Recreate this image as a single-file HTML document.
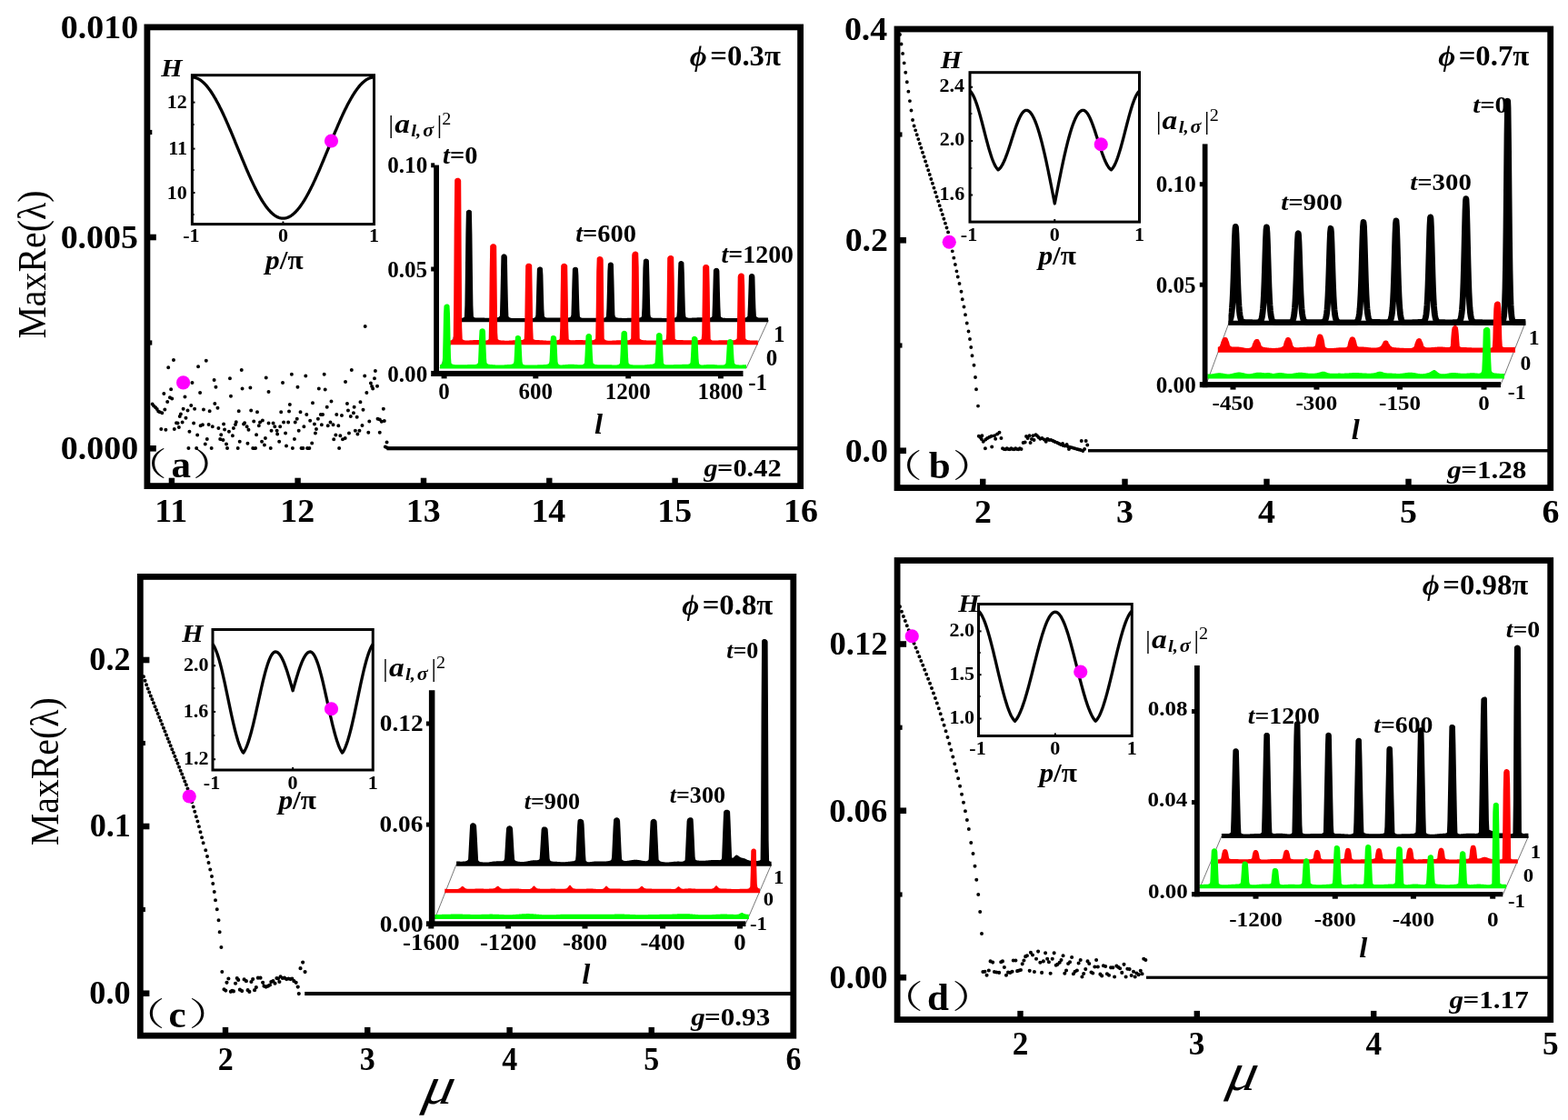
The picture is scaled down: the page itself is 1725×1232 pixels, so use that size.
<!DOCTYPE html>
<html lang="en">
<head>
<meta charset="utf-8">
<title>MaxRe(λ) versus μ</title>
<style>
html,body{margin:0;padding:0;background:#fff;}
body{width:1725px;height:1232px;overflow:hidden;}
svg{display:block;font-family:"Liberation Serif",serif;}
svg text{fill:#000;}
</style>
</head>
<body>
<svg width="1725" height="1232" viewBox="0 0 1725 1232">
<rect x="0" y="0" width="1725" height="1232" fill="#fff"/>
<rect x="161.9" y="29.9" width="718.7" height="504.7" fill="none" stroke="#000" stroke-width="6.8"/>
<rect x="164.3" y="257.7" width="7.5" height="6.6" fill="#000"/>
<rect x="164.3" y="490" width="7.5" height="6.6" fill="#000"/>
<rect x="164.3" y="142.9" width="3" height="5.2" fill="#000"/>
<rect x="164.3" y="374.4" width="3" height="5.2" fill="#000"/>
<rect x="185.7" y="525.7" width="6.4" height="7.3" fill="#000"/>
<rect x="324.4" y="525.7" width="6.4" height="7.3" fill="#000"/>
<rect x="462.8" y="525.7" width="6.4" height="7.3" fill="#000"/>
<rect x="601.1" y="525.7" width="6.4" height="7.3" fill="#000"/>
<rect x="739.4" y="525.7" width="6.4" height="7.3" fill="#000"/>
<text transform="translate(66.83 41.8) scale(1.03 1)" font-size="36.8" font-weight="bold" font-style="normal">0.010</text>
<text transform="translate(66.64 272.8) scale(1.03 1)" font-size="36.8" font-weight="bold" font-style="normal">0.005</text>
<text transform="translate(66.83 504.8) scale(1.03 1)" font-size="36.8" font-weight="bold" font-style="normal">0.000</text>
<text transform="translate(170.32 573.9) scale(1.03 1)" font-size="36.8" font-weight="bold" font-style="normal">11</text>
<text transform="translate(308.29 573.9) scale(1.03 1)" font-size="36.8" font-weight="bold" font-style="normal">12</text>
<text transform="translate(446.7 573.9) scale(1.03 1)" font-size="36.8" font-weight="bold" font-style="normal">13</text>
<text transform="translate(584.41 573.9) scale(1.03 1)" font-size="36.8" font-weight="bold" font-style="normal">14</text>
<text transform="translate(723.2 573.9) scale(1.03 1)" font-size="36.8" font-weight="bold" font-style="normal">15</text>
<text transform="translate(862.1 573.9) scale(1.03 1)" font-size="36.8" font-weight="bold" font-style="normal">16</text>
<text transform="translate(50.2 372.59) rotate(-90) scale(0.914 1)" font-size="43.6" font-weight="normal">MaxRe(λ)</text>
<text transform="translate(136.08 523) scale(1.352 1)" font-size="35.29" font-weight="normal" style="font-family:'Noto Serif CJK SC','Liberation Serif',serif">（</text>
<text transform="translate(212.1 523) scale(1.352 1)" font-size="35.29" font-weight="normal" style="font-family:'Noto Serif CJK SC','Liberation Serif',serif">）</text>
<text transform="translate(188.41 524.8)" font-size="43" font-weight="bold" font-style="normal">a</text>
<text transform="translate(758.83 71.6) scale(1.04 1)" font-size="31.5"><tspan font-weight="bold" font-style="italic">ϕ</tspan><tspan font-weight="bold" font-style="normal" dx="3.46">=0.3π</tspan></text>
<text transform="translate(774.55 523.5) scale(1.085 1)" font-size="28"><tspan font-weight="bold" font-style="italic">g</tspan><tspan font-weight="bold" font-style="normal" dx="-0.56">=0.42</tspan></text>
<path d="M190.97 395.93h0M185.19 404.35h0M218.06 403.33h0M226.78 396.74h0M265.74 407.09h0M252.96 416.22h0M292.73 415.51h0M235.61 418.04h0M211.46 420.88h0M237.44 425.65h0M266.55 427.38h0M275.38 426.46h0M188.13 428.19h0M180.32 432.96h0M220.09 432.04h0M203.45 436.61h0M253.97 435.8h0M186.91 437.32h0M189.25 438.54h0M184.17 442.09h0M236.32 444.12h0M167.64 444.42h0M169.16 446.45h0M171.19 448.28h0M172.71 450h0M174.23 452.54h0M175.75 453.25h0M178.29 454.36h0M181.33 450.51h0M210.25 445.94h0M214.1 449.7h0M201.62 449.7h0M206.49 451.52h0M223.94 450.51h0M230.64 452.33h0M239.46 448.78h0M262.7 452.33h0M276.19 451.52h0M282.99 453.35h0M198.88 455.58h0M197.77 458.12h0M204.46 459.84h0M194.02 465.22h0M195.54 465.42h0M200.61 464.41h0M213.09 465.42h0M259.76 464.2h0M258.94 467.04h0M246.06 466.44h0M220.6 468.26h0M222.93 467.25h0M229.62 467.04h0M233.78 469.28h0M269.09 465.22h0M268.07 466.44h0M271.62 469.28h0M279.23 463.49h0M288.87 462.48h0M286.03 464.41h0M284.81 468.26h0M177.28 472.02h0M182.35 472.83h0M191.78 472.02h0M196.86 469.99h0M240.38 471h0M247.07 472.62h0M256.91 471h0M251.94 474.65h0M273.45 472.83h0M208.42 474.65h0M217.15 478.41h0M243.22 478.2h0M255.9 479.22h0M282.07 478.2h0M227.8 482.97h0M242.2 482.97h0M245.45 483.99h0M291.91 481.96h0M263.71 485.81h0M288.06 485.81h0M225.77 488.55h0M249 488.55h0M272.44 487.74h0M290.9 489.57h0M207.41 493.12h0M216.13 492.91h0M232.67 493.12h0M250.02 493.12h0M261.68 493.12h0M278.22 493.12h0M281.06 493.12h0M320.87 411.75h0M336.29 413.48h0M356.68 411.75h0M386.81 407.09h0M412.89 407.9h0M401.22 413.48h0M411.97 416.22h0M311.03 421.09h0M380.02 420.07h0M407.91 421.59h0M409.13 424.94h0M410.15 427.48h0M415.02 424.64h0M327.46 425.65h0M350.8 427.38h0M357.7 428.39h0M295.51 431.03h0M403.35 432.04h0M318.84 444.93h0M344 443.2h0M364.49 441.38h0M359.73 447.77h0M381.94 444.12h0M396.45 442.19h0M389.65 447.77h0M399.49 450.71h0M421.81 449.7h0M309.2 453.35h0M318.03 452.54h0M330.51 453.35h0M337.3 456.09h0M352.83 456.09h0M355.06 456.09h0M370.28 456.09h0M375.96 457.1h0M382.96 451.52h0M388.94 454.36h0M385.8 458.12h0M392.7 458.83h0M326.75 460.86h0M324.73 464.51h0M341.16 462.68h0M349.88 460.86h0M415.52 460.86h0M417.76 461.46h0M419.78 463.7h0M422.83 462.89h0M406.29 463.49h0M295.51 465.42h0M300.58 465.42h0M312.04 464.41h0M317.12 464.41h0M345.93 466.44h0M353.84 467.25h0M363.48 464.41h0M360.74 468.26h0M366.52 467.25h0M372.31 468.26h0M398.48 468.06h0M302.3 469.28h0M308.19 469.28h0M334.36 469.28h0M298.55 473.84h0M304.64 473.64h0M328.68 473.84h0M347.96 472.02h0M390.87 473.64h0M395.44 473.64h0M305.15 477.6h0M314.07 476.58h0M346.94 476.58h0M383.97 476.58h0M393.41 477.6h0M405.28 475.67h0M417.76 475.67h0M369.36 478.41h0M374.33 479.22h0M379.71 481.96h0M376.97 483.28h0M367.23 483.18h0M323.91 482.97h0M307.17 485.81h0M343.19 487.54h0M314.99 490.58h0M425.57 486.52h0M297.74 493.12h0M321.88 493.12h0M331.52 493.12h0M333.35 493.12h0M338.12 493.12h0M340.35 493.12h0M373.12 493.12h0M423.84 491.6h0M425.87 492.41h0M401.7 358.9h0" fill="none" stroke="#000" stroke-width="4" stroke-linecap="round"/>
<rect x="425.5" y="491.1" width="452.5" height="4.2" fill="#000"/>
<circle cx="201.6" cy="420.9" r="7.6" fill="#ff00ff"/>
<rect x="211.4" y="82.7" width="200.1" height="163.9" fill="none" stroke="#000" stroke-width="3"/>
<clipPath id="c2099"><rect x="209.9" y="81.2" width="203.1" height="166.9"/></clipPath>
<g clip-path="url(#c2099)">
<path d="M211.4 85L212.23 85.03L213.07 85.11L213.9 85.24L214.74 85.43L215.57 85.66L216.4 85.96L217.24 86.3L218.07 86.7L218.9 87.14L219.74 87.64L220.57 88.2L221.41 88.8L222.24 89.45L223.07 90.15L223.91 90.91L224.74 91.71L225.57 92.56L226.41 93.46L227.24 94.4L228.08 95.4L228.91 96.44L229.74 97.52L230.58 98.65L231.41 99.82L232.24 101.04L233.08 102.29L233.91 103.59L234.75 104.93L235.58 106.31L236.41 107.73L237.25 109.18L238.08 110.68L238.91 112.2L239.75 113.76L240.58 115.36L241.41 116.99L242.25 118.65L243.08 120.34L243.92 122.05L244.75 123.8L245.58 125.57L246.42 127.37L247.25 129.19L248.09 131.04L248.92 132.9L249.75 134.79L250.59 136.7L251.42 138.62L252.25 140.56L253.09 142.52L253.92 144.48L254.75 146.47L255.59 148.46L256.42 150.46L257.26 152.47L258.09 154.49L258.92 156.51L259.76 158.54L260.59 160.57L261.43 162.6L262.26 164.63L263.09 166.66L263.93 168.69L264.76 170.71L265.59 172.73L266.43 174.74L267.26 176.74L268.1 178.73L268.93 180.72L269.76 182.68L270.6 184.64L271.43 186.58L272.26 188.5L273.1 190.41L273.93 192.3L274.76 194.16L275.6 196.01L276.43 197.83L277.27 199.63L278.1 201.4L278.93 203.15L279.77 204.86L280.6 206.55L281.44 208.21L282.27 209.84L283.1 211.44L283.94 213L284.77 214.52L285.6 216.02L286.44 217.47L287.27 218.89L288.11 220.27L288.94 221.61L289.77 222.91L290.61 224.16L291.44 225.38L292.27 226.55L293.11 227.68L293.94 228.76L294.77 229.8L295.61 230.8L296.44 231.74L297.28 232.64L298.11 233.49L298.94 234.29L299.78 235.05L300.61 235.75L301.44 236.4L302.28 237L303.11 237.56L303.95 238.06L304.78 238.5L305.61 238.9L306.45 239.24L307.28 239.54L308.12 239.77L308.95 239.96L309.78 240.09L310.62 240.17L311.45 240.2L312.28 240.17L313.12 240.09L313.95 239.96L314.78 239.77L315.62 239.54L316.45 239.24L317.29 238.9L318.12 238.5L318.95 238.06L319.79 237.56L320.62 237L321.46 236.4L322.29 235.75L323.12 235.05L323.96 234.29L324.79 233.49L325.62 232.64L326.46 231.74L327.29 230.8L328.12 229.8L328.96 228.76L329.79 227.68L330.63 226.55L331.46 225.38L332.29 224.16L333.13 222.91L333.96 221.61L334.8 220.27L335.63 218.89L336.46 217.47L337.3 216.02L338.13 214.52L338.96 213L339.8 211.44L340.63 209.84L341.47 208.21L342.3 206.55L343.13 204.86L343.97 203.15L344.8 201.4L345.63 199.63L346.47 197.83L347.3 196.01L348.13 194.16L348.97 192.3L349.8 190.41L350.64 188.5L351.47 186.58L352.3 184.64L353.14 182.68L353.97 180.72L354.81 178.73L355.64 176.74L356.47 174.74L357.31 172.73L358.14 170.71L358.97 168.69L359.81 166.66L360.64 164.63L361.48 162.6L362.31 160.57L363.14 158.54L363.98 156.51L364.81 154.49L365.64 152.47L366.48 150.46L367.31 148.46L368.14 146.47L368.98 144.48L369.81 142.52L370.65 140.56L371.48 138.62L372.31 136.7L373.15 134.79L373.98 132.9L374.81 131.04L375.65 129.19L376.48 127.37L377.32 125.57L378.15 123.8L378.98 122.05L379.82 120.34L380.65 118.65L381.49 116.99L382.32 115.36L383.15 113.76L383.99 112.2L384.82 110.68L385.65 109.18L386.49 107.73L387.32 106.31L388.15 104.93L388.99 103.59L389.82 102.29L390.66 101.04L391.49 99.82L392.32 98.65L393.16 97.52L393.99 96.44L394.83 95.4L395.66 94.4L396.49 93.46L397.33 92.56L398.16 91.71L398.99 90.91L399.83 90.15L400.66 89.45L401.5 88.8L402.33 88.2L403.16 87.64L404 87.14L404.83 86.7L405.66 86.3L406.5 85.96L407.33 85.66L408.16 85.43L409 85.24L409.83 85.11L410.67 85.03L411.5 85" fill="none" stroke="#000" stroke-width="3.3" stroke-linejoin="round" stroke-linecap="butt"/>
</g>
<text transform="translate(183.73 119.4) scale(1.05 1)" font-size="21" font-weight="bold" font-style="normal">12</text>
<rect x="212.4" y="111.6" width="2.1" height="2" fill="#000"/>
<text transform="translate(185.17 170.4) scale(1.05 1)" font-size="21" font-weight="bold" font-style="normal">11</text>
<rect x="212.4" y="162.6" width="2.1" height="2" fill="#000"/>
<text transform="translate(183.73 218.8) scale(1.05 1)" font-size="21" font-weight="bold" font-style="normal">10</text>
<rect x="212.4" y="211" width="2.1" height="2" fill="#000"/>
<rect x="212.4" y="136.3" width="1.5" height="1.4" fill="#000"/>
<rect x="212.4" y="186.3" width="1.5" height="1.4" fill="#000"/>
<rect x="212.4" y="235.3" width="1.5" height="1.4" fill="#000"/>
<rect x="310.45" y="243.5" width="2" height="2.1" fill="#000"/>
<text transform="translate(201.19 266.4) scale(1.05 1)" font-size="21" font-weight="bold" font-style="normal">-1</text>
<text transform="translate(305.94 266.4) scale(1.05 1)" font-size="21" font-weight="bold" font-style="normal">0</text>
<text transform="translate(406.06 266.4) scale(1.05 1)" font-size="21" font-weight="bold" font-style="normal">1</text>
<text transform="translate(292.09 296.3) scale(1.06 1)" font-size="29.6"><tspan font-weight="bold" font-style="italic">p</tspan><tspan font-weight="bold" font-style="normal">/π</tspan></text>
<text transform="translate(177.15 83.9) scale(1.07 1)" font-size="28" font-weight="bold" font-style="italic">H</text>
<circle cx="364.5" cy="155" r="7.6" fill="#ff00ff"/>
<line x1="484" y1="405" x2="507.4" y2="352" stroke="#555" stroke-width="0.8"/>
<line x1="821" y1="405" x2="845.3" y2="352" stroke="#555" stroke-width="0.8"/>
<path d="M507.4 354.3L507.4 349.79L507.9 349.76L508.4 349.72L508.9 349.64L509.4 349.52L509.9 349.3L510.4 348.96L510.9 348.42L511.4 335.98L511.9 299.11L512.4 256.97L512.9 232.7L513.4 231.92L513.9 231.45L514.4 231.14L514.9 230.93L515.4 230.81L515.9 230.76L516.4 230.79L516.9 230.9L517.4 231.09L517.9 231.39L518.4 231.85L518.9 232.61L519.4 256.86L519.9 298.99L520.4 335.85L520.9 348.28L521.4 348.81L521.9 349.14L522.4 349.35L522.9 349.47L523.4 349.54L523.9 349.58L524.4 349.59L524.9 349.6L525.4 349.6L525.9 349.6L526.4 349.59L526.9 349.59L527.4 349.58L527.9 349.58L528.4 349.58L528.9 349.57L529.4 349.57L529.9 349.58L530.4 349.58L530.9 349.59L531.4 349.59L531.9 349.6L532.4 349.61L532.9 349.62L533.4 349.63L533.9 349.64L534.4 349.65L534.9 349.66L535.4 349.66L535.9 349.67L536.4 349.68L536.9 349.68L537.4 349.69L537.9 349.69L538.4 349.69L538.9 349.68L539.4 349.68L539.9 349.67L540.4 349.66L540.9 349.65L541.4 349.64L541.9 349.63L542.4 349.61L542.9 349.6L543.4 349.58L543.9 349.56L544.4 349.53L544.9 349.5L545.4 349.47L545.9 349.43L546.4 349.38L546.9 349.32L547.4 349.23L547.9 349.09L548.4 348.89L548.9 348.59L549.4 348.12L549.9 347.38L550.4 328.8L550.9 306.1L551.4 281.78L551.9 280.69L552.4 280.14L552.9 279.78L553.4 279.55L553.9 279.42L554.4 279.37L554.9 279.4L555.4 279.52L555.9 279.71L556.4 280.01L556.9 280.44L557.4 281.09L557.9 282.87L558.4 311.23L558.9 333.41L559.4 347.95L559.9 348.65L560.4 349.1L560.9 349.4L561.4 349.6L561.9 349.74L562.4 349.83L562.9 349.9L563.4 349.95L563.9 349.99L564.4 350.01L564.9 350.03L565.4 350.05L565.9 350.06L566.4 350.07L566.9 350.07L567.4 350.07L567.9 350.06L568.4 350.06L568.9 350.05L569.4 350.04L569.9 350.03L570.4 350.02L570.9 350.01L571.4 350L571.9 349.98L572.4 349.97L572.9 349.96L573.4 349.94L573.9 349.93L574.4 349.92L574.9 349.91L575.4 349.91L575.9 349.9L576.4 349.9L576.9 349.89L577.4 349.89L577.9 349.89L578.4 349.9L578.9 349.9L579.4 349.91L579.9 349.91L580.4 349.92L580.9 349.93L581.4 349.94L581.9 349.95L582.4 349.97L582.9 349.98L583.4 349.98L583.9 349.99L584.4 349.99L584.9 349.99L585.4 349.97L585.9 349.95L586.4 349.9L586.9 349.82L587.4 349.7L587.9 349.49L588.4 349.17L588.9 348.66L589.4 346.86L589.9 330.24L590.4 311.63L590.9 295.78L591.4 294.86L591.9 294.33L592.4 293.97L592.9 293.73L593.4 293.58L593.9 293.5L594.4 293.5L594.9 293.58L595.4 293.74L595.9 294.01L596.4 294.41L596.9 295.08L597.4 302.52L597.9 322.82L598.4 340.02L598.9 348L599.4 348.59L599.9 348.96L600.4 349.19L600.9 349.34L601.4 349.43L601.9 349.48L602.4 349.51L602.9 349.53L603.4 349.54L603.9 349.55L604.4 349.56L604.9 349.57L605.4 349.57L605.9 349.57L606.4 349.58L606.9 349.58L607.4 349.59L607.9 349.59L608.4 349.6L608.9 349.6L609.4 349.61L609.9 349.61L610.4 349.62L610.9 349.62L611.4 349.62L611.9 349.62L612.4 349.62L612.9 349.62L613.4 349.62L613.9 349.62L614.4 349.61L614.9 349.61L615.4 349.6L615.9 349.6L616.4 349.59L616.9 349.58L617.4 349.57L617.9 349.56L618.4 349.56L618.9 349.55L619.4 349.54L619.9 349.53L620.4 349.53L620.9 349.52L621.4 349.52L621.9 349.52L622.4 349.51L622.9 349.51L623.4 349.5L623.9 349.49L624.4 349.48L624.9 349.45L625.4 349.41L625.9 349.34L626.4 349.23L626.9 349.04L627.4 348.73L627.9 348.24L628.4 346.49L628.9 329.99L629.4 311.52L629.9 295.78L630.4 294.9L630.9 294.41L631.4 294.08L631.9 293.88L632.4 293.76L632.9 293.72L633.4 293.76L633.9 293.88L634.4 294.07L634.9 294.37L635.4 294.81L635.9 295.51L636.4 302.94L636.9 323.15L637.4 340.27L637.9 348.21L638.4 348.81L638.9 349.19L639.4 349.43L639.9 349.57L640.4 349.66L640.9 349.7L641.4 349.73L641.9 349.74L642.4 349.74L642.9 349.73L643.4 349.72L643.9 349.71L644.4 349.7L644.9 349.68L645.4 349.67L645.9 349.66L646.4 349.65L646.9 349.64L647.4 349.64L647.9 349.63L648.4 349.63L648.9 349.63L649.4 349.64L649.9 349.64L650.4 349.65L650.9 349.66L651.4 349.67L651.9 349.68L652.4 349.7L652.9 349.72L653.4 349.73L653.9 349.75L654.4 349.77L654.9 349.79L655.4 349.81L655.9 349.83L656.4 349.85L656.9 349.86L657.4 349.88L657.9 349.89L658.4 349.91L658.9 349.92L659.4 349.93L659.9 349.93L660.4 349.93L660.9 349.94L661.4 349.92L661.9 349.91L662.4 349.89L662.9 349.87L663.4 349.83L663.9 349.78L664.4 349.7L664.9 349.58L665.4 349.41L665.9 349.14L666.4 348.73L666.9 348.1L667.4 339.22L667.9 320.45L668.4 298.31L668.9 290.3L669.4 289.59L669.9 289.14L670.4 288.83L670.9 288.63L671.4 288.52L671.9 288.48L672.4 288.52L672.9 288.65L673.4 288.87L673.9 289.21L674.4 289.73L674.9 290.63L675.4 307.78L675.9 328.03L676.4 346.13L676.9 348.21L677.4 348.73L677.9 349.07L678.4 349.3L678.9 349.45L679.4 349.55L679.9 349.62L680.4 349.68L680.9 349.72L681.4 349.75L681.9 349.78L682.4 349.81L682.9 349.83L683.4 349.85L683.9 349.86L684.4 349.88L684.9 349.89L685.4 349.9L685.9 349.9L686.4 349.91L686.9 349.91L687.4 349.91L687.9 349.9L688.4 349.9L688.9 349.89L689.4 349.88L689.9 349.87L690.4 349.86L690.9 349.85L691.4 349.83L691.9 349.82L692.4 349.8L692.9 349.78L693.4 349.77L693.9 349.75L694.4 349.74L694.9 349.72L695.4 349.71L695.9 349.7L696.4 349.69L696.9 349.68L697.4 349.67L697.9 349.67L698.4 349.66L698.9 349.66L699.4 349.66L699.9 349.67L700.4 349.66L700.9 349.66L701.4 349.66L701.9 349.65L702.4 349.63L702.9 349.61L703.4 349.55L703.9 349.47L704.4 349.33L704.9 349.09L705.4 348.72L705.9 348.13L706.4 338.52L706.9 318.42L707.4 294.7L707.9 286.26L708.4 285.58L708.9 285.16L709.4 284.87L709.9 284.69L710.4 284.59L710.9 284.57L711.4 284.63L711.9 284.76L712.4 284.98L712.9 285.32L713.4 285.82L713.9 286.72L714.4 305.02L714.9 326.73L715.4 346.11L715.9 348.43L716.4 348.93L716.9 349.24L717.4 349.44L717.9 349.56L718.4 349.64L718.9 349.68L719.4 349.71L719.9 349.73L720.4 349.74L720.9 349.75L721.4 349.75L721.9 349.76L722.4 349.77L722.9 349.77L723.4 349.78L723.9 349.78L724.4 349.79L724.9 349.8L725.4 349.81L725.9 349.82L726.4 349.84L726.9 349.85L727.4 349.86L727.9 349.87L728.4 349.88L728.9 349.9L729.4 349.91L729.9 349.92L730.4 349.92L730.9 349.93L731.4 349.93L731.9 349.94L732.4 349.94L732.9 349.94L733.4 349.94L733.9 349.93L734.4 349.93L734.9 349.92L735.4 349.91L735.9 349.9L736.4 349.88L736.9 349.87L737.4 349.85L737.9 349.83L738.4 349.82L738.9 349.79L739.4 349.76L739.9 349.73L740.4 349.7L740.9 349.66L741.4 349.6L741.9 349.53L742.4 349.42L742.9 349.27L743.4 349.03L743.9 348.67L744.4 348.1L744.9 342.47L745.4 323.59L745.9 302.02L746.4 288.93L746.9 288.15L747.4 287.68L747.9 287.37L748.4 287.17L748.9 287.06L749.4 287.03L749.9 287.08L750.4 287.21L750.9 287.42L751.4 287.75L751.9 288.23L752.4 289.02L752.9 302.12L753.4 323.7L753.9 342.58L754.4 348.21L754.9 348.77L755.4 349.13L755.9 349.35L756.4 349.49L756.9 349.58L757.4 349.63L757.9 349.66L758.4 349.68L758.9 349.68L759.4 349.67L759.9 349.66L760.4 349.66L760.9 349.64L761.4 349.62L761.9 349.59L762.4 349.57L762.9 349.55L763.4 349.52L763.9 349.5L764.4 349.48L764.9 349.45L765.4 349.43L765.9 349.41L766.4 349.39L766.9 349.37L767.4 349.36L767.9 349.35L768.4 349.34L768.9 349.33L769.4 349.33L769.9 349.33L770.4 349.33L770.9 349.33L771.4 349.34L771.9 349.35L772.4 349.37L772.9 349.39L773.4 349.41L773.9 349.43L774.4 349.45L774.9 349.48L775.4 349.51L775.9 349.54L776.4 349.57L776.9 349.6L777.4 349.63L777.9 349.64L778.4 349.67L778.9 349.68L779.4 349.69L779.9 349.69L780.4 349.67L780.9 349.62L781.4 349.52L781.9 349.35L782.4 349.08L782.9 348.63L783.4 347.91L783.9 333.96L784.4 316.36L784.9 297.32L785.4 296.24L785.9 295.67L786.4 295.3L786.9 295.06L787.4 294.9L787.9 294.82L788.4 294.82L788.9 294.9L789.4 295.06L789.9 295.32L790.4 295.71L790.9 296.32L791.4 298.06L791.9 320.02L792.4 337.18L792.9 348.02L793.4 348.68L793.9 349.1L794.4 349.37L794.9 349.55L795.4 349.66L795.9 349.73L796.4 349.78L796.9 349.82L797.4 349.85L797.9 349.87L798.4 349.89L798.9 349.92L799.4 349.94L799.9 349.95L800.4 349.97L800.9 349.99L801.4 350L801.9 350.02L802.4 350.04L802.9 350.05L803.4 350.07L803.9 350.08L804.4 350.09L804.9 350.1L805.4 350.1L805.9 350.1L806.4 350.1L806.9 350.1L807.4 350.1L807.9 350.1L808.4 350.1L808.9 350.1L809.4 350.08L809.9 350.07L810.4 350.06L810.9 350.04L811.4 350.02L811.9 350L812.4 349.98L812.9 349.96L813.4 349.93L813.9 349.91L814.4 349.89L814.9 349.86L815.4 349.84L815.9 349.82L816.4 349.8L816.9 349.76L817.4 349.73L817.9 349.7L818.4 349.67L818.9 349.62L819.4 349.56L819.9 349.47L820.4 349.34L820.9 349.15L821.4 348.84L821.9 348.37L822.4 347.64L822.9 335.68L823.4 320.28L823.9 303.53L824.4 302.44L824.9 301.87L825.4 301.51L825.9 301.26L826.4 301.11L826.9 301.04L827.4 301.05L827.9 301.14L828.4 301.31L828.9 301.57L829.4 301.97L829.9 302.59L830.4 304.33L830.9 323.53L831.4 338.54L831.9 347.79L832.4 348.45L832.9 348.86L833.4 349.12L833.9 349.28L834.4 349.38L834.9 349.44L835.4 349.47L835.9 349.49L836.4 349.5L836.9 349.5L837.4 349.5L837.9 349.5L838.4 349.5L838.9 349.49L839.4 349.49L839.9 349.49L840.4 349.49L840.9 349.49L841.4 349.49L841.9 349.5L842.4 349.51L842.9 349.52L843.4 349.53L843.9 349.54L844.4 349.56L844.9 349.58L845.3 354.3Z" fill="#000"/>
<path d="M495.2 379.3L495.2 374.46L495.7 374.39L496.2 374.3L496.7 374.16L497.2 373.98L497.7 373.7L498.2 373.28L498.7 372.64L499.2 329.33L499.7 245.17L500.2 197.97L500.7 197.11L501.2 196.58L501.7 196.21L502.2 195.95L502.7 195.79L503.2 195.7L503.7 195.68L504.2 195.74L504.7 195.87L505.2 196.08L505.7 196.39L506.2 196.82L506.7 197.46L507.2 198.65L507.7 280.98L508.2 359.66L508.7 372.98L509.2 373.51L509.7 373.86L510.2 374.08L510.7 374.22L511.2 374.32L511.7 374.38L512.2 374.42L512.7 374.44L513.2 374.46L513.7 374.46L514.2 374.45L514.7 374.45L515.2 374.43L515.7 374.41L516.2 374.39L516.7 374.36L517.2 374.33L517.7 374.3L518.2 374.27L518.7 374.24L519.2 374.21L519.7 374.17L520.2 374.14L520.7 374.12L521.2 374.09L521.7 374.07L522.2 374.05L522.7 374.03L523.2 374.02L523.7 374.01L524.2 374.01L524.7 374.01L525.2 374.02L525.7 374.03L526.2 374.04L526.7 374.06L527.2 374.08L527.7 374.11L528.2 374.14L528.7 374.17L529.2 374.21L529.7 374.24L530.2 374.28L530.7 374.31L531.2 374.35L531.7 374.38L532.2 374.41L532.7 374.43L533.2 374.45L533.7 374.46L534.2 374.46L534.7 374.43L535.2 374.39L535.7 374.3L536.2 374.15L536.7 373.9L537.2 373.52L537.7 372.9L538.2 348.2L538.7 298.85L539.2 270.57L539.7 269.72L540.2 269.18L540.7 268.8L541.2 268.53L541.7 268.34L542.2 268.23L542.7 268.19L543.2 268.21L543.7 268.31L544.2 268.49L544.7 268.77L545.2 269.17L545.7 269.78L546.2 270.94L546.7 319.56L547.2 365.68L547.7 372.91L548.2 373.43L548.7 373.77L549.2 373.99L549.7 374.14L550.2 374.25L550.7 374.32L551.2 374.38L551.7 374.43L552.2 374.47L552.7 374.51L553.2 374.54L553.7 374.58L554.2 374.6L554.7 374.62L555.2 374.64L555.7 374.66L556.2 374.67L556.7 374.68L557.2 374.68L557.7 374.68L558.2 374.67L558.7 374.67L559.2 374.65L559.7 374.63L560.2 374.61L560.7 374.59L561.2 374.56L561.7 374.53L562.2 374.49L562.7 374.46L563.2 374.42L563.7 374.38L564.2 374.35L564.7 374.31L565.2 374.27L565.7 374.24L566.2 374.2L566.7 374.17L567.2 374.15L567.7 374.12L568.2 374.1L568.7 374.09L569.2 374.08L569.7 374.07L570.2 374.06L570.7 374.06L571.2 374.06L571.7 374.06L572.2 374.06L572.7 374.06L573.2 374.06L573.7 374.04L574.2 374L574.7 373.94L575.2 373.82L575.7 373.62L576.2 373.29L576.7 372.75L577.2 360.55L577.7 323.01L578.2 292.13L578.7 291.18L579.2 290.62L579.7 290.24L580.2 289.98L580.7 289.8L581.2 289.69L581.7 289.65L582.2 289.68L582.7 289.77L583.2 289.93L583.7 290.18L584.2 290.55L584.7 291.09L585.2 292.03L585.7 322.91L586.2 360.44L586.7 372.64L587.2 373.17L587.7 373.51L588.2 373.71L588.7 373.84L589.2 373.92L589.7 373.97L590.2 374L590.7 374.02L591.2 374.04L591.7 374.06L592.2 374.07L592.7 374.1L593.2 374.12L593.7 374.14L594.2 374.17L594.7 374.2L595.2 374.23L595.7 374.26L596.2 374.3L596.7 374.33L597.2 374.37L597.7 374.41L598.2 374.45L598.7 374.48L599.2 374.52L599.7 374.55L600.2 374.58L600.7 374.61L601.2 374.63L601.7 374.65L602.2 374.66L602.7 374.68L603.2 374.68L603.7 374.69L604.2 374.68L604.7 374.68L605.2 374.67L605.7 374.66L606.2 374.64L606.7 374.62L607.2 374.6L607.7 374.58L608.2 374.56L608.7 374.53L609.2 374.51L609.7 374.48L610.2 374.45L610.7 374.42L611.2 374.39L611.7 374.36L612.2 374.32L612.7 374.27L613.2 374.2L613.7 374.1L614.2 373.95L614.7 373.73L615.2 373.38L615.7 372.83L616.2 360.61L616.7 323.07L617.2 292.18L617.7 291.23L618.2 290.69L618.7 290.32L619.2 290.07L619.7 289.91L620.2 289.82L620.7 289.81L621.2 289.86L621.7 289.98L622.2 290.17L622.7 290.45L623.2 290.84L623.7 291.41L624.2 292.37L624.7 323.27L625.2 360.81L625.7 373.03L626.2 373.57L626.7 373.9L627.2 374.1L627.7 374.22L628.2 374.28L628.7 374.31L629.2 374.31L629.7 374.3L630.2 374.28L630.7 374.25L631.2 374.23L631.7 374.2L632.2 374.17L632.7 374.14L633.2 374.11L633.7 374.08L634.2 374.05L634.7 374.03L635.2 374.02L635.7 374L636.2 374L636.7 373.99L637.2 373.99L637.7 373.99L638.2 374L638.7 374.01L639.2 374.03L639.7 374.04L640.2 374.06L640.7 374.09L641.2 374.11L641.7 374.14L642.2 374.17L642.7 374.19L643.2 374.22L643.7 374.25L644.2 374.27L644.7 374.3L645.2 374.32L645.7 374.34L646.2 374.36L646.7 374.37L647.2 374.38L647.7 374.39L648.2 374.39L648.7 374.39L649.2 374.39L649.7 374.37L650.2 374.36L650.7 374.34L651.2 374.31L651.7 374.27L652.2 374.21L652.7 374.12L653.2 374L653.7 373.81L654.2 373.53L654.7 373.09L655.2 372.41L655.7 343.54L656.2 298.71L656.7 284.04L657.2 283.29L657.7 282.81L658.2 282.48L658.7 282.25L659.2 282.11L659.7 282.05L660.2 282.06L660.7 282.14L661.2 282.3L661.7 282.54L662.2 282.87L662.7 283.35L663.2 284.05L663.7 285.94L664.2 335.64L664.7 372.5L665.2 373.26L665.7 373.76L666.2 374.08L666.7 374.29L667.2 374.43L667.7 374.53L668.2 374.59L668.7 374.63L669.2 374.66L669.7 374.68L670.2 374.69L670.7 374.7L671.2 374.69L671.7 374.68L672.2 374.67L672.7 374.65L673.2 374.63L673.7 374.61L674.2 374.58L674.7 374.56L675.2 374.53L675.7 374.5L676.2 374.47L676.7 374.44L677.2 374.41L677.7 374.38L678.2 374.36L678.7 374.33L679.2 374.31L679.7 374.29L680.2 374.27L680.7 374.26L681.2 374.25L681.7 374.24L682.2 374.24L682.7 374.24L683.2 374.24L683.7 374.25L684.2 374.26L684.7 374.27L685.2 374.28L685.7 374.29L686.2 374.31L686.7 374.32L687.2 374.34L687.7 374.35L688.2 374.36L688.7 374.37L689.2 374.37L689.7 374.37L690.2 374.36L690.7 374.34L691.2 374.29L691.7 374.22L692.2 374.09L692.7 373.9L693.2 373.6L693.7 373.12L694.2 372.37L694.7 333.16L695.2 280.44L695.7 278.56L696.2 277.86L696.7 277.39L697.2 277.05L697.7 276.81L698.2 276.66L698.7 276.57L699.2 276.55L699.7 276.61L700.2 276.73L700.7 276.95L701.2 277.27L701.7 277.73L702.2 278.47L702.7 293.92L703.2 341.48L703.7 372.21L704.2 372.89L704.7 373.32L705.2 373.6L705.7 373.79L706.2 373.92L706.7 374.01L707.2 374.08L707.7 374.13L708.2 374.18L708.7 374.22L709.2 374.26L709.7 374.3L710.2 374.33L710.7 374.36L711.2 374.39L711.7 374.42L712.2 374.44L712.7 374.47L713.2 374.49L713.7 374.5L714.2 374.52L714.7 374.53L715.2 374.53L715.7 374.54L716.2 374.54L716.7 374.54L717.2 374.53L717.7 374.52L718.2 374.51L718.7 374.5L719.2 374.48L719.7 374.47L720.2 374.45L720.7 374.43L721.2 374.42L721.7 374.4L722.2 374.38L722.7 374.37L723.2 374.36L723.7 374.35L724.2 374.34L724.7 374.33L725.2 374.33L725.7 374.32L726.2 374.33L726.7 374.33L727.2 374.33L727.7 374.33L728.2 374.34L728.7 374.34L729.2 374.33L729.7 374.32L730.2 374.28L730.7 374.22L731.2 374.11L731.7 373.92L732.2 373.62L732.7 373.13L733.2 366.98L733.7 326.55L734.2 283.81L734.7 282.66L735.2 282.05L735.7 281.64L736.2 281.35L736.7 281.16L737.2 281.03L737.7 280.98L738.2 280.98L738.7 281.06L739.2 281.2L739.7 281.43L740.2 281.77L740.7 282.26L741.2 283.07L741.7 308.01L742.2 351.26L742.7 372.67L743.2 373.25L743.7 373.61L744.2 373.83L744.7 373.95L745.2 374.03L745.7 374.07L746.2 374.08L746.7 374.09L747.2 374.09L747.7 374.09L748.2 374.09L748.7 374.09L749.2 374.09L749.7 374.09L750.2 374.09L750.7 374.1L751.2 374.11L751.7 374.13L752.2 374.14L752.7 374.16L753.2 374.18L753.7 374.19L754.2 374.21L754.7 374.23L755.2 374.25L755.7 374.27L756.2 374.29L756.7 374.31L757.2 374.33L757.7 374.34L758.2 374.35L758.7 374.36L759.2 374.37L759.7 374.37L760.2 374.37L760.7 374.37L761.2 374.37L761.7 374.36L762.2 374.35L762.7 374.34L763.2 374.33L763.7 374.32L764.2 374.3L764.7 374.29L765.2 374.27L765.7 374.26L766.2 374.24L766.7 374.22L767.2 374.2L767.7 374.18L768.2 374.15L768.7 374.11L769.2 374.06L769.7 373.98L770.2 373.85L770.7 373.65L771.2 373.34L771.7 372.85L772.2 367.54L772.7 331.61L773.2 293.54L773.7 292.4L774.2 291.81L774.7 291.42L775.2 291.16L775.7 290.99L776.2 290.9L776.7 290.88L777.2 290.93L777.7 291.04L778.2 291.23L778.7 291.5L779.2 291.88L779.7 292.42L780.2 293.27L780.7 315.64L781.2 354.11L781.7 372.99L782.2 373.6L782.7 373.99L783.2 374.23L783.7 374.38L784.2 374.47L784.7 374.52L785.2 374.54L785.7 374.55L786.2 374.54L786.7 374.53L787.2 374.52L787.7 374.5L788.2 374.48L788.7 374.46L789.2 374.43L789.7 374.41L790.2 374.39L790.7 374.37L791.2 374.35L791.7 374.34L792.2 374.32L792.7 374.31L793.2 374.3L793.7 374.3L794.2 374.29L794.7 374.29L795.2 374.29L795.7 374.3L796.2 374.3L796.7 374.31L797.2 374.32L797.7 374.32L798.2 374.33L798.7 374.34L799.2 374.35L799.7 374.36L800.2 374.37L800.7 374.38L801.2 374.39L801.7 374.39L802.2 374.39L802.7 374.39L803.2 374.39L803.7 374.39L804.2 374.38L804.7 374.36L805.2 374.35L805.7 374.32L806.2 374.3L806.7 374.26L807.2 374.21L807.7 374.14L808.2 374.04L808.7 373.9L809.2 373.69L809.7 373.37L810.2 372.88L810.7 372.13L811.2 343.48L811.7 304.28L812.2 302.41L812.7 301.72L813.2 301.26L813.7 300.94L814.2 300.72L814.7 300.58L815.2 300.52L815.7 300.52L816.2 300.61L816.7 300.76L817.2 301L817.7 301.35L818.2 301.85L818.7 302.61L819.2 314.56L819.7 349.94L820.2 372.33L820.7 373.03L821.2 373.48L821.7 373.77L822.2 373.97L822.7 374.1L823.2 374.2L823.7 374.27L824.2 374.32L824.7 374.36L825.2 374.39L825.7 374.41L826.2 374.44L826.7 374.45L827.2 374.46L827.7 374.47L828.2 374.47L828.7 374.48L829.2 374.48L829.7 374.48L830.2 374.47L830.7 374.47L831.2 374.46L831.7 374.45L832.2 374.45L832.7 374.44L833.2 374.43L833.7 374.42L834 379.3Z" fill="#ff0000"/>
<path d="M484 405.6L484 401.33L484.5 401.24L485 401.09L485.5 400.85L486 400.49L486.5 399.91L487 393.19L487.5 371.33L488 345.54L488.5 336.45L489 335.72L489.5 335.25L490 334.92L490.5 334.69L491 334.56L491.5 334.49L492 334.51L492.5 334.6L493 334.78L493.5 335.06L494 335.49L494.5 336.19L495 345.24L495.5 371.01L496 392.85L496.5 399.55L497 400.11L497.5 400.47L498 400.71L498.5 400.87L499 400.97L499.5 401.05L500 401.1L500.5 401.15L501 401.18L501.5 401.21L502 401.24L502.5 401.27L503 401.29L503.5 401.3L504 401.32L504.5 401.33L505 401.34L505.5 401.35L506 401.36L506.5 401.36L507 401.36L507.5 401.36L508 401.35L508.5 401.34L509 401.33L509.5 401.31L510 401.3L510.5 401.28L511 401.26L511.5 401.24L512 401.22L512.5 401.2L513 401.18L513.5 401.16L514 401.14L514.5 401.12L515 401.1L515.5 401.08L516 401.07L516.5 401.06L517 401.05L517.5 401.04L518 401.04L518.5 401.04L519 401.04L519.5 401.04L520 401.03L520.5 401.03L521 401.03L521.5 401.03L522 401.01L522.5 400.99L523 400.94L523.5 400.87L524 400.75L524.5 400.55L525 400.23L525.5 399.73L526 398.78L526.5 386.49L527 372.44L527.5 363.41L528 362.61L528.5 362.12L529 361.79L529.5 361.56L530 361.41L530.5 361.35L531 361.35L531.5 361.43L532 361.6L532.5 361.86L533 362.25L533.5 362.87L534 364.63L534.5 380.99L535 393.78L535.5 399.24L536 399.85L536.5 400.23L537 400.48L537.5 400.64L538 400.76L538.5 400.83L539 400.89L539.5 400.94L540 400.98L540.5 401.02L541 401.06L541.5 401.11L542 401.15L542.5 401.19L543 401.23L543.5 401.27L544 401.32L544.5 401.36L545 401.4L545.5 401.43L546 401.47L546.5 401.5L547 401.53L547.5 401.56L548 401.58L548.5 401.6L549 401.6L549.5 401.6L550 401.6L550.5 401.6L551 401.6L551.5 401.59L552 401.57L552.5 401.54L553 401.51L553.5 401.48L554 401.45L554.5 401.41L555 401.37L555.5 401.33L556 401.28L556.5 401.24L557 401.2L557.5 401.16L558 401.12L558.5 401.08L559 401.05L559.5 401.01L560 400.97L560.5 400.94L561 400.91L561.5 400.88L562 400.83L562.5 400.77L563 400.69L563.5 400.55L564 400.34L564.5 400.01L565 399.47L565.5 397.25L566 387.28L566.5 375.5L567 370.52L567.5 369.85L568 369.45L568.5 369.18L569 369.03L569.5 368.95L570 368.96L570.5 369.03L571 369.18L571.5 369.41L572 369.75L572.5 370.22L573 370.95L573.5 376L574 387.82L574.5 397.83L575 400.08L575.5 400.63L576 400.99L576.5 401.21L577 401.35L577.5 401.44L578 401.5L578.5 401.54L579 401.56L579.5 401.57L580 401.58L580.5 401.59L581 401.59L581.5 401.58L582 401.56L582.5 401.55L583 401.54L583.5 401.53L584 401.52L584.5 401.51L585 401.5L585.5 401.49L586 401.48L586.5 401.47L587 401.46L587.5 401.45L588 401.45L588.5 401.44L589 401.43L589.5 401.42L590 401.41L590.5 401.4L591 401.39L591.5 401.37L592 401.36L592.5 401.34L593 401.33L593.5 401.31L594 401.29L594.5 401.27L595 401.24L595.5 401.22L596 401.2L596.5 401.18L597 401.15L597.5 401.13L598 401.11L598.5 401.08L599 401.05L599.5 401.03L600 401L600.5 400.96L601 400.92L601.5 400.85L602 400.76L602.5 400.62L603 400.4L603.5 400.06L604 399.51L604.5 397.28L605 387.3L605.5 375.52L606 370.52L606.5 369.85L607 369.44L607.5 369.17L608 369L608.5 368.93L609 368.93L609.5 369L610 369.15L610.5 369.38L611 369.71L611.5 370.19L612 370.92L612.5 375.96L613 387.79L613.5 397.81L614 400.06L614.5 400.62L615 400.97L615.5 401.19L616 401.32L616.5 401.39L617 401.43L617.5 401.44L618 401.43L618.5 401.4L619 401.37L619.5 401.34L620 401.3L620.5 401.25L621 401.2L621.5 401.15L622 401.1L622.5 401.05L623 401.01L623.5 400.96L624 400.92L624.5 400.88L625 400.84L625.5 400.81L626 400.79L626.5 400.77L627 400.75L627.5 400.74L628 400.74L628.5 400.74L629 400.74L629.5 400.76L630 400.77L630.5 400.79L631 400.82L631.5 400.85L632 400.88L632.5 400.91L633 400.95L633.5 400.99L634 401.03L634.5 401.07L635 401.1L635.5 401.14L636 401.17L636.5 401.21L637 401.24L637.5 401.25L638 401.27L638.5 401.27L639 401.27L639.5 401.25L640 401.21L640.5 401.14L641 401.02L641.5 400.83L642 400.52L642.5 400.05L643 399.3L643.5 391.07L644 379.61L644.5 369.4L645 368.46L645.5 367.91L646 367.53L646.5 367.28L647 367.11L647.5 367.02L648 367.01L648.5 367.07L649 367.22L649.5 367.47L650 367.84L650.5 368.41L651 369.51L651.5 381.83L652 392.93L652.5 399.21L653 399.88L653.5 400.32L654 400.6L654.5 400.78L655 400.9L655.5 400.99L656 401.05L656.5 401.09L657 401.13L657.5 401.16L658 401.18L658.5 401.21L659 401.22L659.5 401.24L660 401.25L660.5 401.26L661 401.27L661.5 401.28L662 401.29L662.5 401.29L663 401.3L663.5 401.3L664 401.3L664.5 401.3L665 401.3L665.5 401.3L666 401.3L666.5 401.3L667 401.3L667.5 401.3L668 401.3L668.5 401.3L669 401.31L669.5 401.31L670 401.31L670.5 401.32L671 401.33L671.5 401.34L672 401.35L672.5 401.36L673 401.37L673.5 401.38L674 401.4L674.5 401.41L675 401.42L675.5 401.44L676 401.45L676.5 401.45L677 401.45L677.5 401.44L678 401.43L678.5 401.4L679 401.36L679.5 401.28L680 401.16L680.5 400.97L681 400.66L681.5 400.19L682 399.44L682.5 390.11L683 377.42L683.5 366.24L684 365.3L684.5 364.75L685 364.37L685.5 364.11L686 363.94L686.5 363.85L687 363.83L687.5 363.89L688 364.03L688.5 364.28L689 364.64L689.5 365.21L690 366.31L690.5 379.86L691 392.15L691.5 399.31L692 399.99L692.5 400.42L693 400.71L693.5 400.91L694 401.04L694.5 401.14L695 401.22L695.5 401.28L696 401.34L696.5 401.39L697 401.44L697.5 401.49L698 401.54L698.5 401.58L699 401.6L699.5 401.6L700 401.6L700.5 401.6L701 401.6L701.5 401.6L702 401.6L702.5 401.6L703 401.6L703.5 401.6L704 401.6L704.5 401.6L705 401.6L705.5 401.6L706 401.6L706.5 401.6L707 401.6L707.5 401.58L708 401.53L708.5 401.48L709 401.43L709.5 401.37L710 401.31L710.5 401.26L711 401.2L711.5 401.15L712 401.09L712.5 401.04L713 400.99L713.5 400.95L714 400.91L714.5 400.88L715 400.84L715.5 400.81L716 400.78L716.5 400.75L717 400.72L717.5 400.67L718 400.61L718.5 400.51L719 400.36L719.5 400.11L720 399.71L720.5 399.08L721 392.54L721.5 381.08L722 368.39L722.5 367.32L723 366.78L723.5 366.44L724 366.22L724.5 366.1L725 366.05L725.5 366.08L726 366.18L726.5 366.36L727 366.62L727.5 367L728 367.54L728.5 368.47L729 379.01L729.5 390.86L730 399.45L730.5 400.18L731 400.64L731.5 400.93L732 401.11L732.5 401.22L733 401.28L733.5 401.32L734 401.33L734.5 401.33L735 401.33L735.5 401.31L736 401.31L736.5 401.29L737 401.27L737.5 401.25L738 401.23L738.5 401.21L739 401.19L739.5 401.18L740 401.16L740.5 401.14L741 401.13L741.5 401.11L742 401.1L742.5 401.09L743 401.07L743.5 401.06L744 401.05L744.5 401.03L745 401.02L745.5 401.01L746 400.99L746.5 400.98L747 400.97L747.5 400.95L748 400.94L748.5 400.92L749 400.91L749.5 400.89L750 400.88L750.5 400.86L751 400.85L751.5 400.84L752 400.83L752.5 400.82L753 400.82L753.5 400.81L754 400.8L754.5 400.79L755 400.79L755.5 400.78L756 400.76L756.5 400.73L757 400.67L757.5 400.58L758 400.42L758.5 400.16L759 399.73L759.5 399.03L760 391.69L760.5 381.22L761 371.81L761.5 370.94L762 370.46L762.5 370.15L763 369.96L763.5 369.86L764 369.83L764.5 369.88L765 370L765.5 370.2L766 370.49L766.5 370.9L767 371.47L767.5 372.58L768 383.96L768.5 394.16L769 399.77L769.5 400.44L770 400.86L770.5 401.13L771 401.3L771.5 401.4L772 401.44L772.5 401.45L773 401.44L773.5 401.42L774 401.38L774.5 401.35L775 401.31L775.5 401.27L776 401.22L776.5 401.18L777 401.13L777.5 401.09L778 401.05L778.5 401.02L779 400.99L779.5 400.97L780 400.95L780.5 400.93L781 400.92L781.5 400.92L782 400.92L782.5 400.93L783 400.94L783.5 400.96L784 400.99L784.5 401.01L785 401.05L785.5 401.08L786 401.12L786.5 401.16L787 401.2L787.5 401.25L788 401.29L788.5 401.34L789 401.38L789.5 401.42L790 401.46L790.5 401.5L791 401.53L791.5 401.56L792 401.59L792.5 401.6L793 401.59L793.5 401.58L794 401.57L794.5 401.55L795 401.52L795.5 401.47L796 401.39L796.5 401.28L797 401.09L797.5 400.79L798 400.31L798.5 399.56L799 393.25L799.5 383.95L800 375.44L800.5 374.5L801 373.95L801.5 373.58L802 373.32L802.5 373.15L803 373.07L803.5 373.06L804 373.13L804.5 373.29L805 373.54L805.5 373.91L806 374.48L806.5 375.59L807 385.74L807.5 394.75L808 399.5L808.5 400.17L809 400.61L809.5 400.88L810 401.06L810.5 401.18L811 401.26L811.5 401.31L812 401.35L812.5 401.37L813 401.39L813.5 401.4L814 401.41L814.5 401.41L815 401.41L815.5 401.4L816 401.39L816.5 401.38L817 401.37L817.5 401.36L818 401.35L818.5 401.33L819 401.32L819.5 401.3L820 401.28L820.5 401.27L821 401.25L821 405.6Z" fill="#00ff00"/>
<rect x="477.2" y="181.6" width="5.8" height="232.4" fill="#000"/>
<rect x="474.2" y="407.9" width="343.3" height="6.1" fill="#000"/>
<text transform="translate(426.26 190.4) scale(1.04 1)" font-size="24.2" font-weight="bold" font-style="normal">0.10</text>
<rect x="474.2" y="179.3" width="4" height="5" fill="#000"/>
<text transform="translate(426.14 304.6) scale(1.04 1)" font-size="24.2" font-weight="bold" font-style="normal">0.05</text>
<rect x="474.2" y="293.5" width="4" height="5" fill="#000"/>
<text transform="translate(426.26 419.8) scale(1.04 1)" font-size="24.2" font-weight="bold" font-style="normal">0.00</text>
<text transform="translate(482.35 439.2)" font-size="25" font-weight="bold" font-style="normal">0</text>
<rect x="485.6" y="413" width="6" height="3.4" fill="#000"/>
<text transform="translate(570.61 439.2)" font-size="25" font-weight="bold" font-style="normal">600</text>
<rect x="586.3" y="413" width="6" height="3.4" fill="#000"/>
<text transform="translate(665.7 439.2)" font-size="25" font-weight="bold" font-style="normal">1200</text>
<rect x="688.2" y="413" width="6" height="3.4" fill="#000"/>
<text transform="translate(767.4 439.2)" font-size="25" font-weight="bold" font-style="normal">1800</text>
<rect x="789.9" y="413" width="6" height="3.4" fill="#000"/>
<text transform="translate(653.96 477)" font-size="32.5" font-weight="bold" font-style="italic">l</text>
<text transform="translate(851.08 375.7)" font-size="25" font-weight="bold" font-style="normal">1</text>
<text transform="translate(842.75 402)" font-size="25" font-weight="bold" font-style="normal">0</text>
<text transform="translate(823.25 429)" font-size="25" font-weight="bold" font-style="normal">-1</text>
<text transform="translate(427.29 145.7) scale(1.1 1)" font-size="30.4"><tspan font-weight="normal" font-style="normal" font-size="26.75">|</tspan><tspan font-weight="bold" font-style="italic" dx="0.91">a</tspan><tspan font-weight="bold" font-style="italic" font-size="18.85" dx="1.22" dy="4.26">l,</tspan><tspan font-weight="bold" font-style="italic" font-size="20.06" dx="1.82">σ</tspan><tspan font-weight="normal" font-style="normal" font-size="26.75" dx="3.04" dy="-4.26">|</tspan><tspan font-weight="normal" font-style="normal" font-size="18.24" dy="-9.12">2</tspan></text>
<text transform="translate(487.05 179.5) scale(1.07 1)" font-size="26.6"><tspan font-weight="bold" font-style="italic">t</tspan><tspan font-weight="bold" font-style="normal">=0</tspan></text>
<text transform="translate(633.15 265.5) scale(1.07 1)" font-size="26.6"><tspan font-weight="bold" font-style="italic">t</tspan><tspan font-weight="bold" font-style="normal">=600</tspan></text>
<text transform="translate(793.56 288.7) scale(1.05 1)" font-size="26.6"><tspan font-weight="bold" font-style="italic">t</tspan><tspan font-weight="bold" font-style="normal">=1200</tspan></text>
<rect x="987" y="32" width="718.7" height="504.6" fill="none" stroke="#000" stroke-width="6.8"/>
<rect x="989.5" y="260.95" width="7.5" height="6.6" fill="#000"/>
<rect x="989.5" y="492.45" width="7.5" height="6.6" fill="#000"/>
<rect x="989.5" y="145.4" width="3" height="5.2" fill="#000"/>
<rect x="989.5" y="377.4" width="3" height="5.2" fill="#000"/>
<rect x="1078.05" y="526.7" width="6.4" height="7.3" fill="#000"/>
<rect x="1234.3" y="526.7" width="6.4" height="7.3" fill="#000"/>
<rect x="1390.3" y="526.7" width="6.4" height="7.3" fill="#000"/>
<rect x="1546.3" y="526.7" width="6.4" height="7.3" fill="#000"/>
<text transform="translate(928.88 43.8) scale(1.03 1)" font-size="36.8" font-weight="bold" font-style="normal">0.4</text>
<text transform="translate(929.64 276.05) scale(1.03 1)" font-size="36.8" font-weight="bold" font-style="normal">0.2</text>
<text transform="translate(929.64 507.55) scale(1.03 1)" font-size="36.8" font-weight="bold" font-style="normal">0.0</text>
<text transform="translate(1072.02 574.9) scale(1.03 1)" font-size="36.8" font-weight="bold" font-style="normal">2</text>
<text transform="translate(1228.02 574.9) scale(1.03 1)" font-size="36.8" font-weight="bold" font-style="normal">3</text>
<text transform="translate(1384.12 574.9) scale(1.03 1)" font-size="36.8" font-weight="bold" font-style="normal">4</text>
<text transform="translate(1539.93 574.9) scale(1.03 1)" font-size="36.8" font-weight="bold" font-style="normal">5</text>
<text transform="translate(1696.43 574.9) scale(1.03 1)" font-size="36.8" font-weight="bold" font-style="normal">6</text>
<text transform="translate(966.98 524.9) scale(1.352 1)" font-size="35.29" font-weight="normal" style="font-family:'Noto Serif CJK SC','Liberation Serif',serif">（</text>
<text transform="translate(1047.7 524.9) scale(1.352 1)" font-size="35.29" font-weight="normal" style="font-family:'Noto Serif CJK SC','Liberation Serif',serif">）</text>
<text transform="translate(1021.77 526.4)" font-size="43" font-weight="bold" font-style="normal">b</text>
<text transform="translate(1582.13 72) scale(1.04 1)" font-size="31.5"><tspan font-weight="bold" font-style="italic">ϕ</tspan><tspan font-weight="bold" font-style="normal" dx="3.46">=0.7π</tspan></text>
<text transform="translate(1592.23 526) scale(1.1 1)" font-size="28.3"><tspan font-weight="bold" font-style="italic">g</tspan><tspan font-weight="bold" font-style="normal" dx="-0.57">=1.28</tspan></text>
<path d="M990 38h0M991.56 48.44h0M993.12 58.89h0M994.68 69.33h0M996.24 79.77h0M997.81 90.21h0M999.37 100.66h0M1000.93 111.1h0M1002.49 121.54h0M1004.05 131.98h0M1005.61 138.46h0M1007.17 143.34h0M1008.73 148.21h0M1010.29 153.08h0M1011.85 157.95h0M1013.42 162.82h0M1014.98 167.7h0M1016.54 172.57h0M1018.1 177.44h0M1019.66 182.31h0M1021.22 187.18h0M1022.78 192.06h0M1024.34 196.93h0M1025.9 201.8h0M1027.46 206.67h0M1029.03 211.54h0M1030.59 216.41h0M1032.15 221.29h0M1033.71 226.16h0M1035.27 231.03h0M1036.83 235.9h0M1038.39 240.77h0M1039.95 245.65h0M1041.51 250.52h0M1043.07 255.39h0M1044.63 261.66h0M1046.2 269h0M1047.76 276.33h0M1049.32 283.67h0M1050.88 291.01h0M1052.44 298.34h0M1053.75 304.5h0M1055.5 312h0M1057.5 320.75h0M1058.75 329.25h0M1060.5 337.5h0M1062 346.25h0M1063.75 355.5h0M1065.5 364.5h0M1067 373h0M1068.25 382h0M1069.5 391.25h0M1071.5 401.75h0M1073 415h0M1074 428.3h0M1076 446.6h0" fill="none" stroke="#000" stroke-width="3.9" stroke-linecap="round"/>
<path d="M1076.8 479.72h0M1078.38 481.1h0M1080.35 479.13h0M1079.76 483.07h0M1081.73 485.64h0M1084.29 483.47h0M1086.26 482.09h0M1088.63 480.71h0M1090.8 479.72h0M1094.15 479.13h0M1095.13 482.68h0M1097.1 477.55h0M1099.47 475.78h0M1101.44 482.09h0M1083.9 493.32h0M1091.19 491.55h0M1103.02 493.32h0M1104.59 493.91h0M1106.17 494.31h0M1107.75 493.32h0M1109.32 493.91h0M1110.9 494.31h0M1112.48 493.32h0M1114.05 493.91h0M1115.63 494.31h0M1117.21 493.32h0M1118.78 493.91h0M1120.36 494.31h0M1121.94 493.32h0M1123.51 493.91h0M1125.68 487.01h0M1127.65 486.62h0M1129.03 480.12h0M1130.61 482.09h0M1132.58 479.13h0M1133.57 487.01h0M1134.95 483.07h0M1136.52 479.13h0M1137.51 484.06h0M1139.48 478.15h0M1140.86 479.13h0M1142.44 481.1h0M1144.41 482.68h0M1146.38 482.09h0M1148.74 483.47h0M1150.71 485.64h0M1152.29 482.68h0M1154.26 484.06h0M1156.23 484.06h0M1158.6 485.04h0M1160.57 486.03h0M1163.13 487.01h0M1165.1 488h0M1167.07 488.99h0M1169.05 488h0M1169.64 489.97h0M1171.61 490.56h0M1173.58 488.99h0M1174.96 491.35h0M1175.94 493.91h0M1177.52 491.94h0M1179.89 492.53h0M1182.25 493.32h0M1184.81 493.91h0M1186.78 494.5h0M1188.76 494.9h0M1191.32 495.88h0M1193.09 493.91h0M1189.74 485.04h0M1194.67 485.04h0M1196.25 489.38h0" fill="none" stroke="#000" stroke-width="4" stroke-linecap="round"/>
<rect x="1197" y="494.05" width="506" height="3.4" fill="#000"/>
<circle cx="1044.25" cy="266.25" r="7.6" fill="#ff00ff"/>
<rect x="1067" y="79.7" width="186.5" height="164.4" fill="none" stroke="#000" stroke-width="3"/>
<clipPath id="c10655"><rect x="1065.5" y="78.2" width="189.5" height="167.4"/></clipPath>
<g clip-path="url(#c10655)">
<path d="M1067 100L1067.78 100.74L1068.56 101.67L1069.33 102.79L1070.11 104.08L1070.89 105.55L1071.66 107.2L1072.44 109.01L1073.22 110.98L1074 113.1L1074.78 115.36L1075.55 117.76L1076.33 120.27L1077.11 122.9L1077.88 125.62L1078.66 128.43L1079.44 131.31L1080.22 134.25L1080.99 137.24L1081.77 140.25L1082.55 143.28L1083.33 146.31L1084.11 149.32L1084.88 152.31L1085.66 155.25L1086.44 158.14L1087.21 160.95L1087.99 163.69L1088.77 166.32L1089.55 168.85L1090.33 171.25L1091.1 173.53L1091.88 175.66L1092.66 177.64L1093.43 179.46L1094.21 181.12L1094.99 182.61L1095.77 183.92L1096.55 185.05L1097.32 185.99L1098.1 186.75L1098.88 186.28L1099.65 185.56L1100.43 184.68L1101.21 183.64L1101.99 182.45L1102.76 181.12L1103.54 179.64L1104.32 178.03L1105.1 176.29L1105.88 174.42L1106.65 172.45L1107.43 170.38L1108.21 168.22L1108.98 165.98L1109.76 163.68L1110.54 161.31L1111.32 158.91L1112.1 156.48L1112.87 154.04L1113.65 151.59L1114.43 149.16L1115.2 146.75L1115.98 144.39L1116.76 142.07L1117.54 139.82L1118.32 137.65L1119.09 135.57L1119.87 133.6L1120.65 131.74L1121.42 130L1122.2 128.4L1122.98 126.94L1123.76 125.64L1124.54 124.5L1125.31 123.52L1126.09 122.71L1126.87 122.09L1127.64 121.64L1128.42 121.38L1129.2 121.3L1129.98 121.39L1130.75 121.64L1131.53 122.05L1132.31 122.61L1133.09 123.33L1133.87 124.2L1134.64 125.23L1135.42 126.41L1136.2 127.73L1136.97 129.21L1137.75 130.83L1138.53 132.6L1139.31 134.5L1140.09 136.54L1140.86 138.72L1141.64 141.03L1142.42 143.46L1143.19 146.02L1143.97 148.7L1144.75 151.49L1145.53 154.4L1146.31 157.41L1147.08 160.53L1147.86 163.74L1148.64 167.04L1149.41 170.44L1150.19 173.91L1150.97 177.46L1151.75 181.08L1152.52 184.77L1153.3 188.52L1154.08 192.33L1154.86 196.18L1155.63 200.07L1156.41 204L1157.19 207.97L1157.97 211.95L1158.74 215.96L1159.52 219.98L1160.3 224L1161.08 219.98L1161.86 215.96L1162.63 211.95L1163.41 207.97L1164.19 204L1164.96 200.07L1165.74 196.18L1166.52 192.33L1167.3 188.52L1168.08 184.77L1168.85 181.08L1169.63 177.46L1170.41 173.91L1171.18 170.44L1171.96 167.04L1172.74 163.74L1173.52 160.53L1174.29 157.41L1175.07 154.4L1175.85 151.49L1176.63 148.7L1177.4 146.02L1178.18 143.46L1178.96 141.03L1179.74 138.72L1180.51 136.54L1181.29 134.5L1182.07 132.6L1182.85 130.83L1183.62 129.21L1184.4 127.73L1185.18 126.41L1185.96 125.23L1186.73 124.2L1187.51 123.33L1188.29 122.61L1189.07 122.05L1189.85 121.64L1190.62 121.39L1191.4 121.3L1192.18 121.38L1192.95 121.64L1193.73 122.09L1194.51 122.71L1195.29 123.52L1196.07 124.5L1196.84 125.64L1197.62 126.94L1198.4 128.4L1199.17 130L1199.95 131.74L1200.73 133.6L1201.51 135.57L1202.28 137.65L1203.06 139.82L1203.84 142.07L1204.62 144.39L1205.39 146.75L1206.17 149.16L1206.95 151.59L1207.73 154.04L1208.5 156.48L1209.28 158.91L1210.06 161.31L1210.84 163.68L1211.62 165.98L1212.39 168.22L1213.17 170.38L1213.95 172.45L1214.72 174.42L1215.5 176.29L1216.28 178.03L1217.06 179.64L1217.84 181.12L1218.61 182.45L1219.39 183.64L1220.17 184.68L1220.94 185.56L1221.72 186.28L1222.5 186.75L1223.28 185.99L1224.05 185.05L1224.83 183.92L1225.61 182.61L1226.39 181.12L1227.16 179.46L1227.94 177.64L1228.72 175.66L1229.5 173.53L1230.27 171.25L1231.05 168.85L1231.83 166.32L1232.61 163.69L1233.38 160.95L1234.16 158.14L1234.94 155.25L1235.72 152.31L1236.49 149.32L1237.27 146.31L1238.05 143.28L1238.83 140.25L1239.61 137.24L1240.38 134.25L1241.16 131.31L1241.94 128.43L1242.71 125.62L1243.49 122.9L1244.27 120.27L1245.05 117.76L1245.82 115.36L1246.6 113.1L1247.38 110.98L1248.16 109.01L1248.93 107.2L1249.71 105.55L1250.49 104.08L1251.27 102.79L1252.04 101.67L1252.82 100.74L1253.6 100" fill="none" stroke="#000" stroke-width="3.3" stroke-linejoin="round" stroke-linecap="butt"/>
</g>
<text transform="translate(1033.38 101.15) scale(1.05 1)" font-size="21" font-weight="bold" font-style="normal">2.4</text>
<rect x="1068" y="94.75" width="2.1" height="2" fill="#000"/>
<text transform="translate(1033.82 160.4) scale(1.05 1)" font-size="21" font-weight="bold" font-style="normal">2.0</text>
<rect x="1068" y="154" width="2.1" height="2" fill="#000"/>
<text transform="translate(1033.6 219.9) scale(1.05 1)" font-size="21" font-weight="bold" font-style="normal">1.6</text>
<rect x="1068" y="213.5" width="2.1" height="2" fill="#000"/>
<rect x="1068" y="124.3" width="1.5" height="1.4" fill="#000"/>
<rect x="1068" y="184.3" width="1.5" height="1.4" fill="#000"/>
<rect x="1159.25" y="241" width="2" height="2.1" fill="#000"/>
<text transform="translate(1056.79 264.7) scale(1.05 1)" font-size="21" font-weight="bold" font-style="normal">-1</text>
<text transform="translate(1154.74 264.7) scale(1.05 1)" font-size="21" font-weight="bold" font-style="normal">0</text>
<text transform="translate(1248.06 264.7) scale(1.05 1)" font-size="21" font-weight="bold" font-style="normal">1</text>
<text transform="translate(1142.39 291) scale(1.06 1)" font-size="29.6"><tspan font-weight="bold" font-style="italic">p</tspan><tspan font-weight="bold" font-style="normal">/π</tspan></text>
<text transform="translate(1034.65 75) scale(1.07 1)" font-size="28" font-weight="bold" font-style="italic">H</text>
<circle cx="1211.25" cy="158.75" r="7.6" fill="#ff00ff"/>
<line x1="1328" y1="420" x2="1352" y2="355" stroke="#555" stroke-width="0.8"/>
<line x1="1651" y1="423" x2="1678" y2="355" stroke="#555" stroke-width="0.8"/>
<rect x="1351.5" y="352.7" width="326.8" height="5.2" fill="#000"/>
<clipPath id="cb"><rect x="1351.5" y="90" width="326.8" height="268"/></clipPath><g clip-path="url(#cb)">
<path d="M1340 354.72L1340.5 354.7L1341 354.68L1341.5 354.67L1342 354.66L1342.5 354.65L1343 354.64L1343.5 354.63L1344 354.62L1344.5 354.61L1345 354.61L1345.5 354.61L1346 354.6L1346.5 354.6L1347 354.6L1347.5 354.59L1348 354.59L1348.5 354.57L1349 354.55L1349.5 354.52L1350 354.46L1350.5 354.38L1351 354.24L1351.5 354.03L1352 353.71L1352.5 353.23L1353 352.49L1353.5 351.39L1354 349.72L1354.5 347.25L1355 343.62L1355.5 338.35L1356 330.91L1356.5 320.75L1357 307.6L1357.5 291.87L1358 275.11L1358.5 260.26L1359 251L1359.3 249.37L1359.5 250.09L1360 257.83L1360.5 271.84L1361 288.48L1361.5 304.58L1362 318.29L1362.5 329.03L1363 336.97L1363.5 342.62L1364 346.54L1364.5 349.21L1365 351L1365.5 352.21L1366 353.01L1366.5 353.54L1367 353.89L1367.5 354.13L1368 354.28L1368.5 354.39L1369 354.46L1369.5 354.51L1370 354.54L1370.5 354.57L1371 354.59L1371.5 354.61L1372 354.63L1372.5 354.64L1373 354.66L1373.5 354.67L1374 354.68L1374.5 354.7L1375 354.71L1375.5 354.72L1376 354.74L1376.5 354.75L1377 354.76L1377.5 354.77L1378 354.78L1378.5 354.79L1379 354.8L1379.5 354.81L1380 354.81L1380.5 354.81L1381 354.82L1381.5 354.81L1382 354.81L1382.5 354.79L1383 354.77L1383.5 354.73L1384 354.67L1384.5 354.59L1385 354.46L1385.5 354.26L1386 353.96L1386.5 353.5L1387 352.82L1387.5 351.8L1388 350.26L1388.5 347.98L1389 344.62L1389.5 339.74L1390 332.81L1390.5 323.27L1391 310.78L1391.5 295.55L1392 278.88L1392.5 263.44L1393 252.84L1393.4 249.98L1393.5 250.16L1394 256.26L1394.5 269.23L1395 285.56L1395.5 301.89L1396 316.1L1396.5 327.39L1397 335.82L1397.5 341.85L1398 346.06L1398.5 348.93L1399 350.87L1399.5 352.16L1400 353.02L1400.5 353.59L1401 353.97L1401.5 354.21L1402 354.37L1402.5 354.47L1403 354.54L1403.5 354.58L1404 354.6L1404.5 354.61L1405 354.62L1405.5 354.62L1406 354.62L1406.5 354.61L1407 354.61L1407.5 354.6L1408 354.6L1408.5 354.59L1409 354.59L1409.5 354.59L1410 354.58L1410.5 354.58L1411 354.58L1411.5 354.59L1412 354.59L1412.5 354.59L1413 354.6L1413.5 354.61L1414 354.61L1414.5 354.62L1415 354.63L1415.5 354.64L1416 354.65L1416.5 354.66L1417 354.66L1417.5 354.66L1418 354.65L1418.5 354.62L1419 354.58L1419.5 354.5L1420 354.37L1420.5 354.17L1421 353.86L1421.5 353.38L1422 352.64L1422.5 351.53L1423 349.86L1423.5 347.37L1424 343.72L1424.5 338.46L1425 331.05L1425.5 321.03L1426 308.24L1426.5 293.21L1427 277.69L1427.5 264.61L1428 257.38L1428.2 256.7L1428.5 258.22L1429 266.84L1429.5 280.67L1430 296.28L1430.5 310.94L1431 323.19L1431.5 332.64L1432 339.57L1432.5 344.47L1433 347.85L1433.5 350.14L1434 351.68L1434.5 352.7L1435 353.38L1435.5 353.82L1436 354.11L1436.5 354.3L1437 354.42L1437.5 354.5L1438 354.55L1438.5 354.58L1439 354.6L1439.5 354.61L1440 354.62L1440.5 354.63L1441 354.63L1441.5 354.64L1442 354.64L1442.5 354.64L1443 354.65L1443.5 354.65L1444 354.66L1444.5 354.66L1445 354.67L1445.5 354.67L1446 354.68L1446.5 354.68L1447 354.69L1447.5 354.69L1448 354.69L1448.5 354.69L1449 354.69L1449.5 354.69L1450 354.68L1450.5 354.68L1451 354.67L1451.5 354.66L1452 354.65L1452.5 354.63L1453 354.61L1453.5 354.57L1454 354.53L1454.5 354.47L1455 354.37L1455.5 354.24L1456 354.05L1456.5 353.77L1457 353.35L1457.5 352.72L1458 351.78L1458.5 350.38L1459 348.3L1459.5 345.23L1460 340.76L1460.5 334.38L1461 325.53L1461.5 313.82L1462 299.31L1462.5 283.01L1463 267.3L1463.5 255.63L1464 251.28L1464 251.28L1464.5 255.64L1465 267.33L1465.5 283.05L1466 299.36L1466.5 313.89L1467 325.62L1467.5 334.47L1468 340.86L1468.5 345.35L1469 348.43L1469.5 350.52L1470 351.94L1470.5 352.89L1471 353.53L1471.5 353.96L1472 354.25L1472.5 354.45L1473 354.59L1473.5 354.69L1474 354.77L1474.5 354.82L1475 354.86L1475.5 354.89L1476 354.92L1476.5 354.94L1477 354.96L1477.5 354.97L1478 354.99L1478.5 355L1479 355L1479.5 355L1480 355L1480.5 355L1481 355L1481.5 355L1482 355L1482.5 355L1483 355L1483.5 355L1484 355L1484.5 355L1485 355L1485.5 355L1486 355L1486.5 354.99L1487 354.99L1487.5 354.98L1488 354.96L1488.5 354.94L1489 354.92L1489.5 354.89L1490 354.85L1490.5 354.78L1491 354.69L1491.5 354.55L1492 354.35L1492.5 354.06L1493 353.61L1493.5 352.94L1494 351.94L1494.5 350.44L1495 348.21L1495.5 344.92L1496 340.14L1496.5 333.31L1497 323.85L1497.5 311.32L1498 295.79L1498.5 278.35L1499 261.54L1499.5 249.04L1500 244.37L1500 244.37L1500.5 249L1501 261.47L1501.5 278.24L1502 295.64L1502.5 311.13L1503 323.63L1503.5 333.05L1504 339.85L1504.5 344.6L1505 347.85L1505.5 350.05L1506 351.52L1506.5 352.5L1507 353.15L1507.5 353.57L1508 353.85L1508.5 354.04L1509 354.16L1509.5 354.24L1510 354.29L1510.5 354.32L1511 354.35L1511.5 354.37L1512 354.38L1512.5 354.39L1513 354.4L1513.5 354.42L1514 354.43L1514.5 354.44L1515 354.45L1515.5 354.46L1516 354.47L1516.5 354.48L1517 354.5L1517.5 354.51L1518 354.52L1518.5 354.53L1519 354.55L1519.5 354.56L1520 354.57L1520.5 354.58L1521 354.59L1521.5 354.6L1522 354.6L1522.5 354.61L1523 354.61L1523.5 354.61L1524 354.61L1524.5 354.61L1525 354.59L1525.5 354.57L1526 354.54L1526.5 354.48L1527 354.39L1527.5 354.26L1528 354.06L1528.5 353.74L1529 353.27L1529.5 352.55L1530 351.46L1530.5 349.84L1531 347.41L1531.5 343.84L1532 338.64L1532.5 331.24L1533 321.07L1533.5 307.74L1534 291.48L1534.5 273.68L1535 257.2L1535.5 245.89L1535.9 242.85L1536 243.05L1536.5 249.59L1537 263.48L1537.5 280.95L1538 298.43L1538.5 313.64L1539 325.72L1539.5 334.75L1540 341.22L1540.5 345.71L1541 348.79L1541.5 350.87L1542 352.26L1542.5 353.18L1543 353.8L1543.5 354.21L1544 354.48L1544.5 354.65L1545 354.77L1545.5 354.85L1546 354.9L1546.5 354.93L1547 354.96L1547.5 354.97L1548 354.98L1548.5 354.99L1549 354.99L1549.5 354.99L1550 354.97L1550.5 354.95L1551 354.92L1551.5 354.9L1552 354.87L1552.5 354.84L1553 354.82L1553.5 354.79L1554 354.76L1554.5 354.73L1555 354.71L1555.5 354.68L1556 354.66L1556.5 354.63L1557 354.61L1557.5 354.59L1558 354.57L1558.5 354.55L1559 354.54L1559.5 354.53L1560 354.51L1560.5 354.5L1561 354.49L1561.5 354.48L1562 354.47L1562.5 354.45L1563 354.43L1563.5 354.4L1564 354.36L1564.5 354.29L1565 354.19L1565.5 354.02L1566 353.78L1566.5 353.4L1567 352.82L1567.5 351.95L1568 350.63L1568.5 348.66L1569 345.73L1569.5 341.42L1570 335.21L1570.5 326.48L1571 314.67L1571.5 299.59L1572 281.88L1572.5 263.58L1573 248.17L1573.5 239.66L1573.7 238.86L1574 240.66L1574.5 250.84L1575 267.16L1575.5 285.59L1576 302.89L1576.5 317.35L1577 328.52L1577.5 336.7L1578 342.5L1578.5 346.5L1579 349.22L1579.5 351.05L1580 352.28L1580.5 353.09L1581 353.63L1581.5 353.99L1582 354.23L1582.5 354.39L1583 354.5L1583.5 354.57L1584 354.62L1584.5 354.65L1585 354.68L1585.5 354.7L1586 354.71L1586.5 354.72L1587 354.73L1587.5 354.74L1588 354.75L1588.5 354.76L1589 354.77L1589.5 354.77L1590 354.78L1590.5 354.79L1591 354.79L1591.5 354.8L1592 354.8L1592.5 354.81L1593 354.81L1593.5 354.81L1594 354.81L1594.5 354.81L1595 354.81L1595.5 354.81L1596 354.8L1596.5 354.8L1597 354.79L1597.5 354.79L1598 354.78L1598.5 354.77L1599 354.76L1599.5 354.75L1600 354.74L1600.5 354.72L1601 354.71L1601.5 354.68L1602 354.65L1602.5 354.61L1603 354.55L1603.5 354.46L1604 354.33L1604.5 354.14L1605 353.86L1605.5 353.43L1606 352.79L1606.5 351.83L1607 350.39L1607.5 348.24L1608 345.04L1608.5 340.34L1609 333.54L1609.5 323.92L1610 310.81L1610.5 293.83L1611 273.51L1611.5 251.87L1612 232.7L1612.5 220.75L1612.8 218.65L1613 219.59L1613.5 229.59L1614 247.69L1614.5 269.19L1615 290L1615.5 307.72L1616 321.6L1616.5 331.86L1617 339.17L1617.5 344.24L1618 347.69L1618.5 350.02L1619 351.57L1619.5 352.61L1620 353.3L1620.5 353.75L1621 354.05L1621.5 354.25L1622 354.38L1622.5 354.46L1623 354.52L1623.5 354.56L1624 354.59L1624.5 354.6L1625 354.62L1625.5 354.63L1626 354.64L1626.5 354.65L1627 354.66L1627.5 354.67L1628 354.68L1628.5 354.7L1629 354.71L1629.5 354.73L1630 354.74L1630.5 354.76L1631 354.78L1631.5 354.8L1632 354.82L1632.5 354.84L1633 354.86L1633.5 354.88L1634 354.9L1634.5 354.92L1635 354.94L1635.5 354.96L1636 354.98L1636.5 355L1637 355L1637.5 355L1638 355L1638.5 355L1639 355L1639.5 355L1640 355L1640.5 355L1641 355L1641.5 355L1642 355L1642.5 355L1643 355L1643.5 355L1644 355L1644.5 355L1645 355L1645.5 354.98L1646 354.95L1646.5 354.93L1647 354.91L1647.5 354.88L1648 354.85L1648.5 354.82L1649 354.79L1649.5 354.76L1650 354.71L1650.5 354.66L1651 354.58L1651.5 354.47L1652 354.28L1652.5 353.96L1653 353.41L1653.5 352.45L1654 350.73L1654.5 347.69L1655 342.33L1655.5 332.98L1656 317.1L1656.5 291.25L1657 252.35L1657.5 201.21L1658 148.26L1658.5 114.61L1658.7 111.27L1659 118.69L1659.5 158.07L1660 212.08L1660.5 261.22L1661 297.36L1661.5 320.92L1662 335.24L1662.5 343.6L1663 348.38L1663.5 351.08L1664 352.59L1664.5 353.44L1665 353.91L1665.5 354.17L1666 354.32L1666.5 354.4L1667 354.45L1667.5 354.47L1668 354.48L1668.5 354.49L1669 354.49L1669.5 354.49L1670 354.49L1670.5 354.49L1671 354.49L1671.5 354.49L1672 354.48L1672.5 354.48L1673 354.48L1673.5 354.48L1674 354.48L1674.5 354.48L1675 354.48L1675.5 354.48L1676 354.48L1676.5 354.49L1677 354.49L1677.5 354.5L1678 354.51L1678.5 354.52L1679 354.53L1679.5 354.54L1680 354.56L1680.5 354.57L1681 354.59L1681.5 354.61L1682 354.63L1682.5 354.65L1683 354.67L1683.5 354.69L1684 354.72L1684.5 354.74L1685 354.76" fill="none" stroke="#000" stroke-width="6.8" stroke-linejoin="round" stroke-linecap="butt"/>
</g>
<path d="M1339.8 387.8L1339.8 381.66L1340.3 381.55L1340.8 381.38L1341.3 381.12L1341.8 380.7L1342.3 380.35L1342.8 378.35L1343.3 376.41L1343.8 374.98L1344.3 374.21L1344.8 372.59L1345.3 371.91L1345.8 371.48L1346.3 371.19L1346.8 371.01L1347.3 370.91L1347.8 370.89L1348.3 370.94L1348.8 371.07L1349.3 371.28L1349.8 371.62L1350.3 372.12L1350.8 373L1351.3 374.38L1351.8 375.42L1352.3 377.05L1352.8 379.17L1353.3 380.23L1353.8 380.75L1354.3 381.07L1354.8 381.26L1355.3 381.38L1355.8 381.44L1356.3 381.47L1356.8 381.48L1357.3 381.48L1357.8 381.48L1358.3 381.47L1358.8 381.47L1359.3 381.46L1359.8 381.47L1360.3 381.48L1360.8 381.49L1361.3 381.51L1361.8 381.53L1362.3 381.57L1362.8 381.61L1363.3 381.65L1363.8 381.71L1364.3 381.77L1364.8 381.84L1365.3 381.91L1365.8 381.99L1366.3 382.07L1366.8 382.16L1367.3 382.25L1367.8 382.35L1368.3 382.44L1368.8 382.54L1369.3 382.64L1369.8 382.73L1370.3 382.82L1370.8 382.91L1371.3 382.98L1371.8 382.98L1372.3 382.97L1372.8 382.96L1373.3 382.94L1373.8 382.9L1374.3 382.85L1374.8 382.76L1375.3 382.62L1375.8 382.4L1376.3 382.05L1376.8 381.5L1377.3 380.82L1377.8 379.01L1378.3 377.62L1378.8 376.72L1379.3 375.37L1379.8 374.47L1380.3 373.95L1380.8 373.59L1381.3 373.29L1381.8 373.07L1382.3 372.94L1382.8 372.88L1383.3 372.9L1383.8 373.01L1384.3 373.22L1384.8 373.58L1385.3 374.21L1385.8 375.76L1386.3 376.36L1386.8 377.52L1387.3 379.13L1387.8 380.56L1388.3 380.89L1388.8 381.3L1389.3 381.56L1389.8 381.74L1390.3 381.86L1390.8 381.95L1391.3 382.02L1391.8 382.09L1392.3 382.15L1392.8 382.21L1393.3 382.27L1393.8 382.33L1394.3 382.39L1394.8 382.46L1395.3 382.52L1395.8 382.58L1396.3 382.63L1396.8 382.69L1397.3 382.74L1397.8 382.79L1398.3 382.83L1398.8 382.87L1399.3 382.9L1399.8 382.92L1400.3 382.93L1400.8 382.94L1401.3 382.94L1401.8 382.93L1402.3 382.92L1402.8 382.9L1403.3 382.87L1403.8 382.83L1404.3 382.79L1404.8 382.75L1405.3 382.69L1405.8 382.63L1406.3 382.57L1406.8 382.5L1407.3 382.43L1407.8 382.35L1408.3 382.26L1408.8 382.16L1409.3 382.03L1409.8 381.86L1410.3 381.62L1410.8 381.29L1411.3 380.79L1411.8 380.4L1412.3 378.05L1412.8 376.16L1413.3 374.83L1413.8 374.21L1414.3 372.45L1414.8 371.83L1415.3 371.43L1415.8 371.17L1416.3 371.01L1416.8 370.94L1417.3 370.95L1417.8 371.04L1418.3 371.21L1418.8 371.48L1419.3 371.88L1419.8 372.47L1420.3 373.59L1420.8 374.84L1421.3 376.06L1421.8 377.84L1422.3 380.09L1422.8 380.84L1423.3 381.36L1423.8 381.69L1424.3 381.9L1424.8 382.03L1425.3 382.12L1425.8 382.17L1426.3 382.19L1426.8 382.21L1427.3 382.21L1427.8 382.2L1428.3 382.18L1428.8 382.17L1429.3 382.14L1429.8 382.12L1430.3 382.09L1430.8 382.05L1431.3 382.02L1431.8 381.99L1432.3 381.95L1432.8 381.92L1433.3 381.88L1433.8 381.85L1434.3 381.81L1434.8 381.78L1435.3 381.75L1435.8 381.72L1436.3 381.69L1436.8 381.66L1437.3 381.63L1437.8 381.61L1438.3 381.59L1438.8 381.58L1439.3 381.56L1439.8 381.55L1440.3 381.54L1440.8 381.54L1441.3 381.53L1441.8 381.52L1442.3 381.52L1442.8 381.51L1443.3 381.5L1443.8 381.48L1444.3 381.45L1444.8 381.38L1445.3 381.27L1445.8 381.08L1446.3 380.77L1446.8 380.26L1447.3 377.88L1447.8 374.67L1448.3 372.21L1448.8 370.64L1449.3 369.17L1449.8 368.33L1450.3 367.88L1450.8 367.6L1451.3 367.45L1451.8 367.38L1452.3 367.4L1452.8 367.49L1453.3 367.66L1453.8 367.92L1454.3 368.28L1454.8 368.79L1455.3 369.55L1455.8 371.25L1456.3 372.5L1456.8 374.72L1457.3 377.69L1457.8 381.35L1458.3 381.86L1458.8 382.28L1459.3 382.54L1459.8 382.71L1460.3 382.81L1460.8 382.88L1461.3 382.93L1461.8 382.95L1462.3 382.97L1462.8 382.98L1463.3 382.99L1463.8 382.99L1464.3 383L1464.8 383L1465.3 383L1465.8 383L1466.3 383L1466.8 382.99L1467.3 382.94L1467.8 382.87L1468.3 382.81L1468.8 382.75L1469.3 382.69L1469.8 382.63L1470.3 382.57L1470.8 382.52L1471.3 382.47L1471.8 382.42L1472.3 382.38L1472.8 382.34L1473.3 382.31L1473.8 382.28L1474.3 382.26L1474.8 382.25L1475.3 382.24L1475.8 382.24L1476.3 382.24L1476.8 382.24L1477.3 382.25L1477.8 382.26L1478.3 382.27L1478.8 382.27L1479.3 382.25L1479.8 382.22L1480.3 382.14L1480.8 382.01L1481.3 381.78L1481.8 381.39L1482.3 381.06L1482.8 378.55L1483.3 376.32L1483.8 374.68L1484.3 373.79L1484.8 372.18L1485.3 371.49L1485.8 371.05L1486.3 370.75L1486.8 370.54L1487.3 370.42L1487.8 370.37L1488.3 370.38L1488.8 370.48L1489.3 370.65L1489.8 370.94L1490.3 371.4L1490.8 372.24L1491.3 373.61L1491.8 374.78L1492.3 376.63L1492.8 379.04L1493.3 380.46L1493.8 380.95L1494.3 381.24L1494.8 381.41L1495.3 381.5L1495.8 381.54L1496.3 381.56L1496.8 381.57L1497.3 381.57L1497.8 381.56L1498.3 381.56L1498.8 381.57L1499.3 381.58L1499.8 381.6L1500.3 381.62L1500.8 381.64L1501.3 381.68L1501.8 381.72L1502.3 381.76L1502.8 381.81L1503.3 381.86L1503.8 381.92L1504.3 381.98L1504.8 382.04L1505.3 382.09L1505.8 382.15L1506.3 382.21L1506.8 382.26L1507.3 382.31L1507.8 382.36L1508.3 382.4L1508.8 382.44L1509.3 382.47L1509.8 382.5L1510.3 382.51L1510.8 382.53L1511.3 382.53L1511.8 382.53L1512.3 382.52L1512.8 382.5L1513.3 382.47L1513.8 382.44L1514.3 382.4L1514.8 382.35L1515.3 382.29L1515.8 382.21L1516.3 382.11L1516.8 381.98L1517.3 381.81L1517.8 381.55L1518.3 381.19L1518.8 380.64L1519.3 380.46L1519.8 379.66L1520.3 378.71L1520.8 378.05L1521.3 376.99L1521.8 375.87L1522.3 375.28L1522.8 374.89L1523.3 374.63L1523.8 374.47L1524.3 374.39L1524.8 374.4L1525.3 374.49L1525.8 374.67L1526.3 374.95L1526.8 375.37L1527.3 376.01L1527.8 377.78L1528.3 378.13L1528.8 378.84L1529.3 379.84L1529.8 380.41L1530.3 380.7L1530.8 381.2L1531.3 381.53L1531.8 381.75L1532.3 381.91L1532.8 382.02L1533.3 382.11L1533.8 382.18L1534.3 382.24L1534.8 382.28L1535.3 382.33L1535.8 382.37L1536.3 382.41L1536.8 382.45L1537.3 382.48L1537.8 382.51L1538.3 382.54L1538.8 382.57L1539.3 382.6L1539.8 382.63L1540.3 382.66L1540.8 382.69L1541.3 382.71L1541.8 382.74L1542.3 382.77L1542.8 382.79L1543.3 382.82L1543.8 382.84L1544.3 382.86L1544.8 382.89L1545.3 382.91L1545.8 382.93L1546.3 382.95L1546.8 382.96L1547.3 382.98L1547.8 382.99L1548.3 383L1548.8 383L1549.3 383L1549.8 382.99L1550.3 382.99L1550.8 382.98L1551.3 382.96L1551.8 382.94L1552.3 382.9L1552.8 382.83L1553.3 382.73L1553.8 382.58L1554.3 382.36L1554.8 382.01L1555.3 381.49L1555.8 380.89L1556.3 378.8L1556.8 377.15L1557.3 376.01L1557.8 374.79L1558.3 373.66L1558.8 373.07L1559.3 372.67L1559.8 372.39L1560.3 372.21L1560.8 372.11L1561.3 372.09L1561.8 372.15L1562.3 372.3L1562.8 372.54L1563.3 372.92L1563.8 373.53L1564.3 375.26L1564.8 375.81L1565.3 377.01L1565.8 378.72L1566.3 380.83L1566.8 381.07L1567.3 381.52L1567.8 381.81L1568.3 381.99L1568.8 382.1L1569.3 382.17L1569.8 382.21L1570.3 382.24L1570.8 382.25L1571.3 382.25L1571.8 382.24L1572.3 382.23L1572.8 382.22L1573.3 382.2L1573.8 382.18L1574.3 382.15L1574.8 382.12L1575.3 382.08L1575.8 382.05L1576.3 382.01L1576.8 381.97L1577.3 381.93L1577.8 381.89L1578.3 381.85L1578.8 381.81L1579.3 381.77L1579.8 381.73L1580.3 381.69L1580.8 381.65L1581.3 381.62L1581.8 381.59L1582.3 381.57L1582.8 381.55L1583.3 381.53L1583.8 381.52L1584.3 381.52L1584.8 381.52L1585.3 381.53L1585.8 381.54L1586.3 381.56L1586.8 381.59L1587.3 381.62L1587.8 381.65L1588.3 381.7L1588.8 381.74L1589.3 381.79L1589.8 381.84L1590.3 381.89L1590.8 381.94L1591.3 381.99L1591.8 382.03L1592.3 382.06L1592.8 382.08L1593.3 382.07L1593.8 382.03L1594.3 381.93L1594.8 381.73L1595.3 381.39L1595.8 380.54L1596.3 372.04L1596.8 365.65L1597.3 361.8L1597.8 359.92L1598.3 359.17L1598.8 358.71L1599.3 358.41L1599.8 358.21L1600.3 358.09L1600.8 358.05L1601.3 358.09L1601.8 358.2L1602.3 358.41L1602.8 358.74L1603.3 359.25L1603.8 360.29L1604.3 362.79L1604.8 367.73L1605.3 374.99L1605.8 380.88L1606.3 381.35L1606.8 381.64L1607.3 381.81L1607.8 381.92L1608.3 381.98L1608.8 382.01L1609.3 382.03L1609.8 382.05L1610.3 382.06L1610.8 382.06L1611.3 382.07L1611.8 382.09L1612.3 382.1L1612.8 382.11L1613.3 382.12L1613.8 382.14L1614.3 382.16L1614.8 382.18L1615.3 382.21L1615.8 382.23L1616.3 382.25L1616.8 382.28L1617.3 382.3L1617.8 382.32L1618.3 382.34L1618.8 382.36L1619.3 382.38L1619.8 382.4L1620.3 382.41L1620.8 382.42L1621.3 382.43L1621.8 382.44L1622.3 382.45L1622.8 382.46L1623.3 382.46L1623.8 382.46L1624.3 382.47L1624.8 382.47L1625.3 382.47L1625.8 382.47L1626.3 382.48L1626.8 382.48L1627.3 382.49L1627.8 382.49L1628.3 382.5L1628.8 382.51L1629.3 382.52L1629.8 382.53L1630.3 382.55L1630.8 382.57L1631.3 382.58L1631.8 382.61L1632.3 382.63L1632.8 382.65L1633.3 382.67L1633.8 382.7L1634.3 382.72L1634.8 382.75L1635.3 382.77L1635.8 382.8L1636.3 382.81L1636.8 382.83L1637.3 382.84L1637.8 382.84L1638.3 382.84L1638.8 382.82L1639.3 382.78L1639.8 382.71L1640.3 382.6L1640.8 382.43L1641.3 382.15L1641.8 381.72L1642.3 373.39L1642.8 353.59L1643.3 340.1L1643.8 334.52L1644.3 333.34L1644.8 332.7L1645.3 332.26L1645.8 331.94L1646.3 331.71L1646.8 331.56L1647.3 331.49L1647.8 331.48L1648.3 331.54L1648.8 331.69L1649.3 331.93L1649.8 332.29L1650.3 332.86L1650.8 333.97L1651.3 339.49L1651.8 352.93L1652.3 372.68L1652.8 380.98L1653.3 381.38L1653.8 381.63L1654.3 381.79L1654.8 381.88L1655.3 381.95L1655.8 381.99L1656.3 382.01L1656.8 382.03L1657.3 382.04L1657.8 382.05L1658.3 382.06L1658.8 382.06L1659.3 382.06L1659.8 382.06L1660.3 382.06L1660.8 382.06L1661.3 382.05L1661.8 382.04L1662.3 382.03L1662.8 382.01L1663.3 382L1663.8 381.97L1664.3 381.95L1664.8 381.93L1665.3 381.9L1665.8 381.87L1666.3 381.84L1666.8 381.8L1667 387.8Z" fill="#ff0000"/>
<path d="M1328.3 416.5L1328.3 411.28L1328.8 411.36L1329.3 411.42L1329.8 411.46L1330.3 411.5L1330.8 411.5L1331.3 411.5L1331.8 411.5L1332.3 411.47L1332.8 411.43L1333.3 411.37L1333.8 411.31L1334.3 411.23L1334.8 411.15L1335.3 411.06L1335.8 410.96L1336.3 410.87L1336.8 410.78L1337.3 410.68L1337.8 410.6L1338.3 410.52L1338.8 410.45L1339.3 410.39L1339.8 410.34L1340.3 410.31L1340.8 410.29L1341.3 410.28L1341.8 410.28L1342.3 410.31L1342.8 410.34L1343.3 410.39L1343.8 410.45L1344.3 410.52L1344.8 410.59L1345.3 410.68L1345.8 410.77L1346.3 410.86L1346.8 410.95L1347.3 411.04L1347.8 411.13L1348.3 411.21L1348.8 411.29L1349.3 411.35L1349.8 411.4L1350.3 411.44L1350.8 411.46L1351.3 411.47L1351.8 411.46L1352.3 411.44L1352.8 411.4L1353.3 411.34L1353.8 411.27L1354.3 411.19L1354.8 411.09L1355.3 410.98L1355.8 410.86L1356.3 410.74L1356.8 410.61L1357.3 410.48L1357.8 410.35L1358.3 410.23L1358.8 410.1L1359.3 409.99L1359.8 409.88L1360.3 409.79L1360.8 409.71L1361.3 409.64L1361.8 409.59L1362.3 409.56L1362.8 409.54L1363.3 409.55L1363.8 409.57L1364.3 409.6L1364.8 409.66L1365.3 409.73L1365.8 409.81L1366.3 409.9L1366.8 410.01L1367.3 410.12L1367.8 410.24L1368.3 410.37L1368.8 410.49L1369.3 410.61L1369.8 410.73L1370.3 410.84L1370.8 410.94L1371.3 411.03L1371.8 411.11L1372.3 411.18L1372.8 411.23L1373.3 411.26L1373.8 411.27L1374.3 411.27L1374.8 411.25L1375.3 411.22L1375.8 411.17L1376.3 411.1L1376.8 411.02L1377.3 410.93L1377.8 410.83L1378.3 410.72L1378.8 410.61L1379.3 410.49L1379.8 410.37L1380.3 410.26L1380.8 410.15L1381.3 410.05L1381.8 409.95L1382.3 409.87L1382.8 409.8L1383.3 409.74L1383.8 409.69L1384.3 409.66L1384.8 409.65L1385.3 409.65L1385.8 409.67L1386.3 409.7L1386.8 409.73L1387.3 409.78L1387.8 409.84L1388.3 409.9L1388.8 409.96L1389.3 410.02L1389.8 410.08L1390.3 410.13L1390.8 410.17L1391.3 410.21L1391.8 410.23L1392.3 410.26L1392.8 410.26L1393.3 410.16L1393.8 410.08L1394.3 410.03L1394.8 410L1395.3 410.01L1395.8 410.04L1396.3 410.1L1396.8 410.18L1397.3 410.28L1397.8 410.39L1398.3 410.5L1398.8 410.62L1399.3 410.73L1399.8 410.83L1400.3 410.93L1400.8 410.94L1401.3 410.89L1401.8 410.83L1402.3 410.75L1402.8 410.67L1403.3 410.58L1403.8 410.5L1404.3 410.41L1404.8 410.33L1405.3 410.25L1405.8 410.18L1406.3 410.13L1406.8 410.08L1407.3 410.05L1407.8 410.03L1408.3 410.02L1408.8 410.03L1409.3 410.05L1409.8 410.08L1410.3 410.13L1410.8 410.18L1411.3 410.24L1411.8 410.32L1412.3 410.39L1412.8 410.47L1413.3 410.55L1413.8 410.63L1414.3 410.71L1414.8 410.79L1415.3 410.86L1415.8 410.92L1416.3 410.97L1416.8 411.02L1417.3 411.05L1417.8 411.07L1418.3 411.08L1418.8 411.08L1419.3 411.07L1419.8 411.04L1420.3 411L1420.8 410.95L1421.3 410.9L1421.8 410.83L1422.3 410.76L1422.8 410.67L1423.3 410.59L1423.8 410.5L1424.3 410.41L1424.8 410.32L1425.3 410.24L1425.8 410.15L1426.3 410.07L1426.8 410L1427.3 409.93L1427.8 409.88L1428.3 409.83L1428.8 409.79L1429.3 409.76L1429.8 409.75L1430.3 409.74L1430.8 409.75L1431.3 409.76L1431.8 409.78L1432.3 409.82L1432.8 409.86L1433.3 409.91L1433.8 409.96L1434.3 410.02L1434.8 410.08L1435.3 410.15L1435.8 410.22L1436.3 410.28L1436.8 410.35L1437.3 410.42L1437.8 410.48L1438.3 410.54L1438.8 410.59L1439.3 410.64L1439.8 410.68L1440.3 410.71L1440.8 410.74L1441.3 410.76L1441.8 410.78L1442.3 410.79L1442.8 410.79L1443.3 410.79L1443.8 410.78L1444.3 410.76L1444.8 410.73L1445.3 410.71L1445.8 410.67L1446.3 410.63L1446.8 410.58L1447.3 410.53L1447.8 410.46L1448.3 410.39L1448.8 410.31L1449.3 410.22L1449.8 410.11L1450.3 409.99L1450.8 409.86L1451.3 409.72L1451.8 409.56L1452.3 409.4L1452.8 409.24L1453.3 409.08L1453.8 408.93L1454.3 408.8L1454.8 408.7L1455.3 408.64L1455.8 408.63L1456.3 408.66L1456.8 408.74L1457.3 408.87L1457.8 409.02L1458.3 409.2L1458.8 409.4L1459.3 409.6L1459.8 409.79L1460.3 409.97L1460.8 410.14L1461.3 410.29L1461.8 410.41L1462.3 410.52L1462.8 410.6L1463.3 410.67L1463.8 410.71L1464.3 410.75L1464.8 410.77L1465.3 410.78L1465.8 410.78L1466.3 410.78L1466.8 410.77L1467.3 410.75L1467.8 410.74L1468.3 410.72L1468.8 410.7L1469.3 410.69L1469.8 410.67L1470.3 410.66L1470.8 410.64L1471.3 410.64L1471.8 410.63L1472.3 410.62L1472.8 410.62L1473.3 410.62L1473.8 410.62L1474.3 410.62L1474.8 410.63L1475.3 410.63L1475.8 410.64L1476.3 410.64L1476.8 410.64L1477.3 410.64L1477.8 410.64L1478.3 410.64L1478.8 410.63L1479.3 410.62L1479.8 410.61L1480.3 410.59L1480.8 410.57L1481.3 410.55L1481.8 410.53L1482.3 410.5L1482.8 410.47L1483.3 410.43L1483.8 410.4L1484.3 410.36L1484.8 410.33L1485.3 410.29L1485.8 410.25L1486.3 410.22L1486.8 410.18L1487.3 410.15L1487.8 410.12L1488.3 410.09L1488.8 410.07L1489.3 410.05L1489.8 410.03L1490.3 410.02L1490.8 410.02L1491.3 410.02L1491.8 410.02L1492.3 410.03L1492.8 410.04L1493.3 410.05L1493.8 410.07L1494.3 410.09L1494.8 410.12L1495.3 410.15L1495.8 410.18L1496.3 410.21L1496.8 410.25L1497.3 410.28L1497.8 410.31L1498.3 410.35L1498.8 410.38L1499.3 410.41L1499.8 410.45L1500.3 410.48L1500.8 410.5L1501.3 410.53L1501.8 410.55L1502.3 410.58L1502.8 410.59L1503.3 410.61L1503.8 410.63L1504.3 410.64L1504.8 410.65L1505.3 410.65L1505.8 410.66L1506.3 410.66L1506.8 410.66L1507.3 410.65L1507.8 410.64L1508.3 410.63L1508.8 410.61L1509.3 410.58L1509.8 410.54L1510.3 410.49L1510.8 410.43L1511.3 410.36L1511.8 410.27L1512.3 410.17L1512.8 410.05L1513.3 409.91L1513.8 409.76L1514.3 409.6L1514.8 409.43L1515.3 409.26L1515.8 409.1L1516.3 408.95L1516.8 408.83L1517.3 408.75L1517.8 408.71L1518.3 408.71L1518.8 408.76L1519.3 408.85L1519.8 408.98L1520.3 409.12L1520.8 409.28L1521.3 409.45L1521.8 409.61L1522.3 409.77L1522.8 409.91L1523.3 410.03L1523.8 410.14L1524.3 410.23L1524.8 410.3L1525.3 410.36L1525.8 410.4L1526.3 410.44L1526.8 410.47L1527.3 410.49L1527.8 410.51L1528.3 410.52L1528.8 410.54L1529.3 410.55L1529.8 410.57L1530.3 410.58L1530.8 410.6L1531.3 410.62L1531.8 410.64L1532.3 410.67L1532.8 410.7L1533.3 410.73L1533.8 410.76L1534.3 410.79L1534.8 410.82L1535.3 410.84L1535.8 410.87L1536.3 410.89L1536.8 410.91L1537.3 410.93L1537.8 410.94L1538.3 410.94L1538.8 410.94L1539.3 410.93L1539.8 410.92L1540.3 410.9L1540.8 410.86L1541.3 410.83L1541.8 410.78L1542.3 410.73L1542.8 410.67L1543.3 410.61L1543.8 410.54L1544.3 410.46L1544.8 410.39L1545.3 410.31L1545.8 410.23L1546.3 410.16L1546.8 410.08L1547.3 410.01L1547.8 409.94L1548.3 409.88L1548.8 409.82L1549.3 409.78L1549.8 409.74L1550.3 409.71L1550.8 409.69L1551.3 409.69L1551.8 409.69L1552.3 409.71L1552.8 409.73L1553.3 409.77L1553.8 409.82L1554.3 409.88L1554.8 409.94L1555.3 410.02L1555.8 410.1L1556.3 410.19L1556.8 410.28L1557.3 410.37L1557.8 410.47L1558.3 410.57L1558.8 410.66L1559.3 410.75L1559.8 410.84L1560.3 410.92L1560.8 410.99L1561.3 411.06L1561.8 411.11L1562.3 411.16L1562.8 411.19L1563.3 411.22L1563.8 411.23L1564.3 411.23L1564.8 411.21L1565.3 411.19L1565.8 411.15L1566.3 411.1L1566.8 411.05L1567.3 410.98L1567.8 410.9L1568.3 410.81L1568.8 410.71L1569.3 410.6L1569.8 410.49L1570.3 410.36L1570.8 410.21L1571.3 410.06L1571.8 409.88L1572.3 409.68L1572.8 409.47L1573.3 409.22L1573.8 408.95L1574.3 408.65L1574.8 408.34L1575.3 408.02L1575.8 407.7L1576.3 407.42L1576.8 407.19L1577.3 407.05L1577.8 407.01L1578.3 407.08L1578.8 407.27L1579.3 407.56L1579.8 407.91L1580.3 408.32L1580.8 408.74L1581.3 409.15L1581.8 409.53L1582.3 409.89L1582.8 410.2L1583.3 410.47L1583.8 410.7L1584.3 410.88L1584.8 411.04L1585.3 411.15L1585.8 411.23L1586.3 411.29L1586.8 411.33L1587.3 411.37L1587.8 411.37L1588.3 411.35L1588.8 411.32L1589.3 411.27L1589.8 411.21L1590.3 411.14L1590.8 411.07L1591.3 410.99L1591.8 410.9L1592.3 410.81L1592.8 410.72L1593.3 410.63L1593.8 410.54L1594.3 410.46L1594.8 410.37L1595.3 410.3L1595.8 410.23L1596.3 410.17L1596.8 410.12L1597.3 410.08L1597.8 410.05L1598.3 410.02L1598.8 410.01L1599.3 410.01L1599.8 410.02L1600.3 410.03L1600.8 410.06L1601.3 410.09L1601.8 410.13L1602.3 410.18L1602.8 410.23L1603.3 410.28L1603.8 410.33L1604.3 410.39L1604.8 410.45L1605.3 410.5L1605.8 410.56L1606.3 410.6L1606.8 410.65L1607.3 410.69L1607.8 410.72L1608.3 410.75L1608.8 410.77L1609.3 410.79L1609.8 410.79L1610.3 410.79L1610.8 410.78L1611.3 410.77L1611.8 410.75L1612.3 410.72L1612.8 410.69L1613.3 410.66L1613.8 410.62L1614.3 410.58L1614.8 410.54L1615.3 410.5L1615.8 410.46L1616.3 410.42L1616.8 410.38L1617.3 410.35L1617.8 410.32L1618.3 410.3L1618.8 410.28L1619.3 410.27L1619.8 410.27L1620.3 410.27L1620.8 410.28L1621.3 410.3L1621.8 410.32L1622.3 410.35L1622.8 410.39L1623.3 410.43L1623.8 410.48L1624.3 410.52L1624.8 410.56L1625.3 410.61L1625.8 410.65L1626.3 410.67L1626.8 410.69L1627.3 410.67L1627.8 410.61L1628.3 410.48L1628.8 410.24L1629.3 409.84L1629.8 409.18L1630.3 407.08L1630.8 395.83L1631.3 381.27L1631.8 362.82L1632.3 361.82L1632.8 361.23L1633.3 360.81L1633.8 360.5L1634.3 360.28L1634.8 360.12L1635.3 360.03L1635.8 360L1636.3 360.03L1636.8 360.12L1637.3 360.29L1637.8 360.56L1638.3 360.95L1638.8 361.54L1639.3 362.7L1639.8 384.16L1640.3 397.74L1640.8 408.08L1641.3 408.82L1641.8 409.44L1642.3 409.83L1642.8 410.08L1643.3 410.24L1643.8 410.35L1644.3 410.43L1644.8 410.49L1645.3 410.54L1645.8 410.58L1646.3 410.62L1646.8 410.66L1647.3 410.71L1647.8 410.74L1648.3 410.78L1648.8 410.82L1649.3 410.85L1649.8 410.88L1650.3 410.91L1650.8 410.94L1651.3 410.96L1651.8 410.97L1652.3 410.98L1652.8 410.98L1653.3 410.97L1653.8 410.96L1654.3 410.94L1654.8 410.91L1655 416.5Z" fill="#00ff00"/>
<rect x="1322.8" y="158.4" width="5.7" height="267.8" fill="#000"/>
<rect x="1319.8" y="420.1" width="331.2" height="6.1" fill="#000"/>
<text transform="translate(1271.76 211.3) scale(1.04 1)" font-size="24.2" font-weight="bold" font-style="normal">0.10</text>
<rect x="1319.8" y="200.2" width="4" height="5" fill="#000"/>
<text transform="translate(1271.64 321.8) scale(1.04 1)" font-size="24.2" font-weight="bold" font-style="normal">0.05</text>
<rect x="1319.8" y="310.7" width="4" height="5" fill="#000"/>
<text transform="translate(1271.76 431.7) scale(1.04 1)" font-size="24.2" font-weight="bold" font-style="normal">0.00</text>
<text transform="translate(1333.61 451.1) scale(1.06 1)" font-size="23.6" font-weight="bold" font-style="normal">-450</text>
<rect x="1353.5" y="425.2" width="6" height="3.4" fill="#000"/>
<text transform="translate(1425.51 451.1) scale(1.06 1)" font-size="23.6" font-weight="bold" font-style="normal">-300</text>
<rect x="1445.4" y="425.2" width="6" height="3.4" fill="#000"/>
<text transform="translate(1517.11 451.1) scale(1.06 1)" font-size="23.6" font-weight="bold" font-style="normal">-150</text>
<rect x="1537" y="425.2" width="6" height="3.4" fill="#000"/>
<text transform="translate(1626.25 451.1) scale(1.06 1)" font-size="23.6" font-weight="bold" font-style="normal">0</text>
<rect x="1629.5" y="425.2" width="6" height="3.4" fill="#000"/>
<text transform="translate(1486.71 483)" font-size="32.5" font-weight="bold" font-style="italic">l</text>
<text transform="translate(1681.75 379)" font-size="23.6" font-weight="bold" font-style="normal">1</text>
<text transform="translate(1672.6 407)" font-size="23.6" font-weight="bold" font-style="normal">0</text>
<text transform="translate(1658.82 438.6)" font-size="23.6" font-weight="bold" font-style="normal">-1</text>
<text transform="translate(1271.69 141.8) scale(1.1 1)" font-size="30.4"><tspan font-weight="normal" font-style="normal" font-size="26.75">|</tspan><tspan font-weight="bold" font-style="italic" dx="0.91">a</tspan><tspan font-weight="bold" font-style="italic" font-size="18.85" dx="1.22" dy="4.26">l,</tspan><tspan font-weight="bold" font-style="italic" font-size="20.06" dx="1.82">σ</tspan><tspan font-weight="normal" font-style="normal" font-size="26.75" dx="3.04" dy="-4.26">|</tspan><tspan font-weight="normal" font-style="normal" font-size="18.24" dy="-9.12">2</tspan></text>
<text transform="translate(1620.14 123.5) scale(1.1 1)" font-size="26.2"><tspan font-weight="bold" font-style="italic">t</tspan><tspan font-weight="bold" font-style="normal">=0</tspan></text>
<text transform="translate(1409.14 231) scale(1.1 1)" font-size="26.2"><tspan font-weight="bold" font-style="italic">t</tspan><tspan font-weight="bold" font-style="normal">=900</tspan></text>
<text transform="translate(1551.14 209) scale(1.1 1)" font-size="26.2"><tspan font-weight="bold" font-style="italic">t</tspan><tspan font-weight="bold" font-style="normal">=300</tspan></text>
<rect x="154.3" y="634.4" width="718.5" height="504.8" fill="none" stroke="#000" stroke-width="6.8"/>
<rect x="156.9" y="722.7" width="7.5" height="6.6" fill="#000"/>
<rect x="156.9" y="905.7" width="7.5" height="6.6" fill="#000"/>
<rect x="156.9" y="1089.45" width="7.5" height="6.6" fill="#000"/>
<rect x="156.9" y="814.9" width="3" height="5.2" fill="#000"/>
<rect x="156.9" y="997.9" width="3" height="5.2" fill="#000"/>
<rect x="244.8" y="1129.9" width="6.4" height="7.3" fill="#000"/>
<rect x="401.05" y="1129.9" width="6.4" height="7.3" fill="#000"/>
<rect x="557.4" y="1129.9" width="6.4" height="7.3" fill="#000"/>
<rect x="713.55" y="1129.9" width="6.4" height="7.3" fill="#000"/>
<text transform="translate(98.3 737.3)" font-size="36.2" font-weight="bold" font-style="normal">0.2</text>
<text transform="translate(98.66 920.3)" font-size="36.2" font-weight="bold" font-style="normal">0.1</text>
<text transform="translate(98.3 1104.05)" font-size="36.2" font-weight="bold" font-style="normal">0.0</text>
<text transform="translate(239.8 1177.4) scale(0.95 1)" font-size="35.8" font-weight="bold" font-style="normal">2</text>
<text transform="translate(395.75 1177.4) scale(0.95 1)" font-size="35.8" font-weight="bold" font-style="normal">3</text>
<text transform="translate(552.28 1177.4) scale(0.95 1)" font-size="35.8" font-weight="bold" font-style="normal">4</text>
<text transform="translate(708.16 1177.4) scale(0.95 1)" font-size="35.8" font-weight="bold" font-style="normal">5</text>
<text transform="translate(864.41 1177.4) scale(0.95 1)" font-size="35.8" font-weight="bold" font-style="normal">6</text>
<text transform="translate(64.2 930.29) rotate(-90) scale(0.914 1)" font-size="43.6" font-weight="normal">MaxRe(λ)</text>
<text transform="translate(133.78 1128.3) scale(1.352 1)" font-size="35.29" font-weight="normal" style="font-family:'Noto Serif CJK SC','Liberation Serif',serif">（</text>
<text transform="translate(207.8 1128.3) scale(1.352 1)" font-size="35.29" font-weight="normal" style="font-family:'Noto Serif CJK SC','Liberation Serif',serif">）</text>
<text transform="translate(185.4 1129.6)" font-size="43" font-weight="bold" font-style="normal">c</text>
<text transform="translate(750.13 676) scale(1.04 1)" font-size="31.5"><tspan font-weight="bold" font-style="italic">ϕ</tspan><tspan font-weight="bold" font-style="normal" dx="3.46">=0.8π</tspan></text>
<text transform="translate(760.13 1127.5) scale(1.1 1)" font-size="28.3"><tspan font-weight="bold" font-style="italic">g</tspan><tspan font-weight="bold" font-style="normal" dx="-0.57">=0.93</tspan></text>
<text transform="translate(463.7 1213.5) skewX(-12) scale(1.108 1)" font-size="59" font-weight="normal" font-style="italic">μ</text>
<path d="M158 744.29h0M159.56 748.76h0M161.12 753.24h0M162.69 757.57h0M164.25 761.49h0M165.81 765.41h0M167.38 769.32h0M168.94 773.24h0M170.5 777.16h0M172.06 781.07h0M173.62 784.99h0M175.19 788.91h0M176.75 792.82h0M178.31 796.74h0M179.88 800.66h0M181.44 804.57h0M183 808.49h0M184.56 812.41h0M186.12 816.33h0M187.69 820.24h0M189.25 824.16h0M190.81 828.08h0M192.38 831.99h0M193.94 835.91h0M195.5 839.83h0M197.06 843.74h0M198.62 847.66h0M200.19 851.58h0M201.75 855.5h0M203.31 859.41h0M204.88 863.33h0M206.44 867.47h0M208 872.44h0M209.56 877.4h0M211.12 882.37h0M212.69 887.44h0M214.25 892.83h0M215.81 898.22h0M217.38 903.62h0M218.94 909.18h0M220.5 915.17h0M222.06 921.16h0M223.62 927.15h0M226.25 935.25h0M228 942h0M229.5 949h0M231.25 956.5h0M233 964h0M234.25 972h0M235.75 981h0M237 990.25h0M238.75 1000.25h0M240.5 1012.25h0M241.65 1025.2h0M243.4 1042.1h0M244.3 1069h0" fill="none" stroke="#000" stroke-width="4" stroke-linecap="round"/>
<path d="M246.52 1088.35h0M248.26 1089.57h0M249.48 1080.87h0M251.39 1076.52h0M253.83 1090.78h0M255.22 1089.91h0M256.96 1090.43h0M259.04 1081.74h0M260.78 1076h0M262.17 1077.91h0M263.91 1088.7h0M266.17 1090.09h0M268.61 1077.39h0M270.87 1079.13h0M272.61 1089.22h0M274.35 1090.96h0M276.43 1080h0M278.17 1077.04h0M280.09 1089.22h0M281.83 1086.09h0M283.91 1075.65h0M286.52 1075.65h0M289.13 1080.87h0M290.52 1084.7h0M292.61 1085.57h0M294.87 1084.7h0M296.96 1083.48h0M298.35 1080h0M300.43 1079.13h0M302.52 1081.74h0M304.43 1076h0M306 1076.52h0M307.39 1080h0M308.61 1074.26h0M310.87 1076h0M312.96 1075.65h0M315.22 1077.04h0M317.3 1076.52h0M319.57 1077.04h0M321.3 1076.52h0M323.39 1079.13h0M325.65 1080.87h0M327.74 1085.57h0M328.78 1093.04h0M330.52 1065.22h0M333.13 1058.61h0M335.57 1069.04h0" fill="none" stroke="#000" stroke-width="4.2" stroke-linecap="round"/>
<rect x="335.2" y="1090.95" width="535.3" height="4.1" fill="#000"/>
<circle cx="208.25" cy="876" r="7.6" fill="#ff00ff"/>
<rect x="234" y="692.5" width="176.25" height="154.5" fill="none" stroke="#000" stroke-width="3"/>
<clipPath id="c2325"><rect x="232.5" y="691" width="179.25" height="157.5"/></clipPath>
<g clip-path="url(#c2325)">
<path d="M234 708.5L234.73 709.58L235.47 710.83L236.2 712.26L236.94 713.85L237.67 715.62L238.41 717.55L239.14 719.63L239.88 721.88L240.61 724.27L241.35 726.8L242.08 729.47L242.81 732.26L243.55 735.18L244.28 738.2L245.02 741.32L245.75 744.54L246.49 747.83L247.22 751.19L247.96 754.61L248.69 758.08L249.43 761.58L250.16 765.1L250.9 768.63L251.63 772.17L252.36 775.69L253.1 779.18L253.83 782.64L254.57 786.05L255.3 789.4L256.04 792.68L256.77 795.88L257.51 798.99L258.24 802L258.98 804.89L259.71 807.67L260.44 810.31L261.18 812.82L261.91 815.19L262.65 817.41L263.38 819.47L264.12 821.37L264.85 823.11L265.59 824.68L266.32 826.08L267.06 827.31L267.79 828.04L268.53 826.91L269.26 825.63L269.99 824.18L270.73 822.58L271.46 820.82L272.2 818.91L272.93 816.85L273.67 814.64L274.4 812.3L275.14 809.83L275.87 807.23L276.61 804.52L277.34 801.7L278.07 798.78L278.81 795.77L279.54 792.67L280.28 789.51L281.01 786.29L281.75 783.02L282.48 779.72L283.22 776.39L283.95 773.04L284.69 769.69L285.42 766.35L286.16 763.03L286.89 759.75L287.62 756.51L288.36 753.33L289.09 750.21L289.83 747.18L290.56 744.24L291.3 741.4L292.03 738.68L292.77 736.07L293.5 733.6L294.24 731.28L294.97 729.1L295.7 727.08L296.44 725.23L297.17 723.55L297.91 722.06L298.64 720.74L299.38 719.62L300.11 718.7L300.85 717.97L301.58 717.44L302.32 717.12L303.05 717L303.79 717.07L304.52 717.29L305.25 717.67L305.99 718.2L306.72 718.89L307.46 719.72L308.19 720.7L308.93 721.83L309.66 723.1L310.4 724.5L311.13 726.02L311.87 727.68L312.6 729.45L313.34 731.33L314.07 733.32L314.8 735.4L315.54 737.57L316.27 739.83L317.01 742.15L317.74 744.55L318.48 746.99L319.21 749.49L319.95 752.02L320.68 754.58L321.42 757.16L322.15 759.75L322.88 757.16L323.62 754.58L324.35 752.02L325.09 749.49L325.82 746.99L326.56 744.55L327.29 742.15L328.03 739.83L328.76 737.57L329.5 735.4L330.23 733.32L330.97 731.33L331.7 729.45L332.43 727.68L333.17 726.02L333.9 724.5L334.64 723.1L335.37 721.83L336.11 720.7L336.84 719.72L337.58 718.89L338.31 718.2L339.05 717.67L339.78 717.29L340.51 717.07L341.25 717L341.98 717.12L342.72 717.44L343.45 717.97L344.19 718.7L344.92 719.62L345.66 720.74L346.39 722.06L347.13 723.55L347.86 725.23L348.6 727.08L349.33 729.1L350.06 731.28L350.8 733.6L351.53 736.07L352.27 738.68L353 741.4L353.74 744.24L354.47 747.18L355.21 750.21L355.94 753.33L356.68 756.51L357.41 759.75L358.14 763.03L358.88 766.35L359.61 769.69L360.35 773.04L361.08 776.39L361.82 779.72L362.55 783.02L363.29 786.29L364.02 789.51L364.76 792.67L365.49 795.77L366.23 798.78L366.96 801.7L367.69 804.52L368.43 807.23L369.16 809.83L369.9 812.3L370.63 814.64L371.37 816.85L372.1 818.91L372.84 820.82L373.57 822.58L374.31 824.18L375.04 825.63L375.77 826.91L376.51 828.04L377.24 827.31L377.98 826.08L378.71 824.68L379.45 823.11L380.18 821.37L380.92 819.47L381.65 817.41L382.39 815.19L383.12 812.82L383.86 810.31L384.59 807.67L385.32 804.89L386.06 802L386.79 798.99L387.53 795.88L388.26 792.68L389 789.4L389.73 786.05L390.47 782.64L391.2 779.18L391.94 775.69L392.67 772.17L393.4 768.63L394.14 765.1L394.87 761.58L395.61 758.08L396.34 754.61L397.08 751.19L397.81 747.83L398.55 744.54L399.28 741.32L400.02 738.2L400.75 735.18L401.49 732.26L402.22 729.47L402.95 726.8L403.69 724.27L404.42 721.88L405.16 719.63L405.89 717.55L406.63 715.62L407.36 713.85L408.1 712.26L408.83 710.83L409.57 709.58L410.3 708.5" fill="none" stroke="#000" stroke-width="3.3" stroke-linejoin="round" stroke-linecap="butt"/>
</g>
<text transform="translate(202.02 738.05) scale(1.05 1)" font-size="21" font-weight="bold" font-style="normal">2.0</text>
<rect x="235" y="731.25" width="2.1" height="2" fill="#000"/>
<text transform="translate(201.8 788.8) scale(1.05 1)" font-size="21" font-weight="bold" font-style="normal">1.6</text>
<rect x="235" y="782" width="2.1" height="2" fill="#000"/>
<text transform="translate(202.02 841.05) scale(1.05 1)" font-size="21" font-weight="bold" font-style="normal">1.2</text>
<rect x="235" y="834.25" width="2.1" height="2" fill="#000"/>
<rect x="235" y="756.3" width="1.5" height="1.4" fill="#000"/>
<rect x="235" y="808.3" width="1.5" height="1.4" fill="#000"/>
<rect x="321.12" y="843.9" width="2" height="2.1" fill="#000"/>
<text transform="translate(223.79 867.8) scale(1.05 1)" font-size="21" font-weight="bold" font-style="normal">-1</text>
<text transform="translate(316.61 867.8) scale(1.05 1)" font-size="21" font-weight="bold" font-style="normal">0</text>
<text transform="translate(404.81 867.8) scale(1.05 1)" font-size="21" font-weight="bold" font-style="normal">1</text>
<text transform="translate(306.39 890) scale(1.06 1)" font-size="29.6"><tspan font-weight="bold" font-style="italic">p</tspan><tspan font-weight="bold" font-style="normal">/π</tspan></text>
<text transform="translate(200.15 706) scale(1.07 1)" font-size="28" font-weight="bold" font-style="italic">H</text>
<circle cx="364.5" cy="779.75" r="7.6" fill="#ff00ff"/>
<line x1="478.2" y1="1011" x2="502.1" y2="950.6" stroke="#555" stroke-width="0.8"/>
<line x1="820.4" y1="1016" x2="848.7" y2="950.6" stroke="#555" stroke-width="0.8"/>
<path d="M502.1 952.8L502.1 947.47L502.6 947.49L503.1 947.51L503.6 947.53L504.1 947.55L504.6 947.57L505.1 947.59L505.6 947.61L506.1 947.63L506.6 947.64L507.1 947.64L507.6 947.65L508.1 947.64L508.6 947.64L509.1 947.61L509.6 947.59L510.1 947.56L510.6 947.52L511.1 947.47L511.6 947.4L512.1 947.31L512.6 947.2L513.1 947.04L513.6 946.81L514.1 946.48L514.6 945.98L515.1 945.27L515.6 935.64L516.1 926L516.6 916.38L517.1 907.84L517.6 906.68L518.1 906.07L518.6 905.67L519.1 905.4L519.6 905.24L520.1 905.17L520.6 905.17L521.1 905.26L521.6 905.42L522.1 905.67L522.6 906.03L523.1 906.51L523.6 907.2L524.1 908.44L524.6 917.06L525.1 926.76L525.6 936.46L526.1 946.16L526.6 946.93L527.1 947.49L527.6 947.87L528.1 948.08L528.6 948.2L529.1 948.27L529.6 948.32L530.1 948.35L530.6 948.37L531.1 948.38L531.6 948.39L532.1 948.39L532.6 948.4L533.1 948.4L533.6 948.4L534.1 948.4L534.6 948.4L535.1 948.4L535.6 948.4L536.1 948.4L536.6 948.4L537.1 948.4L537.6 948.4L538.1 948.32L538.6 948.24L539.1 948.15L539.6 948.06L540.1 947.98L540.6 947.9L541.1 947.82L541.6 947.75L542.1 947.68L542.6 947.61L543.1 947.56L543.6 947.51L544.1 947.47L544.6 947.43L545.1 947.4L545.6 947.38L546.1 947.36L546.6 947.35L547.1 947.35L547.6 947.35L548.1 947.35L548.6 947.36L549.1 947.36L549.6 947.37L550.1 947.37L550.6 947.37L551.1 947.37L551.6 947.35L552.1 947.3L552.6 947.23L553.1 947.11L553.6 946.91L554.1 946.59L554.6 946.08L555.1 943.91L555.6 935.08L556.1 926.24L556.6 917.39L557.1 910.9L557.6 909.92L558.1 909.35L558.6 908.95L559.1 908.67L559.6 908.48L560.1 908.36L560.6 908.32L561.1 908.36L561.6 908.46L562.1 908.66L562.6 908.96L563.1 909.39L563.6 910.06L564.1 911.9L564.6 920.75L565.1 929.6L565.6 938.45L566.1 945.51L566.6 946.21L567.1 946.67L567.6 946.99L568.1 947.21L568.6 947.37L569.1 947.49L569.6 947.59L570.1 947.67L570.6 947.74L571.1 947.8L571.6 947.85L572.1 947.9L572.6 947.94L573.1 947.97L573.6 947.98L574.1 947.99L574.6 948L575.1 947.99L575.6 947.97L576.1 947.94L576.6 947.9L577.1 947.86L577.6 947.8L578.1 947.73L578.6 947.66L579.1 947.58L579.6 947.49L580.1 947.4L580.6 947.3L581.1 947.2L581.6 947.1L582.1 946.99L582.6 946.89L583.1 946.8L583.6 946.7L584.1 946.61L584.6 946.53L585.1 946.45L585.6 946.38L586.1 946.32L586.6 946.27L587.1 946.24L587.6 946.21L588.1 946.18L588.6 946.17L589.1 946.16L589.6 946.16L590.1 946.16L590.6 946.16L591.1 946.14L591.6 946.08L592.1 945.98L592.6 945.78L593.1 945.44L593.6 944.86L594.1 938.12L594.6 929.58L595.1 921.04L595.6 912.5L596.1 910.75L596.6 910.17L597.1 909.81L597.6 909.59L598.1 909.45L598.6 909.39L599.1 909.4L599.6 909.47L600.1 909.6L600.6 909.81L601.1 910.1L601.6 910.5L602.1 911.07L602.6 912.03L603.1 918.4L603.6 927.02L604.1 935.65L604.6 944.27L605.1 946.35L605.6 946.85L606.1 947.16L606.6 947.35L607.1 947.48L607.6 947.56L608.1 947.61L608.6 947.65L609.1 947.68L609.6 947.7L610.1 947.72L610.6 947.75L611.1 947.78L611.6 947.8L612.1 947.83L612.6 947.86L613.1 947.9L613.6 947.93L614.1 947.97L614.6 948.01L615.1 948.05L615.6 948.08L616.1 948.12L616.6 948.15L617.1 948.18L617.6 948.2L618.1 948.22L618.6 948.23L619.1 948.24L619.6 948.24L620.1 948.24L620.6 948.22L621.1 948.21L621.6 948.18L622.1 948.15L622.6 948.11L623.1 948.07L623.6 948.02L624.1 947.97L624.6 947.91L625.1 947.86L625.6 947.8L626.1 947.74L626.6 947.68L627.1 947.63L627.6 947.57L628.1 947.51L628.6 947.46L629.1 947.41L629.6 947.35L630.1 947.3L630.6 947.22L631.1 947.13L631.6 946.99L632.1 946.78L632.6 946.45L633.1 945.94L633.6 940.92L634.1 930.04L634.6 919.17L635.1 908.3L635.6 902.56L636.1 901.81L636.6 901.37L637.1 901.1L637.6 900.94L638.1 900.87L638.6 900.87L639.1 900.93L639.6 901.07L640.1 901.27L640.6 901.53L641.1 901.85L641.6 902.32L642.1 903.05L642.6 906.88L643.1 917.81L643.6 928.73L644.1 939.66L644.6 946.76L645.1 947.36L645.6 947.74L646.1 947.98L646.6 948.13L647.1 948.23L647.6 948.29L648.1 948.26L648.6 948.22L649.1 948.17L649.6 948.1L650.1 948.04L650.6 947.97L651.1 947.9L651.6 947.83L652.1 947.76L652.6 947.7L653.1 947.64L653.6 947.58L654.1 947.53L654.6 947.49L655.1 947.46L655.6 947.43L656.1 947.41L656.6 947.39L657.1 947.38L657.6 947.38L658.1 947.38L658.6 947.38L659.1 947.39L659.6 947.41L660.1 947.42L660.6 947.44L661.1 947.46L661.6 947.47L662.1 947.49L662.6 947.5L663.1 947.51L663.6 947.51L664.1 947.52L664.6 947.51L665.1 947.5L665.6 947.49L666.1 947.47L666.6 947.44L667.1 947.4L667.6 947.36L668.1 947.31L668.6 947.25L669.1 947.18L669.6 947.1L670.1 946.99L670.6 946.85L671.1 946.66L671.6 946.41L672.1 946.03L672.6 945.48L673.1 942.43L673.6 931.45L674.1 920.48L674.6 909.52L675.1 901.75L675.6 900.78L676.1 900.21L676.6 899.82L677.1 899.56L677.6 899.39L678.1 899.31L678.6 899.3L679.1 899.37L679.6 899.52L680.1 899.75L680.6 900.09L681.1 900.56L681.6 901.26L682.1 903.13L682.6 914.09L683.1 925.06L683.6 936.02L684.1 945.18L684.6 945.86L685.1 946.3L685.6 946.59L686.1 946.77L686.6 946.87L687.1 946.94L687.6 946.97L688.1 946.97L688.6 946.96L689.1 946.93L689.6 946.89L690.1 946.85L690.6 946.79L691.1 946.72L691.6 946.65L692.1 946.57L692.6 946.49L693.1 946.41L693.6 946.32L694.1 946.24L694.6 946.16L695.1 946.08L695.6 946.01L696.1 945.95L696.6 945.89L697.1 945.84L697.6 945.8L698.1 945.77L698.6 945.75L699.1 945.74L699.6 945.75L700.1 945.76L700.6 945.79L701.1 945.83L701.6 945.88L702.1 945.93L702.6 946L703.1 946.08L703.6 946.16L704.1 946.25L704.6 946.34L705.1 946.43L705.6 946.53L706.1 946.63L706.6 946.72L707.1 946.81L707.6 946.89L708.1 946.97L708.6 947.04L709.1 947.1L709.6 947.15L710.1 947.17L710.6 947.17L711.1 947.14L711.6 947.05L712.1 946.89L712.6 946.62L713.1 946.17L713.6 945.28L714.1 934.57L714.6 923.86L715.1 913.15L715.6 903.73L716.1 902.56L716.6 901.94L717.1 901.51L717.6 901.21L718.1 901.01L718.6 900.89L719.1 900.84L719.6 900.87L720.1 900.97L720.6 901.16L721.1 901.45L721.6 901.88L722.1 902.5L722.6 903.68L723.1 913.12L723.6 923.87L724.1 934.62L724.6 945.38L725.1 946.33L725.6 946.85L726.1 947.21L726.6 947.47L727.1 947.66L727.6 947.81L728.1 947.93L728.6 948.03L729.1 948.11L729.6 948.19L730.1 948.25L730.6 948.31L731.1 948.36L731.6 948.38L732.1 948.38L732.6 948.38L733.1 948.38L733.6 948.38L734.1 948.38L734.6 948.38L735.1 948.39L735.6 948.39L736.1 948.38L736.6 948.34L737.1 948.3L737.6 948.25L738.1 948.2L738.6 948.14L739.1 948.09L739.6 948.03L740.1 947.98L740.6 947.92L741.1 947.87L741.6 947.82L742.1 947.77L742.6 947.73L743.1 947.7L743.6 947.67L744.1 947.64L744.6 947.63L745.1 947.61L745.6 947.61L746.1 947.6L746.6 947.61L747.1 947.62L747.6 947.63L748.1 947.63L748.6 947.65L749.1 947.66L749.6 947.66L750.1 947.65L750.6 947.63L751.1 947.58L751.6 947.49L752.1 947.34L752.6 947.08L753.1 946.67L753.6 946.01L754.1 936.65L754.6 925.49L755.1 914.32L755.6 903.15L756.1 901.29L756.6 900.59L757.1 900.11L757.6 899.76L758.1 899.51L758.6 899.33L759.1 899.22L759.6 899.18L760.1 899.21L760.6 899.32L761.1 899.51L761.6 899.82L762.1 900.31L762.6 901.2L763.1 909.02L763.6 920.12L764.1 931.23L764.6 942.34L765.1 945.39L765.6 945.86L766.1 946.16L766.6 946.34L767.1 946.46L767.6 946.53L768.1 946.58L768.6 946.62L769.1 946.64L769.6 946.66L770.1 946.68L770.6 946.7L771.1 946.71L771.6 946.72L772.1 946.73L772.6 946.73L773.1 946.73L773.6 946.73L774.1 946.72L774.6 946.71L775.1 946.69L775.6 946.67L776.1 946.64L776.6 946.61L777.1 946.58L777.6 946.54L778.1 946.49L778.6 946.45L779.1 946.4L779.6 946.35L780.1 946.31L780.6 946.26L781.1 946.21L781.6 946.17L782.1 946.12L782.6 946.09L783.1 946.05L783.6 946.02L784.1 945.99L784.6 945.97L785.1 945.96L785.6 945.95L786.1 945.94L786.6 945.95L787.1 945.95L787.6 945.97L788.1 945.98L788.6 946.01L789.1 946.04L789.6 946.07L790.1 946.09L790.6 946.12L791.1 946.13L791.6 946.12L792.1 946.07L792.6 945.96L793.1 945.75L793.6 945.37L794.1 944.05L794.6 930.87L795.1 917.7L795.6 904.52L796.1 893.15L796.6 892.07L797.1 891.53L797.6 891.18L798.1 890.94L798.6 890.79L799.1 890.71L799.6 890.68L800.1 890.71L800.6 890.79L801.1 890.93L801.6 891.14L802.1 891.44L802.6 891.91L803.1 892.89L803.6 904.12L804.1 917.11L804.6 930.04L805.1 942.91L805.6 943.85L806.1 943.79L806.6 943.5L807.1 943.06L807.6 942.52L808.1 941.96L808.6 941.42L809.1 940.96L809.6 940.64L810.1 940.48L810.6 940.49L811.1 940.66L811.6 940.96L812.1 941.32L812.6 941.72L813.1 942.12L813.6 942.48L814.1 942.8L814.6 943.05L815.1 943.26L815.6 943.42L816.1 943.55L816.6 943.66L817.1 943.77L817.6 943.89L818.1 944.02L818.6 944.18L819.1 944.35L819.6 944.55L820.1 944.77L820.6 945L821.1 945.24L821.6 945.47L822.1 945.7L822.6 945.91L823.1 946.11L823.6 946.29L824.1 946.44L824.6 946.58L825.1 946.69L825.6 946.78L826.1 946.85L826.6 946.9L827.1 946.94L827.6 946.96L828.1 946.97L828.6 946.98L829.1 946.97L829.6 946.97L830.1 946.96L830.6 946.95L831.1 946.94L831.6 946.93L832.1 946.92L832.6 946.92L833.1 946.91L833.6 946.89L834.1 946.87L834.6 946.82L835.1 946.73L835.6 946.57L836.1 946.31L836.6 945.86L837.1 898.99L837.6 778.31L838.1 704.78L838.6 703.93L839.1 703.48L839.6 703.2L840.1 703.03L840.6 702.95L841.1 702.95L841.6 703.01L842.1 703.15L842.6 703.36L843.1 703.66L843.6 704.07L844.1 704.67L844.6 705.8L845.1 803.23L845.6 923.98L846.1 946.87L846.6 947.31L847.1 947.57L847.6 947.73L848.1 947.81L848.6 947.84L848.7 952.8Z" fill="#000"/>
<path d="M489.3 982.3L489.3 977.69L489.8 977.74L490.3 977.79L490.8 977.84L491.3 977.89L491.8 977.94L492.3 977.98L492.8 978.03L493.3 978.07L493.8 978.1L494.3 978.1L494.8 978.1L495.3 978.1L495.8 978.1L496.3 978.1L496.8 978.1L497.3 978.1L497.8 978.1L498.3 978.1L498.8 978.1L499.3 978.09L499.8 978.09L500.3 978.09L500.8 978.08L501.3 978.07L501.8 978.05L502.3 978L502.8 977.95L503.3 977.88L503.8 977.79L504.3 977.67L504.8 977.5L505.3 977.29L505.8 977.01L506.3 976.65L506.8 976.22L507.3 975.75L507.8 975.31L508.3 974.99L508.8 974.86L509.3 974.98L509.8 975.29L510.3 975.72L510.8 976.18L511.3 976.59L511.8 976.94L512.3 977.21L512.8 977.4L513.3 977.54L513.8 977.64L514.3 977.7L514.8 977.74L515.3 977.77L515.8 977.78L516.3 977.79L516.8 977.79L517.3 977.78L517.8 977.77L518.3 977.76L518.8 977.74L519.3 977.73L519.8 977.71L520.3 977.7L520.8 977.68L521.3 977.66L521.8 977.65L522.3 977.63L522.8 977.62L523.3 977.6L523.8 977.59L524.3 977.58L524.8 977.57L525.3 977.57L525.8 977.56L526.3 977.56L526.8 977.56L527.3 977.56L527.8 977.56L528.3 977.57L528.8 977.57L529.3 977.58L529.8 977.59L530.3 977.6L530.8 977.61L531.3 977.61L531.8 977.62L532.3 977.63L532.8 977.64L533.3 977.64L533.8 977.65L534.3 977.65L534.8 977.65L535.3 977.65L535.8 977.65L536.3 977.65L536.8 977.64L537.3 977.64L537.8 977.63L538.3 977.62L538.8 977.61L539.3 977.6L539.8 977.59L540.3 977.57L540.8 977.54L541.3 977.52L541.8 977.48L542.3 977.42L542.8 977.35L543.3 977.24L543.8 977.09L544.3 976.89L544.8 976.61L545.3 976.26L545.8 975.85L546.3 975.4L546.8 975L547.3 974.74L547.8 974.68L548.3 974.87L548.8 975.24L549.3 975.7L549.8 976.18L550.3 976.6L550.8 976.95L551.3 977.22L551.8 977.43L552.3 977.57L552.8 977.68L553.3 977.75L553.8 977.8L554.3 977.83L554.8 977.85L555.3 977.86L555.8 977.86L556.3 977.86L556.8 977.84L557.3 977.83L557.8 977.81L558.3 977.78L558.8 977.75L559.3 977.72L559.8 977.69L560.3 977.65L560.8 977.62L561.3 977.58L561.8 977.55L562.3 977.52L562.8 977.49L563.3 977.46L563.8 977.44L564.3 977.42L564.8 977.4L565.3 977.39L565.8 977.38L566.3 977.38L566.8 977.38L567.3 977.39L567.8 977.41L568.3 977.43L568.8 977.46L569.3 977.49L569.8 977.53L570.3 977.57L570.8 977.61L571.3 977.66L571.8 977.71L572.3 977.76L572.8 977.82L573.3 977.87L573.8 977.92L574.3 977.97L574.8 978.02L575.3 978.07L575.8 978.1L576.3 978.1L576.8 978.1L577.3 978.1L577.8 978.1L578.3 978.1L578.8 978.09L579.3 978.09L579.8 978.09L580.3 978.08L580.8 978.07L581.3 978.05L581.8 978.01L582.3 977.97L582.8 977.89L583.3 977.78L583.8 977.61L584.3 977.36L584.8 976.99L585.3 976.48L585.8 975.87L586.3 975.23L586.8 974.69L587.3 974.42L587.8 974.49L588.3 974.87L588.8 975.42L589.3 975.99L589.8 976.49L590.3 976.87L590.8 977.14L591.3 977.32L591.8 977.44L592.3 977.52L592.8 977.57L593.3 977.6L593.8 977.62L594.3 977.64L594.8 977.65L595.3 977.65L595.8 977.66L596.3 977.67L596.8 977.67L597.3 977.68L597.8 977.68L598.3 977.68L598.8 977.68L599.3 977.68L599.8 977.68L600.3 977.68L600.8 977.68L601.3 977.68L601.8 977.67L602.3 977.67L602.8 977.66L603.3 977.66L603.8 977.65L604.3 977.64L604.8 977.63L605.3 977.63L605.8 977.62L606.3 977.62L606.8 977.61L607.3 977.61L607.8 977.61L608.3 977.6L608.8 977.61L609.3 977.61L609.8 977.61L610.3 977.62L610.8 977.62L611.3 977.63L611.8 977.64L612.3 977.65L612.8 977.66L613.3 977.68L613.8 977.69L614.3 977.7L614.8 977.71L615.3 977.72L615.8 977.73L616.3 977.74L616.8 977.75L617.3 977.76L617.8 977.76L618.3 977.76L618.8 977.76L619.3 977.75L619.8 977.74L620.3 977.73L620.8 977.7L621.3 977.66L621.8 977.6L622.3 977.51L622.8 977.38L623.3 977.18L623.8 976.9L624.3 976.51L624.8 975.98L625.3 975.33L625.8 974.62L626.3 974L626.8 973.65L627.3 973.68L627.8 974.09L628.3 974.72L628.8 975.42L629.3 976.03L629.8 976.52L630.3 976.89L630.8 977.14L631.3 977.32L631.8 977.44L632.3 977.53L632.8 977.59L633.3 977.63L633.8 977.67L634.3 977.7L634.8 977.72L635.3 977.74L635.8 977.76L636.3 977.78L636.8 977.79L637.3 977.8L637.8 977.81L638.3 977.81L638.8 977.81L639.3 977.81L639.8 977.81L640.3 977.8L640.8 977.79L641.3 977.78L641.8 977.76L642.3 977.74L642.8 977.72L643.3 977.7L643.8 977.68L644.3 977.66L644.8 977.63L645.3 977.61L645.8 977.59L646.3 977.57L646.8 977.55L647.3 977.53L647.8 977.52L648.3 977.51L648.8 977.51L649.3 977.51L649.8 977.51L650.3 977.52L650.8 977.54L651.3 977.55L651.8 977.58L652.3 977.6L652.8 977.64L653.3 977.67L653.8 977.71L654.3 977.75L654.8 977.8L655.3 977.84L655.8 977.89L656.3 977.94L656.8 977.98L657.3 978.03L657.8 978.07L658.3 978.09L658.8 978.09L659.3 978.09L659.8 978.08L660.3 978.07L660.8 978.05L661.3 978.02L661.8 977.98L662.3 977.91L662.8 977.81L663.3 977.65L663.8 977.41L664.3 977.08L664.8 976.63L665.3 976.07L665.8 975.46L666.3 974.93L666.8 974.62L667.3 974.61L667.8 974.93L668.3 975.44L668.8 976L669.3 976.5L669.8 976.88L670.3 977.14L670.8 977.32L671.3 977.42L671.8 977.48L672.3 977.51L672.8 977.51L673.3 977.51L673.8 977.51L674.3 977.5L674.8 977.49L675.3 977.48L675.8 977.48L676.3 977.48L676.8 977.48L677.3 977.48L677.8 977.49L678.3 977.5L678.8 977.51L679.3 977.52L679.8 977.54L680.3 977.55L680.8 977.57L681.3 977.59L681.8 977.6L682.3 977.62L682.8 977.63L683.3 977.65L683.8 977.66L684.3 977.67L684.8 977.68L685.3 977.69L685.8 977.7L686.3 977.7L686.8 977.7L687.3 977.71L687.8 977.71L688.3 977.71L688.8 977.71L689.3 977.71L689.8 977.71L690.3 977.71L690.8 977.71L691.3 977.71L691.8 977.71L692.3 977.71L692.8 977.72L693.3 977.72L693.8 977.72L694.3 977.73L694.8 977.74L695.3 977.74L695.8 977.75L696.3 977.76L696.8 977.76L697.3 977.77L697.8 977.78L698.3 977.78L698.8 977.78L699.3 977.78L699.8 977.77L700.3 977.75L700.8 977.71L701.3 977.65L701.8 977.56L702.3 977.42L702.8 977.22L703.3 976.93L703.8 976.53L704.3 976.04L704.8 975.51L705.3 975.04L705.8 974.76L706.3 974.77L706.8 975.06L707.3 975.53L707.8 976.03L708.3 976.47L708.8 976.82L709.3 977.07L709.8 977.24L710.3 977.35L710.8 977.42L711.3 977.46L711.8 977.49L712.3 977.51L712.8 977.52L713.3 977.53L713.8 977.54L714.3 977.55L714.8 977.56L715.3 977.57L715.8 977.59L716.3 977.61L716.8 977.62L717.3 977.64L717.8 977.67L718.3 977.69L718.8 977.71L719.3 977.73L719.8 977.75L720.3 977.77L720.8 977.79L721.3 977.8L721.8 977.82L722.3 977.83L722.8 977.84L723.3 977.84L723.8 977.85L724.3 977.85L724.8 977.85L725.3 977.84L725.8 977.83L726.3 977.82L726.8 977.81L727.3 977.8L727.8 977.79L728.3 977.77L728.8 977.75L729.3 977.74L729.8 977.72L730.3 977.71L730.8 977.7L731.3 977.69L731.8 977.68L732.3 977.67L732.8 977.67L733.3 977.67L733.8 977.68L734.3 977.69L734.8 977.7L735.3 977.71L735.8 977.73L736.3 977.75L736.8 977.78L737.3 977.81L737.8 977.84L738.3 977.87L738.8 977.9L739.3 977.92L739.8 977.95L740.3 977.97L740.8 977.98L741.3 977.97L741.8 977.94L742.3 977.85L742.8 977.71L743.3 977.51L743.8 977.23L744.3 976.84L744.8 976.36L745.3 975.84L745.8 975.38L746.3 975.12L746.8 975.16L747.3 975.46L747.8 975.94L748.3 976.44L748.8 976.87L749.3 977.19L749.8 977.42L750.3 977.56L750.8 977.64L751.3 977.67L751.8 977.67L752.3 977.66L752.8 977.63L753.3 977.6L753.8 977.56L754.3 977.53L754.8 977.49L755.3 977.46L755.8 977.43L756.3 977.41L756.8 977.39L757.3 977.37L757.8 977.36L758.3 977.35L758.8 977.35L759.3 977.35L759.8 977.36L760.3 977.37L760.8 977.39L761.3 977.41L761.8 977.43L762.3 977.46L762.8 977.48L763.3 977.51L763.8 977.54L764.3 977.57L764.8 977.6L765.3 977.63L765.8 977.66L766.3 977.69L766.8 977.71L767.3 977.73L767.8 977.76L768.3 977.77L768.8 977.79L769.3 977.81L769.8 977.82L770.3 977.83L770.8 977.83L771.3 977.84L771.8 977.84L772.3 977.84L772.8 977.84L773.3 977.84L773.8 977.83L774.3 977.83L774.8 977.82L775.3 977.82L775.8 977.81L776.3 977.81L776.8 977.8L777.3 977.8L777.8 977.8L778.3 977.79L778.8 977.79L779.3 977.79L779.8 977.78L780.3 977.78L780.8 977.77L781.3 977.76L781.8 977.74L782.3 977.71L782.8 977.67L783.3 977.6L783.8 977.49L784.3 977.33L784.8 977.09L785.3 976.75L785.8 976.3L786.3 975.73L786.8 975.11L787.3 974.57L787.8 974.25L788.3 974.28L788.8 974.62L789.3 975.17L789.8 975.76L790.3 976.28L790.8 976.69L791.3 976.98L791.8 977.18L792.3 977.32L792.8 977.4L793.3 977.45L793.8 977.48L794.3 977.49L794.8 977.5L795.3 977.51L795.8 977.52L796.3 977.52L796.8 977.53L797.3 977.54L797.8 977.55L798.3 977.57L798.8 977.59L799.3 977.61L799.8 977.63L800.3 977.65L800.8 977.68L801.3 977.7L801.8 977.73L802.3 977.76L802.8 977.79L803.3 977.82L803.8 977.85L804.3 977.87L804.8 977.9L805.3 977.92L805.8 977.94L806.3 977.95L806.8 977.97L807.3 977.98L807.8 977.98L808.3 977.99L808.8 977.99L809.3 977.99L809.8 977.98L810.3 977.97L810.8 977.96L811.3 977.95L811.8 977.93L812.3 977.91L812.8 977.9L813.3 977.88L813.8 977.86L814.3 977.84L814.8 977.82L815.3 977.81L815.8 977.79L816.3 977.78L816.8 977.77L817.3 977.77L817.8 977.76L818.3 977.76L818.8 977.76L819.3 977.76L819.8 977.76L820.3 977.76L820.8 977.75L821.3 977.74L821.8 977.72L822.3 977.67L822.8 977.59L823.3 977.45L823.8 977.22L824.3 976.83L824.8 976.22L825.3 975.32L825.8 959.85L826.3 935.65L826.8 934.65L827.3 934.14L827.8 933.83L828.3 933.63L828.8 933.53L829.3 933.51L829.8 933.57L830.3 933.73L830.8 934L831.3 934.43L831.8 935.23L832.3 955.86L832.8 972.4L833.3 975.87L833.8 976.53L834.3 976.93L834.8 977.17L835.3 977.3L835.8 977.37L836.2 982.3Z" fill="#ff0000"/>
<path d="M478.2 1011.1L478.2 1006.11L478.7 1006.1L479.2 1006.08L479.7 1006.07L480.2 1006.05L480.7 1006.04L481.2 1006.02L481.7 1006L482.2 1005.99L482.7 1005.97L483.2 1005.96L483.7 1005.94L484.2 1005.93L484.7 1005.91L485.2 1005.9L485.7 1005.89L486.2 1005.87L486.7 1005.86L487.2 1005.84L487.7 1005.83L488.2 1005.82L488.7 1005.8L489.2 1005.79L489.7 1005.77L490.2 1005.76L490.7 1005.75L491.2 1005.74L491.7 1005.72L492.2 1005.71L492.7 1005.7L493.2 1005.68L493.7 1005.67L494.2 1005.66L494.7 1005.65L495.2 1005.64L495.7 1005.63L496.2 1005.62L496.7 1005.61L497.2 1005.6L497.7 1005.59L498.2 1005.58L498.7 1005.58L499.2 1005.57L499.7 1005.56L500.2 1005.56L500.7 1005.55L501.2 1005.55L501.7 1005.55L502.2 1005.55L502.7 1005.55L503.2 1005.55L503.7 1005.55L504.2 1005.55L504.7 1005.55L505.2 1005.56L505.7 1005.56L506.2 1005.57L506.7 1005.58L507.2 1005.59L507.7 1005.6L508.2 1005.61L508.7 1005.62L509.2 1005.63L509.7 1005.64L510.2 1005.66L510.7 1005.67L511.2 1005.69L511.7 1005.7L512.2 1005.72L512.7 1005.73L513.2 1005.75L513.7 1005.77L514.2 1005.78L514.7 1005.8L515.2 1005.81L515.7 1005.83L516.2 1005.85L516.7 1005.86L517.2 1005.87L517.7 1005.89L518.2 1005.9L518.7 1005.91L519.2 1005.92L519.7 1005.93L520.2 1005.94L520.7 1005.95L521.2 1005.96L521.7 1005.96L522.2 1005.97L522.7 1005.97L523.2 1005.97L523.7 1005.97L524.2 1005.97L524.7 1005.96L525.2 1005.96L525.7 1005.95L526.2 1005.95L526.7 1005.94L527.2 1005.93L527.7 1005.92L528.2 1005.91L528.7 1005.89L529.2 1005.88L529.7 1005.87L530.2 1005.85L530.7 1005.84L531.2 1005.82L531.7 1005.8L532.2 1005.79L532.7 1005.77L533.2 1005.75L533.7 1005.74L534.2 1005.72L534.7 1005.71L535.2 1005.69L535.7 1005.68L536.2 1005.67L536.7 1005.66L537.2 1005.64L537.7 1005.64L538.2 1005.63L538.7 1005.62L539.2 1005.62L539.7 1005.61L540.2 1005.61L540.7 1005.61L541.2 1005.62L541.7 1005.62L542.2 1005.63L542.7 1005.63L543.2 1005.64L543.7 1005.65L544.2 1005.67L544.7 1005.68L545.2 1005.7L545.7 1005.72L546.2 1005.74L546.7 1005.76L547.2 1005.78L547.7 1005.8L548.2 1005.83L548.7 1005.85L549.2 1005.88L549.7 1005.9L550.2 1005.93L550.7 1005.95L551.2 1005.98L551.7 1006.01L552.2 1006.03L552.7 1006.06L553.2 1006.08L553.7 1006.1L554.2 1006.12L554.7 1006.14L555.2 1006.16L555.7 1006.18L556.2 1006.2L556.7 1006.21L557.2 1006.22L557.7 1006.23L558.2 1006.23L558.7 1006.24L559.2 1006.24L559.7 1006.24L560.2 1006.23L560.7 1006.23L561.2 1006.22L561.7 1006.21L562.2 1006.19L562.7 1006.17L563.2 1006.15L563.7 1006.13L564.2 1006.11L564.7 1006.08L565.2 1006.05L565.7 1006.02L566.2 1005.98L566.7 1005.95L567.2 1005.91L567.7 1005.87L568.2 1005.83L568.7 1005.79L569.2 1005.75L569.7 1005.71L570.2 1005.67L570.7 1005.63L571.2 1005.58L571.7 1005.54L572.2 1005.5L572.7 1005.46L573.2 1005.42L573.7 1005.39L574.2 1005.35L574.7 1005.32L575.2 1005.28L575.7 1005.25L576.2 1005.23L576.7 1005.2L577.2 1005.18L577.7 1005.16L578.2 1005.14L578.7 1005.13L579.2 1005.12L579.7 1005.11L580.2 1005.11L580.7 1005.11L581.2 1005.11L581.7 1005.11L582.2 1005.12L582.7 1005.14L583.2 1005.15L583.7 1005.17L584.2 1005.19L584.7 1005.22L585.2 1005.24L585.7 1005.28L586.2 1005.31L586.7 1005.34L587.2 1005.38L587.7 1005.42L588.2 1005.46L588.7 1005.5L589.2 1005.55L589.7 1005.59L590.2 1005.64L590.7 1005.68L591.2 1005.73L591.7 1005.77L592.2 1005.82L592.7 1005.87L593.2 1005.91L593.7 1005.96L594.2 1006L594.7 1006.04L595.2 1006.08L595.7 1006.12L596.2 1006.16L596.7 1006.2L597.2 1006.23L597.7 1006.26L598.2 1006.29L598.7 1006.3L599.2 1006.3L599.7 1006.3L600.2 1006.3L600.7 1006.3L601.2 1006.3L601.7 1006.3L602.2 1006.3L602.7 1006.3L603.2 1006.3L603.7 1006.3L604.2 1006.3L604.7 1006.3L605.2 1006.3L605.7 1006.3L606.2 1006.3L606.7 1006.3L607.2 1006.3L607.7 1006.3L608.2 1006.3L608.7 1006.29L609.2 1006.27L609.7 1006.24L610.2 1006.22L610.7 1006.19L611.2 1006.16L611.7 1006.14L612.2 1006.11L612.7 1006.08L613.2 1006.05L613.7 1006.02L614.2 1006L614.7 1005.97L615.2 1005.95L615.7 1005.92L616.2 1005.9L616.7 1005.87L617.2 1005.85L617.7 1005.83L618.2 1005.81L618.7 1005.79L619.2 1005.77L619.7 1005.76L620.2 1005.74L620.7 1005.73L621.2 1005.72L621.7 1005.71L622.2 1005.7L622.7 1005.69L623.2 1005.69L623.7 1005.68L624.2 1005.68L624.7 1005.68L625.2 1005.68L625.7 1005.68L626.2 1005.68L626.7 1005.68L627.2 1005.68L627.7 1005.69L628.2 1005.69L628.7 1005.69L629.2 1005.7L629.7 1005.7L630.2 1005.71L630.7 1005.71L631.2 1005.72L631.7 1005.73L632.2 1005.73L632.7 1005.74L633.2 1005.74L633.7 1005.75L634.2 1005.75L634.7 1005.76L635.2 1005.76L635.7 1005.76L636.2 1005.76L636.7 1005.77L637.2 1005.77L637.7 1005.77L638.2 1005.77L638.7 1005.77L639.2 1005.77L639.7 1005.77L640.2 1005.76L640.7 1005.76L641.2 1005.76L641.7 1005.76L642.2 1005.75L642.7 1005.75L643.2 1005.75L643.7 1005.74L644.2 1005.74L644.7 1005.73L645.2 1005.73L645.7 1005.72L646.2 1005.72L646.7 1005.72L647.2 1005.71L647.7 1005.71L648.2 1005.71L648.7 1005.7L649.2 1005.7L649.7 1005.7L650.2 1005.7L650.7 1005.7L651.2 1005.7L651.7 1005.7L652.2 1005.7L652.7 1005.7L653.2 1005.7L653.7 1005.7L654.2 1005.7L654.7 1005.71L655.2 1005.71L655.7 1005.71L656.2 1005.72L656.7 1005.72L657.2 1005.72L657.7 1005.73L658.2 1005.73L658.7 1005.74L659.2 1005.74L659.7 1005.75L660.2 1005.75L660.7 1005.75L661.2 1005.76L661.7 1005.76L662.2 1005.76L662.7 1005.77L663.2 1005.77L663.7 1005.77L664.2 1005.77L664.7 1005.77L665.2 1005.77L665.7 1005.77L666.2 1005.77L666.7 1005.77L667.2 1005.76L667.7 1005.76L668.2 1005.75L668.7 1005.75L669.2 1005.74L669.7 1005.74L670.2 1005.73L670.7 1005.72L671.2 1005.71L671.7 1005.7L672.2 1005.69L672.7 1005.69L673.2 1005.68L673.7 1005.67L674.2 1005.66L674.7 1005.65L675.2 1005.64L675.7 1005.63L676.2 1005.62L676.7 1005.61L677.2 1005.6L677.7 1005.59L678.2 1005.58L678.7 1005.58L679.2 1005.57L679.7 1005.57L680.2 1005.56L680.7 1005.56L681.2 1005.56L681.7 1005.56L682.2 1005.56L682.7 1005.56L683.2 1005.56L683.7 1005.57L684.2 1005.57L684.7 1005.58L685.2 1005.59L685.7 1005.6L686.2 1005.61L686.7 1005.62L687.2 1005.63L687.7 1005.65L688.2 1005.67L688.7 1005.68L689.2 1005.7L689.7 1005.72L690.2 1005.74L690.7 1005.76L691.2 1005.78L691.7 1005.81L692.2 1005.83L692.7 1005.85L693.2 1005.88L693.7 1005.9L694.2 1005.93L694.7 1005.95L695.2 1005.97L695.7 1006L696.2 1006.02L696.7 1006.04L697.2 1006.06L697.7 1006.08L698.2 1006.1L698.7 1006.12L699.2 1006.14L699.7 1006.16L700.2 1006.17L700.7 1006.19L701.2 1006.2L701.7 1006.21L702.2 1006.22L702.7 1006.23L703.2 1006.24L703.7 1006.25L704.2 1006.25L704.7 1006.25L705.2 1006.25L705.7 1006.25L706.2 1006.25L706.7 1006.25L707.2 1006.24L707.7 1006.24L708.2 1006.23L708.7 1006.22L709.2 1006.21L709.7 1006.2L710.2 1006.19L710.7 1006.18L711.2 1006.17L711.7 1006.16L712.2 1006.14L712.7 1006.13L713.2 1006.11L713.7 1006.1L714.2 1006.08L714.7 1006.07L715.2 1006.06L715.7 1006.04L716.2 1006.03L716.7 1006.01L717.2 1006L717.7 1005.99L718.2 1005.98L718.7 1005.97L719.2 1005.95L719.7 1005.94L720.2 1005.93L720.7 1005.93L721.2 1005.92L721.7 1005.91L722.2 1005.9L722.7 1005.9L723.2 1005.89L723.7 1005.89L724.2 1005.88L724.7 1005.88L725.2 1005.88L725.7 1005.87L726.2 1005.87L726.7 1005.87L727.2 1005.87L727.7 1005.86L728.2 1005.86L728.7 1005.86L729.2 1005.86L729.7 1005.85L730.2 1005.85L730.7 1005.84L731.2 1005.84L731.7 1005.83L732.2 1005.83L732.7 1005.82L733.2 1005.81L733.7 1005.81L734.2 1005.8L734.7 1005.78L735.2 1005.77L735.7 1005.76L736.2 1005.75L736.7 1005.73L737.2 1005.71L737.7 1005.7L738.2 1005.68L738.7 1005.66L739.2 1005.64L739.7 1005.62L740.2 1005.6L740.7 1005.57L741.2 1005.55L741.7 1005.53L742.2 1005.5L742.7 1005.48L743.2 1005.46L743.7 1005.43L744.2 1005.41L744.7 1005.38L745.2 1005.36L745.7 1005.34L746.2 1005.31L746.7 1005.29L747.2 1005.27L747.7 1005.25L748.2 1005.24L748.7 1005.22L749.2 1005.21L749.7 1005.19L750.2 1005.18L750.7 1005.17L751.2 1005.17L751.7 1005.16L752.2 1005.16L752.7 1005.16L753.2 1005.16L753.7 1005.17L754.2 1005.18L754.7 1005.19L755.2 1005.2L755.7 1005.22L756.2 1005.24L756.7 1005.26L757.2 1005.28L757.7 1005.31L758.2 1005.33L758.7 1005.36L759.2 1005.4L759.7 1005.43L760.2 1005.47L760.7 1005.5L761.2 1005.54L761.7 1005.58L762.2 1005.63L762.7 1005.67L763.2 1005.71L763.7 1005.75L764.2 1005.8L764.7 1005.84L765.2 1005.89L765.7 1005.93L766.2 1005.97L766.7 1006.01L767.2 1006.05L767.7 1006.09L768.2 1006.13L768.7 1006.17L769.2 1006.2L769.7 1006.24L770.2 1006.27L770.7 1006.3L771.2 1006.3L771.7 1006.3L772.2 1006.3L772.7 1006.3L773.2 1006.3L773.7 1006.3L774.2 1006.3L774.7 1006.3L775.2 1006.3L775.7 1006.3L776.2 1006.3L776.7 1006.3L777.2 1006.3L777.7 1006.3L778.2 1006.3L778.7 1006.3L779.2 1006.3L779.7 1006.3L780.2 1006.3L780.7 1006.3L781.2 1006.27L781.7 1006.25L782.2 1006.22L782.7 1006.19L783.2 1006.15L783.7 1006.12L784.2 1006.09L784.7 1006.06L785.2 1006.02L785.7 1005.99L786.2 1005.95L786.7 1005.92L787.2 1005.89L787.7 1005.86L788.2 1005.83L788.7 1005.8L789.2 1005.77L789.7 1005.74L790.2 1005.72L790.7 1005.69L791.2 1005.67L791.7 1005.65L792.2 1005.63L792.7 1005.62L793.2 1005.6L793.7 1005.59L794.2 1005.58L794.7 1005.58L795.2 1005.57L795.7 1005.57L796.2 1005.57L796.7 1005.57L797.2 1005.58L797.7 1005.58L798.2 1005.59L798.7 1005.6L799.2 1005.61L799.7 1005.62L800.2 1005.64L800.7 1005.65L801.2 1005.67L801.7 1005.68L802.2 1005.7L802.7 1005.72L803.2 1005.74L803.7 1005.76L804.2 1005.78L804.7 1005.8L805.2 1005.81L805.7 1005.83L806.2 1005.85L806.7 1005.86L807.2 1005.88L807.7 1005.89L808.2 1005.9L808.7 1005.91L809.2 1005.91L809.7 1005.9L810.2 1005.88L810.7 1005.85L811.2 1005.81L811.7 1005.74L812.2 1005.63L812.7 1005.48L813.2 1005.28L813.7 1005.03L814.2 1004.73L814.7 1004.42L815.2 1004.15L815.7 1003.97L816.2 1003.95L816.7 1004.07L817.2 1004.31L817.7 1004.59L818.2 1004.88L818.7 1005.12L819.2 1005.31L819.7 1005.45L820.2 1005.55L820.7 1005.61L821.2 1005.65L821.7 1005.67L822.2 1005.67L822.7 1005.67L823.2 1005.66L823.7 1005.65L823.9 1011.1Z" fill="#00ff00"/>
<rect x="471.9" y="759.25" width="6.5" height="259.85" fill="#000"/>
<rect x="468.9" y="1013.3" width="351.5" height="5.8" fill="#000"/>
<text transform="translate(417.81 804.3) scale(1.11 1)" font-size="24.6" font-weight="bold" font-style="normal">0.12</text>
<rect x="468.9" y="793.5" width="4" height="5" fill="#000"/>
<text transform="translate(417.53 915.4) scale(1.11 1)" font-size="24.6" font-weight="bold" font-style="normal">0.06</text>
<rect x="468.9" y="904.6" width="4" height="5" fill="#000"/>
<text transform="translate(417.81 1024.5) scale(1.11 1)" font-size="24.6" font-weight="bold" font-style="normal">0.00</text>
<text transform="translate(443.11 1045) scale(1.05 1)" font-size="25.5" font-weight="bold" font-style="normal">-1600</text>
<rect x="471.3" y="1018.1" width="6" height="3.4" fill="#000"/>
<text transform="translate(527.91 1045) scale(1.05 1)" font-size="25.5" font-weight="bold" font-style="normal">-1200</text>
<rect x="556.1" y="1018.1" width="6" height="3.4" fill="#000"/>
<text transform="translate(619 1045) scale(1.05 1)" font-size="25.5" font-weight="bold" font-style="normal">-800</text>
<rect x="640.5" y="1018.1" width="6" height="3.4" fill="#000"/>
<text transform="translate(704.6 1045) scale(1.05 1)" font-size="25.5" font-weight="bold" font-style="normal">-400</text>
<rect x="726.1" y="1018.1" width="6" height="3.4" fill="#000"/>
<text transform="translate(807.31 1045) scale(1.05 1)" font-size="25.5" font-weight="bold" font-style="normal">0</text>
<rect x="811" y="1018.1" width="6" height="3.4" fill="#000"/>
<text transform="translate(640.21 1082)" font-size="32.5" font-weight="bold" font-style="italic">l</text>
<text transform="translate(850.99 971.6) scale(1.05 1)" font-size="21.6" font-weight="bold" font-style="normal">1</text>
<text transform="translate(839.73 995.8) scale(1.05 1)" font-size="21.6" font-weight="bold" font-style="normal">0</text>
<text transform="translate(825 1022.5) scale(1.05 1)" font-size="21.6" font-weight="bold" font-style="normal">-1</text>
<text transform="translate(420.99 743.7) scale(1.1 1)" font-size="30.4"><tspan font-weight="normal" font-style="normal" font-size="26.75">|</tspan><tspan font-weight="bold" font-style="italic" dx="0.91">a</tspan><tspan font-weight="bold" font-style="italic" font-size="18.85" dx="1.22" dy="4.26">l,</tspan><tspan font-weight="bold" font-style="italic" font-size="20.06" dx="1.82">σ</tspan><tspan font-weight="normal" font-style="normal" font-size="26.75" dx="3.04" dy="-4.26">|</tspan><tspan font-weight="normal" font-style="normal" font-size="18.24" dy="-9.12">2</tspan></text>
<text transform="translate(799.22 723.5) scale(1.07 1)" font-size="24.4"><tspan font-weight="bold" font-style="italic">t</tspan><tspan font-weight="bold" font-style="normal">=0</tspan></text>
<text transform="translate(576.72 890) scale(1.07 1)" font-size="24.4"><tspan font-weight="bold" font-style="italic">t</tspan><tspan font-weight="bold" font-style="normal">=900</tspan></text>
<text transform="translate(736.72 883) scale(1.07 1)" font-size="24.4"><tspan font-weight="bold" font-style="italic">t</tspan><tspan font-weight="bold" font-style="normal">=300</tspan></text>
<rect x="987.1" y="616.5" width="718.6" height="505.1" fill="none" stroke="#000" stroke-width="6.8"/>
<rect x="989.6" y="705.2" width="7.5" height="6.6" fill="#000"/>
<rect x="989.6" y="888.45" width="7.5" height="6.6" fill="#000"/>
<rect x="989.6" y="1071.95" width="7.5" height="6.6" fill="#000"/>
<rect x="989.6" y="797.65" width="3" height="5.2" fill="#000"/>
<rect x="989.6" y="981.4" width="3" height="5.2" fill="#000"/>
<rect x="1119.3" y="1111.9" width="6.4" height="7.3" fill="#000"/>
<rect x="1313.6" y="1111.9" width="6.4" height="7.3" fill="#000"/>
<rect x="1508" y="1111.9" width="6.4" height="7.3" fill="#000"/>
<text transform="translate(912.54 720.3) scale(1.005 1)" font-size="36.4" font-weight="bold" font-style="normal">0.12</text>
<text transform="translate(912.18 903.55) scale(1.005 1)" font-size="36.4" font-weight="bold" font-style="normal">0.06</text>
<text transform="translate(912.54 1087.05) scale(1.005 1)" font-size="36.4" font-weight="bold" font-style="normal">0.00</text>
<text transform="translate(1113.68 1160.2) scale(0.98 1)" font-size="36" font-weight="bold" font-style="normal">2</text>
<text transform="translate(1307.78 1160.2) scale(0.98 1)" font-size="36" font-weight="bold" font-style="normal">3</text>
<text transform="translate(1502.47 1160.2) scale(0.98 1)" font-size="36" font-weight="bold" font-style="normal">4</text>
<text transform="translate(1697.09 1160.2) scale(0.98 1)" font-size="36" font-weight="bold" font-style="normal">5</text>
<text transform="translate(968.08 1109.4) scale(1.352 1)" font-size="35.29" font-weight="normal" style="font-family:'Noto Serif CJK SC','Liberation Serif',serif">（</text>
<text transform="translate(1047.3 1109.4) scale(1.352 1)" font-size="35.29" font-weight="normal" style="font-family:'Noto Serif CJK SC','Liberation Serif',serif">）</text>
<text transform="translate(1019.98 1111.3)" font-size="43" font-weight="bold" font-style="normal">d</text>
<text transform="translate(1564.75 653.5) scale(1.04 1)" font-size="31.5"><tspan font-weight="bold" font-style="italic">ϕ</tspan><tspan font-weight="bold" font-style="normal" dx="3.46">=0.98π</tspan></text>
<text transform="translate(1594.61 1109.3) scale(1.1 1)" font-size="28.3"><tspan font-weight="bold" font-style="italic">g</tspan><tspan font-weight="bold" font-style="normal" dx="-0.57">=1.17</tspan></text>
<text transform="translate(1348.4 1198.5) skewX(-12) scale(1.069 1)" font-size="59" font-weight="normal" font-style="italic">μ</text>
<path d="M990 667.3h0M991.94 672.7h0M993.89 677.97h0M995.83 683.12h0M997.78 688.18h0M999.72 693.15h0M1001.66 698.06h0M1003.61 702.92h0M1005.55 707.74h0M1007.5 712.54h0M1009.44 717.33h0M1011.38 722.13h0M1013.33 726.95h0M1015.27 731.81h0M1017.22 736.72h0M1019.16 741.69h0M1021.1 746.73h0M1023.05 751.87h0M1024.99 757.11h0M1026.94 762.47h0M1028.88 767.95h0M1030.82 773.57h0M1032.77 779.35h0M1034.71 785.29h0M1036.66 791.41h0M1038.6 797.72h0M1040.54 804.23h0M1042.49 810.95h0M1044.43 817.9h0M1046.38 825.07h0M1048.32 832.5h0M1050.26 840.17h0M1052.21 848.12h0M1054.15 856.33h0M1056.1 864.84h0M1058.04 873.64h0M1059.98 882.74h0M1061.93 892.16h0M1063.87 901.9h0M1065.82 911.98h0M1068.25 927h0M1070.5 939h0M1072.5 952.75h0M1074.25 967.75h0M1076.25 984h0M1078.2 1003h0M1080 1027h0" fill="none" stroke="#000" stroke-width="4" stroke-linecap="round"/>
<path d="M1081.39 1069.04h0M1083.48 1068.7h0M1085.57 1072.7h0M1087.83 1067.48h0M1089.57 1057.39h0M1092.17 1058.61h0M1093.91 1069.04h0M1096.17 1069.57h0M1099.13 1069.91h0M1101.22 1058.26h0M1102.96 1057.39h0M1104.87 1064h0M1106.96 1072.7h0M1109.04 1069.57h0M1111.3 1069.91h0M1113.57 1068.7h0M1114.78 1056.52h0M1117.39 1056.52h0M1119.13 1068.17h0M1121.22 1067.48h0M1122.96 1066.96h0M1124.7 1060.35h0M1126.43 1056.52h0M1128.17 1052.17h0M1129.91 1051.3h0M1132.7 1067.83h0M1133.91 1047.83h0M1136 1050.43h0M1137.91 1069.04h0M1140 1054.78h0M1142.09 1046.61h0M1144.35 1058.78h0M1146.09 1069.91h0M1147.83 1057.39h0M1150.09 1048.35h0M1152.17 1054.78h0M1153.91 1058.26h0M1155.65 1070.78h0M1157.74 1054.78h0M1159.65 1048.35h0M1161.74 1061.74h0M1163.48 1060.87h0M1165.74 1058.78h0M1167.48 1056h0M1169.57 1051.3h0M1171.3 1070.78h0M1173.04 1067.48h0M1175.13 1060h0M1177.04 1058.26h0M1179.13 1053.04h0M1180.87 1071.3h0M1182.61 1068.7h0M1184.87 1067.48h0M1186.61 1059.48h0M1188.7 1056h0M1190.43 1074.43h0M1192.17 1070.96h0M1194.26 1066.09h0M1196.52 1057.39h0M1198.26 1060h0M1200.52 1069.57h0M1202.26 1070.43h0M1204.35 1063.48h0M1206.09 1056h0M1207.83 1063.48h0M1210.43 1071.65h0M1212.17 1073.39h0M1213.91 1062.26h0M1216.17 1062.96h0M1217.91 1071.3h0M1220 1072.7h0M1222.09 1064.35h0M1224.35 1064.35h0M1226.09 1074.43h0M1228.35 1062.61h0M1230.43 1064h0M1232.17 1065.22h0M1234.26 1069.91h0M1236.52 1060.87h0M1238.61 1074.43h0M1240.35 1065.74h0M1242.61 1066.09h0M1244.7 1073.04h0M1246.96 1068.7h0M1248.7 1074.43h0M1250.43 1070.43h0M1252.7 1072.17h0M1254.78 1067.83h0M1256.52 1071.3h0M1258.26 1054.78h0M1260.35 1056h0" fill="none" stroke="#000" stroke-width="4.1" stroke-linecap="round"/>
<rect x="1261" y="1073.65" width="442" height="3.2" fill="#000"/>
<circle cx="1003.25" cy="699.75" r="7.6" fill="#ff00ff"/>
<rect x="1076.5" y="664.5" width="168.75" height="145" fill="none" stroke="#000" stroke-width="3"/>
<clipPath id="c10750"><rect x="1075" y="663" width="171.75" height="148"/></clipPath>
<g clip-path="url(#c10750)">
<path d="M1076.5 672L1077.2 672.7L1077.91 673.53L1078.61 674.49L1079.31 675.58L1080.02 676.79L1080.72 678.13L1081.42 679.59L1082.13 681.17L1082.83 682.86L1083.53 684.67L1084.24 686.59L1084.94 688.61L1085.64 690.74L1086.35 692.96L1087.05 695.28L1087.75 697.68L1088.46 700.16L1089.16 702.73L1089.86 705.36L1090.57 708.05L1091.27 710.81L1091.97 713.61L1092.68 716.47L1093.38 719.36L1094.08 722.28L1094.79 725.22L1095.49 728.19L1096.19 731.16L1096.9 734.14L1097.6 737.11L1098.3 740.08L1099.01 743.02L1099.71 745.94L1100.41 748.83L1101.12 751.69L1101.82 754.49L1102.52 757.25L1103.23 759.94L1103.93 762.57L1104.63 765.14L1105.34 767.62L1106.04 770.02L1106.74 772.34L1107.45 774.56L1108.15 776.69L1108.85 778.71L1109.56 780.63L1110.26 782.44L1110.96 784.13L1111.67 785.71L1112.37 787.17L1113.07 788.51L1113.78 789.72L1114.48 790.81L1115.18 791.77L1115.89 792.6L1116.59 793.3L1117.29 792.48L1118 791.56L1118.7 790.53L1119.4 789.39L1120.11 788.15L1120.81 786.81L1121.51 785.36L1122.22 783.81L1122.92 782.17L1123.62 780.43L1124.33 778.6L1125.03 776.67L1125.73 774.66L1126.44 772.57L1127.14 770.4L1127.84 768.15L1128.55 765.83L1129.25 763.45L1129.95 761L1130.66 758.49L1131.36 755.94L1132.06 753.33L1132.77 750.68L1133.47 748L1134.17 745.28L1134.88 742.54L1135.58 739.77L1136.28 737L1136.99 734.21L1137.69 731.42L1138.39 728.63L1139.1 725.86L1139.8 723.1L1140.5 720.36L1141.21 717.64L1141.91 714.96L1142.61 712.32L1143.32 709.72L1144.02 707.17L1144.72 704.68L1145.43 702.25L1146.13 699.89L1146.83 697.6L1147.54 695.38L1148.24 693.25L1148.94 691.2L1149.65 689.25L1150.35 687.39L1151.05 685.63L1151.76 683.97L1152.46 682.42L1153.16 680.98L1153.87 679.66L1154.57 678.45L1155.27 677.36L1155.98 676.39L1156.68 675.55L1157.38 674.84L1158.09 674.25L1158.79 673.79L1159.49 673.46L1160.2 673.27L1160.9 673.2L1161.6 673.27L1162.31 673.46L1163.01 673.79L1163.71 674.25L1164.42 674.84L1165.12 675.55L1165.82 676.39L1166.53 677.36L1167.23 678.45L1167.93 679.66L1168.64 680.98L1169.34 682.42L1170.04 683.97L1170.75 685.63L1171.45 687.39L1172.15 689.25L1172.86 691.2L1173.56 693.25L1174.26 695.38L1174.97 697.6L1175.67 699.89L1176.37 702.25L1177.08 704.68L1177.78 707.17L1178.48 709.72L1179.19 712.32L1179.89 714.96L1180.59 717.64L1181.3 720.36L1182 723.1L1182.7 725.86L1183.41 728.63L1184.11 731.42L1184.81 734.21L1185.52 737L1186.22 739.77L1186.92 742.54L1187.63 745.28L1188.33 748L1189.03 750.68L1189.74 753.33L1190.44 755.94L1191.14 758.49L1191.85 761L1192.55 763.45L1193.25 765.83L1193.96 768.15L1194.66 770.4L1195.36 772.57L1196.07 774.66L1196.77 776.67L1197.47 778.6L1198.18 780.43L1198.88 782.17L1199.58 783.81L1200.29 785.36L1200.99 786.81L1201.69 788.15L1202.4 789.39L1203.1 790.53L1203.8 791.56L1204.51 792.48L1205.21 793.3L1205.91 792.6L1206.62 791.77L1207.32 790.81L1208.02 789.72L1208.73 788.51L1209.43 787.17L1210.13 785.71L1210.84 784.13L1211.54 782.44L1212.24 780.63L1212.95 778.71L1213.65 776.69L1214.35 774.56L1215.06 772.34L1215.76 770.02L1216.46 767.62L1217.17 765.14L1217.87 762.57L1218.57 759.94L1219.28 757.25L1219.98 754.49L1220.68 751.69L1221.39 748.83L1222.09 745.94L1222.79 743.02L1223.5 740.08L1224.2 737.11L1224.9 734.14L1225.61 731.16L1226.31 728.19L1227.01 725.22L1227.72 722.28L1228.42 719.36L1229.12 716.47L1229.83 713.61L1230.53 710.81L1231.23 708.05L1231.94 705.36L1232.64 702.73L1233.34 700.16L1234.05 697.68L1234.75 695.28L1235.45 692.96L1236.16 690.74L1236.86 688.61L1237.56 686.59L1238.27 684.67L1238.97 682.86L1239.67 681.17L1240.38 679.59L1241.08 678.13L1241.78 676.79L1242.49 675.58L1243.19 674.49L1243.89 673.53L1244.6 672.7L1245.3 672" fill="none" stroke="#000" stroke-width="3.3" stroke-linejoin="round" stroke-linecap="butt"/>
</g>
<text transform="translate(1044.52 700) scale(1.05 1)" font-size="21" font-weight="bold" font-style="normal">2.0</text>
<rect x="1077.5" y="693.4" width="2.1" height="2" fill="#000"/>
<text transform="translate(1044.41 747.8) scale(1.05 1)" font-size="21" font-weight="bold" font-style="normal">1.5</text>
<rect x="1077.5" y="741.2" width="2.1" height="2" fill="#000"/>
<text transform="translate(1044.52 796.1) scale(1.05 1)" font-size="21" font-weight="bold" font-style="normal">1.0</text>
<rect x="1077.5" y="789.5" width="2.1" height="2" fill="#000"/>
<rect x="1077.5" y="717.3" width="1.5" height="1.4" fill="#000"/>
<rect x="1077.5" y="765.3" width="1.5" height="1.4" fill="#000"/>
<rect x="1159.88" y="806.4" width="2" height="2.1" fill="#000"/>
<text transform="translate(1066.29 830.3) scale(1.05 1)" font-size="21" font-weight="bold" font-style="normal">-1</text>
<text transform="translate(1155.36 830.3) scale(1.05 1)" font-size="21" font-weight="bold" font-style="normal">0</text>
<text transform="translate(1239.81 830.3) scale(1.05 1)" font-size="21" font-weight="bold" font-style="normal">1</text>
<text transform="translate(1143.39 859.5) scale(1.06 1)" font-size="29.6"><tspan font-weight="bold" font-style="italic">p</tspan><tspan font-weight="bold" font-style="normal">/π</tspan></text>
<text transform="translate(1054.15 672.5) scale(1.07 1)" font-size="28" font-weight="bold" font-style="italic">H</text>
<circle cx="1188.75" cy="739" r="7.6" fill="#ff00ff"/>
<line x1="1319.8" y1="977" x2="1343.9" y2="919.8" stroke="#555" stroke-width="0.8"/>
<line x1="1653.3" y1="984" x2="1681.5" y2="919.8" stroke="#555" stroke-width="0.8"/>
<path d="M1343.9 921.9L1343.9 916.95L1344.4 916.96L1344.9 916.97L1345.4 916.97L1345.9 916.99L1346.4 917L1346.9 917.01L1347.4 917.03L1347.9 917.04L1348.4 917.04L1348.9 917.05L1349.4 917.06L1349.9 917.06L1350.4 917.05L1350.9 917.03L1351.4 916.99L1351.9 916.91L1352.4 916.79L1352.9 916.58L1353.4 916.25L1353.9 915.73L1354.4 902.07L1354.9 882.73L1355.4 862.68L1355.9 841.35L1356.4 825.39L1356.9 824.48L1357.4 823.96L1357.9 823.62L1358.4 823.39L1358.9 823.26L1359.4 823.2L1359.9 823.22L1360.4 823.32L1360.9 823.5L1361.4 823.77L1361.9 824.17L1362.4 824.76L1362.9 825.89L1363.4 845.98L1363.9 866.98L1364.4 886.9L1364.9 906.16L1365.4 916.15L1365.9 916.66L1366.4 916.98L1366.9 917.19L1367.4 917.32L1367.9 917.41L1368.4 917.46L1368.9 917.5L1369.4 917.52L1369.9 917.53L1370.4 917.53L1370.9 917.53L1371.4 917.53L1371.9 917.51L1372.4 917.5L1372.9 917.48L1373.4 917.45L1373.9 917.43L1374.4 917.4L1374.9 917.38L1375.4 917.35L1375.9 917.32L1376.4 917.29L1376.9 917.26L1377.4 917.24L1377.9 917.21L1378.4 917.18L1378.9 917.16L1379.4 917.14L1379.9 917.12L1380.4 917.11L1380.9 917.09L1381.4 917.09L1381.9 917.08L1382.4 917.07L1382.9 917.07L1383.4 917.07L1383.9 917.07L1384.4 917.06L1384.9 917.05L1385.4 917.01L1385.9 916.95L1386.4 916.84L1386.9 916.66L1387.4 916.35L1387.9 915.85L1388.4 899.28L1388.9 876.21L1389.4 852.28L1389.9 826.84L1390.4 808.02L1390.9 807.13L1391.4 806.63L1391.9 806.29L1392.4 806.07L1392.9 805.94L1393.4 805.88L1393.9 805.89L1394.4 805.97L1394.9 806.12L1395.4 806.37L1395.9 806.73L1396.4 807.28L1396.9 808.36L1397.4 832.14L1397.9 857.17L1398.4 880.88L1398.9 903.82L1399.4 915.95L1399.9 916.39L1400.4 916.65L1400.9 916.8L1401.4 916.88L1401.9 916.91L1402.4 916.91L1402.9 916.9L1403.4 916.88L1403.9 916.85L1404.4 916.82L1404.9 916.8L1405.4 916.78L1405.9 916.76L1406.4 916.75L1406.9 916.74L1407.4 916.73L1407.9 916.74L1408.4 916.75L1408.9 916.76L1409.4 916.78L1409.9 916.81L1410.4 916.84L1410.9 916.87L1411.4 916.91L1411.9 916.95L1412.4 917L1412.9 917.05L1413.4 917.1L1413.9 917.15L1414.4 917.2L1414.9 917.26L1415.4 917.3L1415.9 917.35L1416.4 917.39L1416.9 917.43L1417.4 917.46L1417.9 917.48L1418.4 917.48L1418.9 917.45L1419.4 917.39L1419.9 917.26L1420.4 917.05L1420.9 916.68L1421.4 916.1L1421.9 892.42L1422.4 866.44L1422.9 839.42L1423.4 810.38L1423.9 795.3L1424.4 794.51L1424.9 794.03L1425.4 793.69L1425.9 793.45L1426.4 793.3L1426.9 793.23L1427.4 793.23L1427.9 793.3L1428.4 793.46L1428.9 793.71L1429.4 794.1L1429.9 794.71L1430.4 796.46L1430.9 827.91L1431.4 855.51L1431.9 881.82L1432.4 907.34L1432.9 916.14L1433.4 916.57L1433.9 916.84L1434.4 917L1434.9 917.1L1435.4 917.16L1435.9 917.19L1436.4 917.21L1436.9 917.21L1437.4 917.21L1437.9 917.21L1438.4 917.2L1438.9 917.19L1439.4 917.18L1439.9 917.17L1440.4 917.15L1440.9 917.14L1441.4 917.13L1441.9 917.11L1442.4 917.1L1442.9 917.09L1443.4 917.07L1443.9 917.06L1444.4 917.05L1444.9 917.04L1445.4 917.03L1445.9 917.02L1446.4 917.01L1446.9 917.01L1447.4 917L1447.9 917L1448.4 917L1448.9 917L1449.4 917.01L1449.9 917.01L1450.4 917.02L1450.9 917.02L1451.4 917.03L1451.9 917.03L1452.4 917.02L1452.9 917.01L1453.4 916.97L1453.9 916.9L1454.4 916.78L1454.9 916.57L1455.4 916.22L1455.9 915.66L1456.4 894.66L1456.9 871.44L1457.4 847.28L1457.9 821.31L1458.4 807.69L1458.9 806.91L1459.4 806.45L1459.9 806.13L1460.4 805.93L1460.9 805.81L1461.4 805.76L1461.9 805.78L1462.4 805.88L1462.9 806.05L1463.4 806.32L1463.9 806.72L1464.4 807.34L1464.9 809.09L1465.4 837.23L1465.9 861.94L1466.4 885.48L1466.9 908.31L1467.4 916.06L1467.9 916.48L1468.4 916.73L1468.9 916.89L1469.4 916.98L1469.9 917.03L1470.4 917.06L1470.9 917.07L1471.4 917.07L1471.9 917.08L1472.4 917.08L1472.9 917.08L1473.4 917.09L1473.9 917.09L1474.4 917.1L1474.9 917.12L1475.4 917.13L1475.9 917.16L1476.4 917.18L1476.9 917.21L1477.4 917.24L1477.9 917.27L1478.4 917.31L1478.9 917.34L1479.4 917.38L1479.9 917.42L1480.4 917.46L1480.9 917.49L1481.4 917.53L1481.9 917.56L1482.4 917.59L1482.9 917.62L1483.4 917.63L1483.9 917.64L1484.4 917.65L1484.9 917.65L1485.4 917.64L1485.9 917.6L1486.4 917.55L1486.9 917.46L1487.4 917.32L1487.9 917.11L1488.4 916.78L1488.9 916.26L1489.4 904.84L1489.9 883.17L1490.4 860.76L1490.9 837.11L1491.4 814.6L1491.9 813.45L1492.4 812.83L1492.9 812.41L1493.4 812.11L1493.9 811.9L1494.4 811.78L1494.9 811.74L1495.4 811.77L1495.9 811.89L1496.4 812.09L1496.9 812.42L1497.4 812.93L1497.9 813.83L1498.4 831.64L1498.9 855.62L1499.4 878.18L1499.9 899.94L1500.4 915.49L1500.9 916.04L1501.4 916.39L1501.9 916.61L1502.4 916.77L1502.9 916.87L1503.4 916.95L1503.9 917L1504.4 917.05L1504.9 917.09L1505.4 917.12L1505.9 917.15L1506.4 917.18L1506.9 917.2L1507.4 917.22L1507.9 917.24L1508.4 917.25L1508.9 917.26L1509.4 917.27L1509.9 917.28L1510.4 917.28L1510.9 917.29L1511.4 917.29L1511.9 917.28L1512.4 917.28L1512.9 917.27L1513.4 917.26L1513.9 917.25L1514.4 917.24L1514.9 917.23L1515.4 917.21L1515.9 917.2L1516.4 917.19L1516.9 917.18L1517.4 917.16L1517.9 917.15L1518.4 917.13L1518.9 917.12L1519.4 917.09L1519.9 917.07L1520.4 917.02L1520.9 916.96L1521.4 916.85L1521.9 916.68L1522.4 916.41L1522.9 915.98L1523.4 909.47L1523.9 889.81L1524.4 869.52L1524.9 848.24L1525.4 824.01L1525.9 822.26L1526.4 821.65L1526.9 821.27L1527.4 821.01L1527.9 820.86L1528.4 820.78L1528.9 820.79L1529.4 820.86L1529.9 821.01L1530.4 821.24L1530.9 821.59L1531.4 822.08L1531.9 822.89L1532.4 834.84L1532.9 857.24L1533.4 878.07L1533.9 898.1L1534.4 916L1534.9 916.57L1535.4 916.94L1535.9 917.16L1536.4 917.3L1536.9 917.38L1537.4 917.43L1537.9 917.45L1538.4 917.46L1538.9 917.45L1539.4 917.44L1539.9 917.43L1540.4 917.42L1540.9 917.4L1541.4 917.39L1541.9 917.37L1542.4 917.35L1542.9 917.34L1543.4 917.32L1543.9 917.31L1544.4 917.29L1544.9 917.28L1545.4 917.27L1545.9 917.26L1546.4 917.25L1546.9 917.24L1547.4 917.23L1547.9 917.22L1548.4 917.21L1548.9 917.2L1549.4 917.19L1549.9 917.17L1550.4 917.16L1550.9 917.15L1551.4 917.14L1551.9 917.11L1552.4 917.09L1552.9 917.07L1553.4 917.04L1553.9 917L1554.4 916.96L1554.9 916.89L1555.4 916.79L1555.9 916.65L1556.4 916.44L1556.9 916.11L1557.4 915.61L1557.9 902.79L1558.4 878.75L1558.9 853.89L1559.4 827.66L1559.9 802.78L1560.4 801.67L1560.9 801.1L1561.4 800.73L1561.9 800.48L1562.4 800.33L1562.9 800.26L1563.4 800.28L1563.9 800.37L1564.4 800.55L1564.9 800.81L1565.4 801.2L1565.9 801.77L1566.4 802.72L1566.9 822.43L1567.4 849.13L1567.9 874.24L1568.4 898.46L1568.9 915.94L1569.4 916.52L1569.9 916.9L1570.4 917.16L1570.9 917.34L1571.4 917.47L1571.9 917.56L1572.4 917.62L1572.9 917.66L1573.4 917.68L1573.9 917.68L1574.4 917.69L1574.9 917.7L1575.4 917.7L1575.9 917.7L1576.4 917.7L1576.9 917.7L1577.4 917.7L1577.9 917.67L1578.4 917.64L1578.9 917.6L1579.4 917.56L1579.9 917.51L1580.4 917.46L1580.9 917.41L1581.4 917.36L1581.9 917.31L1582.4 917.26L1582.9 917.21L1583.4 917.16L1583.9 917.11L1584.4 917.06L1584.9 917.02L1585.4 916.99L1585.9 916.96L1586.4 916.92L1586.9 916.89L1587.4 916.87L1587.9 916.85L1588.4 916.83L1588.9 916.8L1589.4 916.76L1589.9 916.7L1590.4 916.6L1590.9 916.43L1591.4 916.15L1591.9 915.7L1592.4 902.44L1592.9 877.6L1593.4 851.92L1593.9 824.83L1594.4 799.16L1594.9 798.1L1595.4 797.58L1595.9 797.25L1596.4 797.05L1596.9 796.93L1597.4 796.89L1597.9 796.93L1598.4 797.03L1598.9 797.21L1599.4 797.46L1599.9 797.81L1600.4 798.33L1600.9 799.25L1601.4 819.57L1601.9 847.16L1602.4 873.11L1602.9 898.14L1603.4 916.24L1603.9 916.77L1604.4 917.08L1604.9 917.26L1605.4 917.36L1605.9 917.4L1606.4 917.4L1606.9 917.39L1607.4 917.36L1607.9 917.32L1608.4 917.27L1608.9 917.22L1609.4 917.18L1609.9 917.12L1610.4 917.07L1610.9 917.02L1611.4 916.97L1611.9 916.92L1612.4 916.88L1612.9 916.84L1613.4 916.81L1613.9 916.78L1614.4 916.75L1614.9 916.73L1615.4 916.71L1615.9 916.7L1616.4 916.69L1616.9 916.69L1617.4 916.69L1617.9 916.69L1618.4 916.7L1618.9 916.71L1619.4 916.73L1619.9 916.75L1620.4 916.77L1620.9 916.79L1621.4 916.82L1621.9 916.84L1622.4 916.86L1622.9 916.88L1623.4 916.89L1623.9 916.89L1624.4 916.86L1624.9 916.81L1625.4 916.69L1625.9 916.49L1626.4 916.15L1626.9 915.6L1627.4 886.53L1627.9 855.02L1628.4 822.24L1628.9 786.99L1629.4 768.99L1629.9 768.2L1630.4 767.7L1630.9 767.35L1631.4 767.09L1631.9 766.87L1632.4 766.7L1632.9 766.59L1633.4 766.53L1633.9 766.52L1634.4 766.59L1634.9 766.76L1635.4 767.13L1635.9 768.62L1636.4 806.52L1636.9 839.75L1637.4 871.42L1637.9 902.14L1638.4 912.87L1638.9 913.11L1639.4 913.27L1639.9 913.39L1640.4 913.53L1640.9 913.7L1641.4 913.92L1641.9 914.18L1642.4 914.46L1642.9 914.73L1643.4 914.99L1643.9 915.23L1644.4 915.47L1644.9 915.67L1645.4 915.85L1645.9 916L1646.4 916.12L1646.9 916.22L1647.4 916.29L1647.9 916.35L1648.4 916.38L1648.9 916.41L1649.4 916.42L1649.9 916.43L1650.4 916.43L1650.9 916.42L1651.4 916.42L1651.9 916.42L1652.4 916.41L1652.9 916.42L1653.4 916.42L1653.9 916.44L1654.4 916.46L1654.9 916.48L1655.4 916.51L1655.9 916.55L1656.4 916.59L1656.9 916.65L1657.4 916.7L1657.9 916.76L1658.4 916.83L1658.9 916.89L1659.4 916.96L1659.9 917.03L1660.4 917.1L1660.9 917.16L1661.4 917.21L1661.9 917.25L1662.4 917.25L1662.9 917.21L1663.4 917.1L1663.9 916.88L1664.4 916.48L1664.9 880.15L1665.4 781.65L1665.9 712.02L1666.4 711.07L1666.9 710.52L1667.4 710.14L1667.9 709.88L1668.4 709.71L1668.9 709.62L1669.4 709.6L1669.9 709.65L1670.4 709.77L1670.9 709.98L1671.4 710.28L1671.9 710.69L1672.4 711.29L1672.9 713.06L1673.4 821.89L1673.9 915.82L1674.4 916.33L1674.9 916.63L1675.4 916.8L1675.9 916.88L1676.4 916.91L1676.9 916.9L1677.4 916.88L1677.9 916.85L1678.4 916.81L1678.9 916.78L1679.4 916.75L1679.9 916.72L1680.4 916.7L1680.9 916.68L1681.4 916.67L1681.5 921.9Z" fill="#000"/>
<path d="M1339.7 949.8L1339.7 945.27L1340.2 945.26L1340.7 945.25L1341.2 945.21L1341.7 945.13L1342.2 945.01L1342.7 944.81L1343.2 944.48L1343.7 942.04L1344.2 938.89L1344.7 937.18L1345.2 935.61L1345.7 934.97L1346.2 934.58L1346.7 934.32L1347.2 934.17L1347.7 934.11L1348.2 934.13L1348.7 934.24L1349.2 934.46L1349.7 934.82L1350.2 935.43L1350.7 936.96L1351.2 938.65L1351.7 941.78L1352.2 944.2L1352.7 944.51L1353.2 944.71L1353.7 944.83L1354.2 944.9L1354.7 944.94L1355.2 944.97L1355.7 944.99L1356.2 945L1356.7 945.01L1357.2 945.02L1357.7 945.02L1358.2 945.04L1358.7 945.04L1359.2 945.05L1359.7 945.06L1360.2 945.08L1360.7 945.09L1361.2 945.1L1361.7 945.11L1362.2 945.12L1362.7 945.13L1363.2 945.15L1363.7 945.15L1364.2 945.16L1364.7 945.17L1365.2 945.18L1365.7 945.18L1366.2 945.18L1366.7 945.18L1367.2 945.19L1367.7 945.18L1368.2 945.18L1368.7 945.18L1369.2 945.18L1369.7 945.17L1370.2 945.17L1370.7 945.16L1371.2 945.16L1371.7 945.15L1372.2 945.15L1372.7 945.14L1373.2 945.13L1373.7 945.12L1374.2 945.1L1374.7 945.06L1375.2 945.01L1375.7 944.92L1376.2 944.77L1376.7 944.54L1377.2 944.25L1377.7 940.92L1378.2 938.54L1378.7 936.97L1379.2 935.99L1379.7 935.51L1380.2 935.22L1380.7 935.06L1381.2 934.99L1381.7 935.01L1382.2 935.12L1382.7 935.33L1383.2 935.65L1383.7 936.11L1384.2 936.94L1384.7 938.52L1385.2 940.67L1385.7 943.99L1386.2 944.84L1386.7 945.12L1387.2 945.29L1387.7 945.41L1388.2 945.48L1388.7 945.52L1389.2 945.55L1389.7 945.57L1390.2 945.58L1390.7 945.59L1391.2 945.59L1391.7 945.57L1392.2 945.54L1392.7 945.51L1393.2 945.47L1393.7 945.43L1394.2 945.39L1394.7 945.35L1395.2 945.31L1395.7 945.26L1396.2 945.22L1396.7 945.19L1397.2 945.15L1397.7 945.11L1398.2 945.08L1398.7 945.05L1399.2 945.02L1399.7 945L1400.2 944.98L1400.7 944.96L1401.2 944.95L1401.7 944.94L1402.2 944.94L1402.7 944.94L1403.2 944.94L1403.7 944.94L1404.2 944.95L1404.7 944.96L1405.2 944.97L1405.7 944.98L1406.2 944.99L1406.7 945L1407.2 945.01L1407.7 945.01L1408.2 945L1408.7 944.97L1409.2 944.92L1409.7 944.81L1410.2 944.64L1410.7 944.35L1411.2 942.85L1411.7 939.76L1412.2 937.9L1412.7 936.36L1413.2 935.66L1413.7 935.25L1414.2 934.99L1414.7 934.84L1415.2 934.79L1415.7 934.81L1416.2 934.93L1416.7 935.14L1417.2 935.49L1417.7 936.05L1418.2 937.67L1418.7 938.88L1419.2 941.52L1419.7 944.25L1420.2 944.61L1420.7 944.83L1421.2 944.97L1421.7 945.05L1422.2 945.1L1422.7 945.13L1423.2 945.15L1423.7 945.16L1424.2 945.16L1424.7 945.17L1425.2 945.17L1425.7 945.17L1426.2 945.17L1426.7 945.17L1427.2 945.17L1427.7 945.17L1428.2 945.17L1428.7 945.17L1429.2 945.17L1429.7 945.17L1430.2 945.18L1430.7 945.18L1431.2 945.18L1431.7 945.19L1432.2 945.19L1432.7 945.2L1433.2 945.2L1433.7 945.21L1434.2 945.21L1434.7 945.22L1435.2 945.22L1435.7 945.23L1436.2 945.23L1436.7 945.24L1437.2 945.24L1437.7 945.25L1438.2 945.25L1438.7 945.25L1439.2 945.25L1439.7 945.25L1440.2 945.25L1440.7 945.25L1441.2 945.24L1441.7 945.22L1442.2 945.18L1442.7 945.12L1443.2 945.02L1443.7 944.87L1444.2 944.62L1444.7 944.32L1445.2 940.97L1445.7 938.57L1446.2 936.98L1446.7 935.98L1447.2 935.47L1447.7 935.16L1448.2 934.97L1448.7 934.88L1449.2 934.87L1449.7 934.95L1450.2 935.13L1450.7 935.42L1451.2 935.88L1451.7 936.71L1452.2 938.28L1452.7 940.43L1453.2 943.74L1453.7 944.59L1454.2 944.86L1454.7 945.03L1455.2 945.14L1455.7 945.2L1456.2 945.24L1456.7 945.26L1457.2 945.26L1457.7 945.26L1458.2 945.26L1458.7 945.25L1459.2 945.25L1459.7 945.24L1460.2 945.23L1460.7 945.22L1461.2 945.2L1461.7 945.19L1462.2 945.18L1462.7 945.17L1463.2 945.16L1463.7 945.15L1464.2 945.14L1464.7 945.14L1465.2 945.13L1465.7 945.12L1466.2 945.11L1466.7 945.11L1467.2 945.11L1467.7 945.1L1468.2 945.1L1468.7 945.1L1469.2 945.1L1469.7 945.1L1470.2 945.1L1470.7 945.1L1471.2 945.1L1471.7 945.11L1472.2 945.11L1472.7 945.11L1473.2 945.12L1473.7 945.12L1474.2 945.12L1474.7 945.12L1475.2 945.11L1475.7 945.1L1476.2 945.07L1476.7 945.02L1477.2 944.93L1477.7 944.78L1478.2 944.54L1478.7 944.2L1479.2 939.71L1479.7 936.66L1480.2 934.85L1480.7 933.86L1481.2 933.37L1481.7 933.07L1482.2 932.89L1482.7 932.81L1483.2 932.82L1483.7 932.92L1484.2 933.11L1484.7 933.42L1485.2 933.9L1485.7 934.74L1486.2 936.48L1486.7 939.23L1487.2 943.48L1487.7 944.79L1488.2 945.08L1488.7 945.26L1489.2 945.38L1489.7 945.45L1490.2 945.49L1490.7 945.52L1491.2 945.54L1491.7 945.54L1492.2 945.54L1492.7 945.53L1493.2 945.52L1493.7 945.51L1494.2 945.5L1494.7 945.48L1495.2 945.46L1495.7 945.43L1496.2 945.41L1496.7 945.38L1497.2 945.36L1497.7 945.33L1498.2 945.3L1498.7 945.28L1499.2 945.25L1499.7 945.22L1500.2 945.19L1500.7 945.17L1501.2 945.14L1501.7 945.12L1502.2 945.09L1502.7 945.07L1503.2 945.05L1503.7 945.03L1504.2 945.02L1504.7 945L1505.2 944.99L1505.7 944.98L1506.2 944.97L1506.7 944.96L1507.2 944.96L1507.7 944.95L1508.2 944.94L1508.7 944.94L1509.2 944.92L1509.7 944.9L1510.2 944.87L1510.7 944.81L1511.2 944.72L1511.7 944.57L1512.2 944.33L1512.7 944.04L1513.2 939.78L1513.7 936.88L1514.2 935.12L1514.7 934.12L1515.2 933.63L1515.7 933.32L1516.2 933.14L1516.7 933.06L1517.2 933.06L1517.7 933.15L1518.2 933.33L1518.7 933.63L1519.2 934.1L1519.7 934.94L1520.2 936.64L1520.7 939.24L1521.2 943.27L1521.7 944.46L1522.2 944.75L1522.7 944.93L1523.2 945.04L1523.7 945.12L1524.2 945.16L1524.7 945.2L1525.2 945.21L1525.7 945.23L1526.2 945.24L1526.7 945.24L1527.2 945.24L1527.7 945.25L1528.2 945.25L1528.7 945.25L1529.2 945.25L1529.7 945.24L1530.2 945.24L1530.7 945.24L1531.2 945.24L1531.7 945.24L1532.2 945.23L1532.7 945.23L1533.2 945.23L1533.7 945.23L1534.2 945.22L1534.7 945.22L1535.2 945.22L1535.7 945.22L1536.2 945.22L1536.7 945.22L1537.2 945.22L1537.7 945.22L1538.2 945.22L1538.7 945.22L1539.2 945.22L1539.7 945.22L1540.2 945.23L1540.7 945.23L1541.2 945.23L1541.7 945.23L1542.2 945.24L1542.7 945.24L1543.2 945.23L1543.7 945.22L1544.2 945.2L1544.7 945.15L1545.2 945.07L1545.7 944.94L1546.2 944.73L1546.7 944.38L1547.2 940.43L1547.7 936.93L1548.2 935.33L1548.7 933.72L1549.2 933.18L1549.7 932.84L1550.2 932.64L1550.7 932.54L1551.2 932.53L1551.7 932.6L1552.2 932.76L1552.7 933.04L1553.2 933.46L1553.7 934.18L1554.2 935.82L1554.7 938.3L1555.2 942.42L1555.7 944.72L1556.2 945.01L1556.7 945.19L1557.2 945.3L1557.7 945.36L1558.2 945.39L1558.7 945.4L1559.2 945.4L1559.7 945.39L1560.2 945.37L1560.7 945.35L1561.2 945.32L1561.7 945.3L1562.2 945.27L1562.7 945.24L1563.2 945.21L1563.7 945.18L1564.2 945.16L1564.7 945.13L1565.2 945.11L1565.7 945.09L1566.2 945.07L1566.7 945.05L1567.2 945.04L1567.7 945.03L1568.2 945.02L1568.7 945.01L1569.2 945.01L1569.7 945L1570.2 945.01L1570.7 945.01L1571.2 945.01L1571.7 945.02L1572.2 945.03L1572.7 945.04L1573.2 945.05L1573.7 945.06L1574.2 945.08L1574.7 945.09L1575.2 945.1L1575.7 945.11L1576.2 945.12L1576.7 945.12L1577.2 945.12L1577.7 945.12L1578.2 945.1L1578.7 945.07L1579.2 945.01L1579.7 944.92L1580.2 944.76L1580.7 944.51L1581.2 944.16L1581.7 939.65L1582.2 936.58L1582.7 934.76L1583.2 933.75L1583.7 933.24L1584.2 932.92L1584.7 932.72L1585.2 932.63L1585.7 932.62L1586.2 932.7L1586.7 932.88L1587.2 933.17L1587.7 933.64L1588.2 934.48L1588.7 936.21L1589.2 938.95L1589.7 943.21L1590.2 944.51L1590.7 944.81L1591.2 945L1591.7 945.13L1592.2 945.22L1592.7 945.28L1593.2 945.33L1593.7 945.36L1594.2 945.39L1594.7 945.42L1595.2 945.44L1595.7 945.46L1596.2 945.48L1596.7 945.49L1597.2 945.5L1597.7 945.5L1598.2 945.51L1598.7 945.51L1599.2 945.51L1599.7 945.5L1600.2 945.49L1600.7 945.48L1601.2 945.46L1601.7 945.44L1602.2 945.42L1602.7 945.4L1603.2 945.37L1603.7 945.34L1604.2 945.3L1604.7 945.27L1605.2 945.23L1605.7 945.2L1606.2 945.16L1606.7 945.12L1607.2 945.09L1607.7 945.05L1608.2 945.02L1608.7 944.99L1609.2 944.96L1609.7 944.94L1610.2 944.92L1610.7 944.9L1611.2 944.88L1611.7 944.86L1612.2 944.85L1612.7 944.84L1613.2 944.82L1613.7 944.79L1614.2 944.75L1614.7 944.68L1615.2 944.57L1615.7 944.38L1616.2 944.07L1616.7 939.89L1617.2 935.1L1617.7 932.51L1618.2 930.93L1618.7 930.33L1619.2 929.98L1619.7 929.77L1620.2 929.66L1620.7 929.63L1621.2 929.69L1621.7 929.83L1622.2 930.08L1622.7 930.45L1623.2 931.07L1623.7 932.65L1624.2 935.23L1624.7 939.99L1625.2 944.14L1625.7 944.39L1626.2 944.5L1626.7 944.52L1627.2 944.47L1627.7 944.36L1628.2 944.22L1628.7 944.05L1629.2 943.85L1629.7 943.65L1630.2 943.44L1630.7 943.23L1631.2 943.05L1631.7 942.89L1632.2 942.76L1632.7 942.69L1633.2 942.66L1633.7 942.69L1634.2 942.76L1634.7 942.88L1635.2 943.03L1635.7 943.2L1636.2 943.39L1636.7 943.58L1637.2 943.77L1637.7 943.95L1638.2 944.13L1638.7 944.28L1639.2 944.43L1639.7 944.56L1640.2 944.68L1640.7 944.78L1641.2 944.88L1641.7 944.96L1642.2 945.04L1642.7 945.11L1643.2 945.17L1643.7 945.22L1644.2 945.27L1644.7 945.31L1645.2 945.35L1645.7 945.38L1646.2 945.41L1646.7 945.43L1647.2 945.44L1647.7 945.45L1648.2 945.46L1648.7 945.46L1649.2 945.45L1649.7 945.43L1650.2 945.4L1650.7 945.35L1651.2 945.26L1651.7 945.13L1652.2 944.93L1652.7 944.62L1653.2 911.44L1653.7 868.96L1654.2 849.42L1654.7 847.66L1655.2 847.03L1655.7 846.62L1656.2 846.35L1656.7 846.17L1657.2 846.08L1657.7 846.07L1658.2 846.13L1658.7 846.28L1659.2 846.53L1659.7 846.89L1660.2 847.46L1660.7 848.55L1661.2 862.82L1661.7 901.37L1662.2 944.45L1662.7 944.79L1663.2 945L1663.7 945.13L1664.2 945.22L1664.7 945.27L1665.2 945.3L1665.7 945.32L1666.2 945.32L1666.7 945.32L1667.2 945.32L1667.7 945.3L1668.2 945.29L1668.7 945.27L1669.2 945.25L1669.7 945.23L1669.8 949.8Z" fill="#ff0000"/>
<path d="M1319.8 977.25L1319.8 972.98L1320.3 972.97L1320.8 972.95L1321.3 972.94L1321.8 972.92L1322.3 972.91L1322.8 972.9L1323.3 972.89L1323.8 972.88L1324.3 972.87L1324.8 972.86L1325.3 972.85L1325.8 972.84L1326.3 972.83L1326.8 972.81L1327.3 972.79L1327.8 972.77L1328.3 972.73L1328.8 972.66L1329.3 972.57L1329.8 972.41L1330.3 972.17L1330.8 971.8L1331.3 970.3L1331.8 957.73L1332.3 945.55L1332.8 935.71L1333.3 934.63L1333.8 934.08L1334.3 933.72L1334.8 933.49L1335.3 933.36L1335.8 933.31L1336.3 933.33L1336.8 933.43L1337.3 933.62L1337.8 933.91L1338.3 934.33L1338.8 934.97L1339.3 936.74L1339.8 948.2L1340.3 960.5L1340.8 971.65L1341.3 972.22L1341.8 972.59L1342.3 972.83L1342.8 972.98L1343.3 973.08L1343.8 973.15L1344.3 973.2L1344.8 973.23L1345.3 973.25L1345.8 973.26L1346.3 973.27L1346.8 973.27L1347.3 973.27L1347.8 973.26L1348.3 973.24L1348.8 973.23L1349.3 973.21L1349.8 973.18L1350.3 973.16L1350.8 973.13L1351.3 973.1L1351.8 973.07L1352.3 973.04L1352.8 973L1353.3 972.97L1353.8 972.93L1354.3 972.9L1354.8 972.86L1355.3 972.83L1355.8 972.79L1356.3 972.76L1356.8 972.73L1357.3 972.7L1357.8 972.68L1358.3 972.65L1358.8 972.63L1359.3 972.61L1359.8 972.59L1360.3 972.58L1360.8 972.56L1361.3 972.54L1361.8 972.51L1362.3 972.47L1362.8 972.4L1363.3 972.29L1363.8 972.11L1364.3 971.82L1364.8 971.35L1365.3 966.53L1365.8 958.96L1366.3 951.77L1366.8 948.94L1367.3 948.3L1367.8 947.91L1368.3 947.66L1368.8 947.52L1369.3 947.47L1369.8 947.49L1370.3 947.59L1370.8 947.77L1371.3 948.03L1371.8 948.41L1372.3 948.96L1372.8 949.87L1373.3 955.11L1373.8 962.53L1374.3 970.22L1374.8 972.21L1375.3 972.63L1375.8 972.89L1376.3 973.06L1376.8 973.16L1377.3 973.23L1377.8 973.28L1378.3 973.3L1378.8 973.32L1379.3 973.33L1379.8 973.34L1380.3 973.32L1380.8 973.29L1381.3 973.25L1381.8 973.2L1382.3 973.16L1382.8 973.11L1383.3 973.06L1383.8 973.01L1384.3 972.96L1384.8 972.91L1385.3 972.87L1385.8 972.82L1386.3 972.78L1386.8 972.73L1387.3 972.69L1387.8 972.66L1388.3 972.62L1388.8 972.6L1389.3 972.57L1389.8 972.55L1390.3 972.54L1390.8 972.53L1391.3 972.52L1391.8 972.52L1392.3 972.52L1392.8 972.52L1393.3 972.53L1393.8 972.54L1394.3 972.54L1394.8 972.55L1395.3 972.54L1395.8 972.51L1396.3 972.45L1396.8 972.34L1397.3 972.14L1397.8 971.8L1398.3 971.39L1398.8 966.67L1399.3 961.67L1399.8 957.17L1400.3 956.12L1400.8 955.6L1401.3 955.28L1401.8 955.07L1402.3 954.95L1402.8 954.92L1403.3 954.96L1403.8 955.07L1404.3 955.26L1404.8 955.53L1405.3 955.93L1405.8 956.55L1406.3 958.3L1406.8 963.03L1407.3 968.12L1407.8 971.85L1408.3 972.4L1408.8 972.74L1409.3 972.94L1409.8 973.06L1410.3 973.12L1410.8 973.15L1411.3 973.16L1411.8 973.15L1412.3 973.13L1412.8 973.11L1413.3 973.08L1413.8 973.05L1414.3 973.02L1414.8 972.99L1415.3 972.96L1415.8 972.93L1416.3 972.9L1416.8 972.88L1417.3 972.86L1417.8 972.84L1418.3 972.82L1418.8 972.81L1419.3 972.8L1419.8 972.79L1420.3 972.79L1420.8 972.79L1421.3 972.79L1421.8 972.8L1422.3 972.81L1422.8 972.82L1423.3 972.83L1423.8 972.85L1424.3 972.86L1424.8 972.88L1425.3 972.89L1425.8 972.91L1426.3 972.92L1426.8 972.94L1427.3 972.95L1427.8 972.95L1428.3 972.95L1428.8 972.94L1429.3 972.92L1429.8 972.87L1430.3 972.79L1430.8 972.65L1431.3 972.43L1431.8 972.09L1432.3 971.54L1432.8 964.19L1433.3 955.59L1433.8 947.58L1434.3 945.82L1434.8 945.19L1435.3 944.79L1435.8 944.51L1436.3 944.33L1436.8 944.24L1437.3 944.22L1437.8 944.28L1438.3 944.43L1438.8 944.67L1439.3 945.03L1439.8 945.59L1440.3 946.68L1440.8 953.82L1441.3 962.36L1441.8 971.17L1442.3 971.92L1442.8 972.31L1443.3 972.56L1443.8 972.73L1444.3 972.84L1444.8 972.92L1445.3 972.98L1445.8 973.02L1446.3 973.05L1446.8 973.08L1447.3 973.11L1447.8 973.13L1448.3 973.15L1448.8 973.16L1449.3 973.18L1449.8 973.19L1450.3 973.2L1450.8 973.2L1451.3 973.2L1451.8 973.2L1452.3 973.2L1452.8 973.19L1453.3 973.18L1453.8 973.16L1454.3 973.14L1454.8 973.12L1455.3 973.1L1455.8 973.07L1456.3 973.04L1456.8 973.01L1457.3 972.98L1457.8 972.95L1458.3 972.92L1458.8 972.88L1459.3 972.85L1459.8 972.82L1460.3 972.78L1460.8 972.75L1461.3 972.72L1461.8 972.69L1462.3 972.66L1462.8 972.61L1463.3 972.56L1463.8 972.49L1464.3 972.38L1464.8 972.22L1465.3 971.97L1465.8 971.56L1466.3 967.17L1466.8 953.51L1467.3 940.33L1467.8 931.93L1468.3 931.06L1468.8 930.59L1469.3 930.29L1469.8 930.1L1470.3 930.01L1470.8 930L1471.3 930.07L1471.8 930.21L1472.3 930.44L1472.8 930.77L1473.3 931.24L1473.8 931.97L1474.3 935.87L1474.8 948.75L1475.3 962.28L1475.8 971.98L1476.3 972.48L1476.8 972.8L1477.3 973L1477.8 973.13L1478.3 973.21L1478.8 973.26L1479.3 973.29L1479.8 973.3L1480.3 973.28L1480.8 973.26L1481.3 973.22L1481.8 973.19L1482.3 973.15L1482.8 973.1L1483.3 973.06L1483.8 973.01L1484.3 972.96L1484.8 972.91L1485.3 972.87L1485.8 972.83L1486.3 972.78L1486.8 972.75L1487.3 972.71L1487.8 972.68L1488.3 972.65L1488.8 972.63L1489.3 972.61L1489.8 972.6L1490.3 972.6L1490.8 972.59L1491.3 972.6L1491.8 972.6L1492.3 972.62L1492.8 972.63L1493.3 972.65L1493.8 972.68L1494.3 972.7L1494.8 972.72L1495.3 972.75L1495.8 972.77L1496.3 972.8L1496.8 972.81L1497.3 972.81L1497.8 972.8L1498.3 972.75L1498.8 972.66L1499.3 972.49L1499.8 972.2L1500.3 971.73L1500.8 961.72L1501.3 947.81L1501.8 934.59L1502.3 930.67L1502.8 929.99L1503.3 929.57L1503.8 929.29L1504.3 929.12L1504.8 929.02L1505.3 929L1505.8 929.06L1506.3 929.19L1506.8 929.41L1507.3 929.75L1507.8 930.26L1508.3 931.15L1508.8 939.8L1509.3 953.4L1509.8 967.49L1510.3 972.06L1510.8 972.47L1511.3 972.73L1511.8 972.89L1512.3 972.99L1512.8 973.05L1513.3 973.09L1513.8 973.11L1514.3 973.11L1514.8 973.12L1515.3 973.12L1515.8 973.11L1516.3 973.11L1516.8 973.1L1517.3 973.08L1517.8 973.07L1518.3 973.06L1518.8 973.04L1519.3 973.02L1519.8 973L1520.3 972.98L1520.8 972.96L1521.3 972.93L1521.8 972.91L1522.3 972.88L1522.8 972.85L1523.3 972.82L1523.8 972.8L1524.3 972.77L1524.8 972.74L1525.3 972.71L1525.8 972.69L1526.3 972.66L1526.8 972.64L1527.3 972.62L1527.8 972.61L1528.3 972.6L1528.8 972.58L1529.3 972.57L1529.8 972.57L1530.3 972.56L1530.8 972.56L1531.3 972.55L1531.8 972.53L1532.3 972.49L1532.8 972.42L1533.3 972.31L1533.8 972.1L1534.3 971.77L1534.8 970.13L1535.3 956.75L1535.8 943.77L1536.3 933.36L1536.8 932.32L1537.3 931.81L1537.8 931.5L1538.3 931.31L1538.8 931.21L1539.3 931.19L1539.8 931.21L1540.3 931.3L1540.8 931.47L1541.3 931.73L1541.8 932.13L1542.3 932.75L1542.8 934.5L1543.3 946.72L1543.8 959.85L1544.3 971.85L1544.8 972.4L1545.3 972.75L1545.8 972.97L1546.3 973.11L1546.8 973.2L1547.3 973.25L1547.8 973.26L1548.3 973.22L1548.8 973.18L1549.3 973.12L1549.8 973.06L1550.3 973L1550.8 972.94L1551.3 972.88L1551.8 972.82L1552.3 972.76L1552.8 972.7L1553.3 972.65L1553.8 972.6L1554.3 972.56L1554.8 972.53L1555.3 972.5L1555.8 972.48L1556.3 972.47L1556.8 972.46L1557.3 972.47L1557.8 972.48L1558.3 972.49L1558.8 972.52L1559.3 972.55L1559.8 972.59L1560.3 972.63L1560.8 972.68L1561.3 972.73L1561.8 972.78L1562.3 972.84L1562.8 972.9L1563.3 972.95L1563.8 973L1564.3 973.05L1564.8 973.09L1565.3 973.12L1565.8 973.14L1566.3 973.14L1566.8 973.1L1567.3 973.02L1567.8 972.85L1568.3 972.56L1568.8 972.1L1569.3 967.14L1569.8 956.99L1570.3 947.26L1570.8 942.33L1571.3 941.55L1571.8 941.06L1572.3 940.72L1572.8 940.48L1573.3 940.32L1573.8 940.25L1574.3 940.24L1574.8 940.32L1575.3 940.48L1575.8 940.75L1576.3 941.18L1576.8 941.91L1577.3 946.8L1577.8 956.51L1578.3 966.62L1578.8 971.55L1579.3 971.99L1579.8 972.26L1580.3 972.43L1580.8 972.53L1581.3 972.61L1581.8 972.65L1582.3 972.69L1582.8 972.72L1583.3 972.75L1583.8 972.78L1584.3 972.81L1584.8 972.84L1585.3 972.87L1585.8 972.9L1586.3 972.93L1586.8 972.96L1587.3 973L1587.8 973.03L1588.3 973.06L1588.8 973.08L1589.3 973.11L1589.8 973.13L1590.3 973.15L1590.8 973.16L1591.3 973.17L1591.8 973.18L1592.3 973.18L1592.8 973.18L1593.3 973.17L1593.8 973.16L1594.3 973.14L1594.8 973.13L1595.3 973.11L1595.8 973.08L1596.3 973.06L1596.8 973.03L1597.3 973L1597.8 972.97L1598.3 972.95L1598.8 972.91L1599.3 972.88L1599.8 972.85L1600.3 972.82L1600.8 972.78L1601.3 972.73L1601.8 972.67L1602.3 972.58L1602.8 972.46L1603.3 972.26L1603.8 971.95L1604.3 971.46L1604.8 963.5L1605.3 952.11L1605.8 941.28L1606.3 937.79L1606.8 937.13L1607.3 936.73L1607.8 936.48L1608.3 936.32L1608.8 936.26L1609.3 936.27L1609.8 936.36L1610.3 936.52L1610.8 936.78L1611.3 937.15L1611.8 937.68L1612.3 938.6L1612.8 945.92L1613.3 957.07L1613.8 968.63L1614.3 972.18L1614.8 972.59L1615.3 972.84L1615.8 972.99L1616.3 973.08L1616.8 973.12L1617.3 973.14L1617.8 973.13L1618.3 973.11L1618.8 973.08L1619.3 973.04L1619.8 973L1620.3 972.96L1620.8 972.92L1621.3 972.87L1621.8 972.82L1622.3 972.78L1622.8 972.74L1623.3 972.7L1623.8 972.67L1624.3 972.64L1624.8 972.61L1625.3 972.59L1625.8 972.58L1626.3 972.57L1626.8 972.57L1627.3 972.57L1627.8 972.58L1628.3 972.59L1628.8 972.61L1629.3 972.64L1629.8 972.67L1630.3 972.7L1630.8 972.74L1631.3 972.78L1631.8 972.83L1632.3 972.87L1632.8 972.92L1633.3 972.97L1633.8 973.02L1634.3 973.07L1634.8 973.11L1635.3 973.16L1635.8 973.19L1636.3 973.23L1636.8 973.25L1637.3 973.27L1637.8 973.28L1638.3 973.25L1638.8 973.2L1639.3 973.11L1639.8 972.97L1640.3 972.75L1640.8 972.4L1641.3 971.85L1641.8 932.29L1642.3 893.28L1642.8 884.73L1643.3 884.02L1643.8 883.57L1644.3 883.25L1644.8 883.03L1645.3 882.9L1645.8 882.85L1646.3 882.87L1646.8 882.97L1647.3 883.16L1647.8 883.46L1648.3 883.95L1648.8 884.82L1649.3 908.09L1649.8 948.15L1650.3 971.66L1650.8 972.1L1651.3 972.36L1651.8 972.53L1652.3 972.63L1652.8 972.69L1653.3 972.72L1653.8 972.74L1654.3 972.76L1654.8 972.76L1655.3 972.77L1655.8 972.77L1656.3 972.78L1656.8 972.78L1657.2 977.25Z" fill="#00ff00"/>
<rect x="1314" y="732" width="5.8" height="254.3" fill="#000"/>
<rect x="1311" y="981" width="342.3" height="5.3" fill="#000"/>
<text transform="translate(1262.78 787.2) scale(1.065 1)" font-size="23.5" font-weight="bold" font-style="normal">0.08</text>
<rect x="1311" y="780.1" width="4" height="5" fill="#000"/>
<text transform="translate(1262.4 887.2) scale(1.065 1)" font-size="23.5" font-weight="bold" font-style="normal">0.04</text>
<rect x="1311" y="880.1" width="4" height="5" fill="#000"/>
<text transform="translate(1262.9 988.3) scale(1.065 1)" font-size="23.5" font-weight="bold" font-style="normal">0.00</text>
<text transform="translate(1352.15 1019.4) scale(1.11 1)" font-size="22.7" font-weight="bold" font-style="normal">-1200</text>
<rect x="1378.5" y="985.3" width="6" height="3.4" fill="#000"/>
<text transform="translate(1445.74 1019.4) scale(1.11 1)" font-size="22.7" font-weight="bold" font-style="normal">-800</text>
<rect x="1465.8" y="985.3" width="6" height="3.4" fill="#000"/>
<text transform="translate(1531.84 1019.4) scale(1.11 1)" font-size="22.7" font-weight="bold" font-style="normal">-400</text>
<rect x="1551.9" y="985.3" width="6" height="3.4" fill="#000"/>
<text transform="translate(1635.9 1019.4) scale(1.11 1)" font-size="22.7" font-weight="bold" font-style="normal">0</text>
<rect x="1639.2" y="985.3" width="6" height="3.4" fill="#000"/>
<text transform="translate(1495.21 1053)" font-size="32.5" font-weight="bold" font-style="italic">l</text>
<text transform="translate(1683.69 944.2) scale(1.05 1)" font-size="21.6" font-weight="bold" font-style="normal">1</text>
<text transform="translate(1675.83 969.9) scale(1.05 1)" font-size="21.6" font-weight="bold" font-style="normal">0</text>
<text transform="translate(1659 997.7) scale(1.05 1)" font-size="21.6" font-weight="bold" font-style="normal">-1</text>
<text transform="translate(1259.99 712.6) scale(1.1 1)" font-size="30.4"><tspan font-weight="normal" font-style="normal" font-size="26.75">|</tspan><tspan font-weight="bold" font-style="italic" dx="0.91">a</tspan><tspan font-weight="bold" font-style="italic" font-size="18.85" dx="1.22" dy="4.26">l,</tspan><tspan font-weight="bold" font-style="italic" font-size="20.06" dx="1.82">σ</tspan><tspan font-weight="normal" font-style="normal" font-size="26.75" dx="3.04" dy="-4.26">|</tspan><tspan font-weight="normal" font-style="normal" font-size="18.24" dy="-9.12">2</tspan></text>
<text transform="translate(1656.67 701.3) scale(1.07 1)" font-size="26"><tspan font-weight="bold" font-style="italic">t</tspan><tspan font-weight="bold" font-style="normal">=0</tspan></text>
<text transform="translate(1372.67 795.6) scale(1.07 1)" font-size="26"><tspan font-weight="bold" font-style="italic">t</tspan><tspan font-weight="bold" font-style="normal">=1200</tspan></text>
<text transform="translate(1511.17 805.6) scale(1.07 1)" font-size="26"><tspan font-weight="bold" font-style="italic">t</tspan><tspan font-weight="bold" font-style="normal">=600</tspan></text>
</svg>
</body>
</html>
